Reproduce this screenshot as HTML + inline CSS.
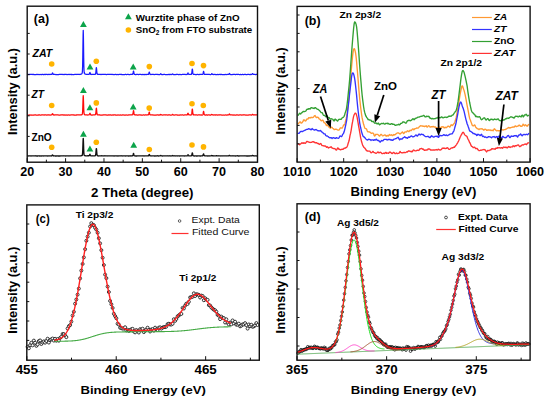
<!DOCTYPE html>
<html><head><meta charset="utf-8"><style>
html,body{margin:0;padding:0;background:#fff;}
svg{display:block;}
text{font-family:"Liberation Sans", sans-serif;}
</style></head><body>
<svg width="550" height="401" viewBox="0 0 550 401">
<rect width="550" height="401" fill="#fff"/>
<path d="M27.20,74.50 L27.35,74.48 L27.51,74.47 L27.66,74.44 L27.81,74.44 L27.97,74.48 L28.12,74.49 L28.27,74.48 L28.43,74.52 L28.58,74.53 L28.74,74.50 L28.89,74.48 L29.04,74.50 L29.20,74.50 L29.35,74.46 L29.50,74.45 L29.66,74.43 L29.81,74.40 L29.96,74.34 L30.12,74.36 L30.27,74.34 L30.42,74.39 L30.58,74.43 L30.73,74.47 L30.88,74.41 L31.04,74.43 L31.19,74.42 L31.35,74.42 L31.50,74.39 L31.65,74.44 L31.81,74.43 L31.96,74.41 L32.11,74.43 L32.27,74.45 L32.42,74.46 L32.57,74.51 L32.73,74.51 L32.88,74.48 L33.03,74.51 L33.19,74.51 L33.34,74.46 L33.49,74.47 L33.65,74.51 L33.80,74.47 L33.96,74.49 L34.11,74.52 L34.26,74.50 L34.42,74.52 L34.57,74.57 L34.72,74.52 L34.88,74.52 L35.03,74.55 L35.18,74.50 L35.34,74.50 L35.49,74.52 L35.64,74.54 L35.80,74.56 L35.95,74.55 L36.10,74.54 L36.26,74.53 L36.41,74.51 L36.57,74.45 L36.72,74.45 L36.87,74.44 L37.03,74.48 L37.18,74.50 L37.33,74.50 L37.49,74.49 L37.64,74.51 L37.79,74.44 L37.95,74.40 L38.10,74.43 L38.25,74.48 L38.41,74.48 L38.56,74.52 L38.71,74.53 L38.87,74.52 L39.02,74.53 L39.18,74.50 L39.33,74.50 L39.48,74.52 L39.64,74.52 L39.79,74.48 L39.94,74.47 L40.10,74.47 L40.25,74.45 L40.40,74.48 L40.56,74.50 L40.71,74.53 L40.86,74.55 L41.02,74.55 L41.17,74.55 L41.33,74.53 L41.48,74.55 L41.63,74.50 L41.79,74.51 L41.94,74.45 L42.09,74.40 L42.25,74.38 L42.40,74.39 L42.55,74.38 L42.71,74.48 L42.86,74.51 L43.01,74.50 L43.17,74.53 L43.32,74.53 L43.47,74.48 L43.63,74.49 L43.78,74.52 L43.94,74.53 L44.09,74.49 L44.24,74.50 L44.40,74.50 L44.55,74.46 L44.70,74.45 L44.86,74.46 L45.01,74.48 L45.16,74.49 L45.32,74.51 L45.47,74.49 L45.62,74.51 L45.78,74.44 L45.93,74.41 L46.08,74.41 L46.24,74.38 L46.39,74.40 L46.55,74.41 L46.70,74.45 L46.85,74.42 L47.01,74.49 L47.16,74.47 L47.31,74.48 L47.47,74.49 L47.62,74.55 L47.77,74.53 L47.93,74.52 L48.08,74.55 L48.23,74.49 L48.39,74.49 L48.54,74.47 L48.69,74.48 L48.85,74.46 L49.00,74.47 L49.16,74.41 L49.31,74.46 L49.46,74.45 L49.62,74.50 L49.77,74.51 L49.92,74.52 L50.08,74.48 L50.23,74.47 L50.38,74.45 L50.54,74.44 L50.69,74.45 L50.84,74.42 L51.00,74.41 L51.15,74.44 L51.30,74.43 L51.46,74.40 L51.61,74.41 L51.77,74.39 L51.92,74.17 L52.07,73.91 L52.23,73.53 L52.38,73.10 L52.53,72.92 L52.69,73.12 L52.84,73.51 L52.99,73.89 L53.15,74.21 L53.30,74.33 L53.45,74.40 L53.61,74.40 L53.76,74.40 L53.91,74.43 L54.07,74.44 L54.22,74.45 L54.38,74.48 L54.53,74.50 L54.68,74.46 L54.84,74.49 L54.99,74.47 L55.14,74.47 L55.30,74.48 L55.45,74.52 L55.60,74.53 L55.76,74.54 L55.91,74.53 L56.06,74.50 L56.22,74.50 L56.37,74.50 L56.52,74.49 L56.68,74.52 L56.83,74.57 L56.99,74.57 L57.14,74.57 L57.29,74.56 L57.45,74.58 L57.60,74.53 L57.75,74.53 L57.91,74.52 L58.06,74.56 L58.21,74.56 L58.37,74.63 L58.52,74.58 L58.67,74.53 L58.83,74.53 L58.98,74.46 L59.13,74.42 L59.29,74.47 L59.44,74.47 L59.60,74.40 L59.75,74.43 L59.90,74.43 L60.06,74.41 L60.21,74.45 L60.36,74.48 L60.52,74.43 L60.67,74.43 L60.82,74.41 L60.98,74.37 L61.13,74.40 L61.28,74.44 L61.44,74.45 L61.59,74.45 L61.74,74.48 L61.90,74.44 L62.05,74.42 L62.21,74.42 L62.36,74.42 L62.51,74.44 L62.67,74.48 L62.82,74.55 L62.97,74.51 L63.13,74.55 L63.28,74.54 L63.43,74.53 L63.59,74.45 L63.74,74.47 L63.89,74.46 L64.05,74.46 L64.20,74.47 L64.36,74.49 L64.51,74.53 L64.66,74.51 L64.82,74.46 L64.97,74.45 L65.12,74.40 L65.28,74.30 L65.43,74.29 L65.58,74.37 L65.74,74.39 L65.89,74.41 L66.04,74.46 L66.20,74.50 L66.35,74.47 L66.50,74.47 L66.66,74.50 L66.81,74.52 L66.97,74.52 L67.12,74.53 L67.27,74.53 L67.43,74.51 L67.58,74.52 L67.73,74.48 L67.89,74.49 L68.04,74.46 L68.19,74.48 L68.35,74.47 L68.50,74.45 L68.65,74.47 L68.81,74.53 L68.96,74.52 L69.11,74.54 L69.27,74.58 L69.42,74.48 L69.58,74.45 L69.73,74.46 L69.88,74.44 L70.04,74.41 L70.19,74.46 L70.34,74.45 L70.50,74.48 L70.65,74.49 L70.80,74.51 L70.96,74.56 L71.11,74.55 L71.26,74.51 L71.42,74.46 L71.57,74.50 L71.72,74.48 L71.88,74.52 L72.03,74.54 L72.19,74.59 L72.34,74.55 L72.49,74.52 L72.65,74.50 L72.80,74.48 L72.95,74.52 L73.11,74.52 L73.26,74.53 L73.41,74.52 L73.57,74.50 L73.72,74.50 L73.87,74.50 L74.03,74.50 L74.18,74.51 L74.33,74.50 L74.49,74.46 L74.64,74.46 L74.80,74.45 L74.95,74.45 L75.10,74.47 L75.26,74.48 L75.41,74.42 L75.56,74.42 L75.72,74.40 L75.87,74.43 L76.02,74.41 L76.18,74.46 L76.33,74.50 L76.48,74.51 L76.64,74.47 L76.79,74.49 L76.94,74.48 L77.10,74.41 L77.25,74.43 L77.41,74.49 L77.56,74.48 L77.71,74.47 L77.87,74.47 L78.02,74.46 L78.17,74.38 L78.33,74.35 L78.48,74.38 L78.63,74.38 L78.79,74.40 L78.94,74.46 L79.09,74.48 L79.25,74.46 L79.40,74.52 L79.55,74.48 L79.71,74.42 L79.86,74.37 L80.02,74.34 L80.17,74.31 L80.32,74.32 L80.48,74.29 L80.63,74.28 L80.78,74.24 L80.94,74.18 L81.09,74.10 L81.24,74.08 L81.40,74.04 L81.55,73.96 L81.70,73.85 L81.86,73.71 L82.01,73.49 L82.16,73.12 L82.32,72.32 L82.47,70.31 L82.63,65.88 L82.78,57.86 L82.93,46.64 L83.09,35.42 L83.24,30.39 L83.39,35.39 L83.55,46.58 L83.70,57.78 L83.85,65.77 L84.01,70.22 L84.16,72.21 L84.31,73.05 L84.47,73.49 L84.62,73.75 L84.77,73.89 L84.93,73.98 L85.08,74.05 L85.24,74.05 L85.39,74.07 L85.54,74.14 L85.70,74.17 L85.85,74.23 L86.00,74.28 L86.16,74.36 L86.31,74.36 L86.46,74.42 L86.62,74.40 L86.77,74.38 L86.92,74.35 L87.08,74.34 L87.23,74.30 L87.39,74.33 L87.54,74.34 L87.69,74.36 L87.85,74.41 L88.00,74.41 L88.15,74.37 L88.31,74.38 L88.46,74.38 L88.61,74.35 L88.77,74.40 L88.92,74.41 L89.07,74.33 L89.23,74.19 L89.38,73.98 L89.53,73.56 L89.69,72.99 L89.84,72.58 L90.00,72.50 L90.15,72.84 L90.30,73.35 L90.46,73.87 L90.61,74.13 L90.76,74.35 L90.92,74.39 L91.07,74.47 L91.22,74.47 L91.38,74.51 L91.53,74.42 L91.68,74.42 L91.84,74.41 L91.99,74.40 L92.14,74.42 L92.30,74.47 L92.45,74.45 L92.61,74.42 L92.76,74.44 L92.91,74.41 L93.07,74.39 L93.22,74.39 L93.37,74.40 L93.53,74.38 L93.68,74.35 L93.83,74.36 L93.99,74.39 L94.14,74.36 L94.29,74.38 L94.45,74.38 L94.60,74.35 L94.75,74.34 L94.91,74.34 L95.06,74.35 L95.22,74.30 L95.37,74.25 L95.52,74.01 L95.68,73.52 L95.83,72.53 L95.98,70.98 L96.14,69.11 L96.29,67.70 L96.44,67.70 L96.60,69.09 L96.75,70.98 L96.90,72.54 L97.06,73.50 L97.21,74.01 L97.36,74.18 L97.52,74.28 L97.67,74.28 L97.83,74.28 L97.98,74.30 L98.13,74.38 L98.29,74.34 L98.44,74.35 L98.59,74.39 L98.75,74.37 L98.90,74.35 L99.05,74.38 L99.21,74.39 L99.36,74.42 L99.51,74.44 L99.67,74.44 L99.82,74.44 L99.97,74.43 L100.13,74.37 L100.28,74.44 L100.44,74.42 L100.59,74.45 L100.74,74.48 L100.90,74.53 L101.05,74.48 L101.20,74.54 L101.36,74.51 L101.51,74.47 L101.66,74.45 L101.82,74.41 L101.97,74.39 L102.12,74.43 L102.28,74.45 L102.43,74.44 L102.58,74.46 L102.74,74.48 L102.89,74.39 L103.05,74.43 L103.20,74.43 L103.35,74.47 L103.51,74.41 L103.66,74.47 L103.81,74.42 L103.97,74.42 L104.12,74.43 L104.27,74.48 L104.43,74.48 L104.58,74.49 L104.73,74.47 L104.89,74.43 L105.04,74.41 L105.19,74.41 L105.35,74.43 L105.50,74.45 L105.66,74.46 L105.81,74.46 L105.96,74.49 L106.12,74.54 L106.27,74.56 L106.42,74.55 L106.58,74.55 L106.73,74.50 L106.88,74.44 L107.04,74.44 L107.19,74.43 L107.34,74.45 L107.50,74.46 L107.65,74.49 L107.80,74.48 L107.96,74.49 L108.11,74.45 L108.27,74.45 L108.42,74.43 L108.57,74.44 L108.73,74.46 L108.88,74.45 L109.03,74.46 L109.19,74.44 L109.34,74.42 L109.49,74.41 L109.65,74.39 L109.80,74.39 L109.95,74.43 L110.11,74.44 L110.26,74.44 L110.42,74.48 L110.57,74.45 L110.72,74.44 L110.88,74.43 L111.03,74.45 L111.18,74.43 L111.34,74.46 L111.49,74.47 L111.64,74.48 L111.80,74.46 L111.95,74.50 L112.10,74.46 L112.26,74.47 L112.41,74.48 L112.56,74.49 L112.72,74.49 L112.87,74.51 L113.03,74.50 L113.18,74.51 L113.33,74.51 L113.49,74.51 L113.64,74.48 L113.79,74.50 L113.95,74.52 L114.10,74.53 L114.25,74.53 L114.41,74.53 L114.56,74.54 L114.71,74.51 L114.87,74.42 L115.02,74.43 L115.17,74.43 L115.33,74.37 L115.48,74.36 L115.64,74.45 L115.79,74.44 L115.94,74.48 L116.10,74.55 L116.25,74.61 L116.40,74.57 L116.56,74.58 L116.71,74.54 L116.86,74.48 L117.02,74.45 L117.17,74.46 L117.32,74.47 L117.48,74.53 L117.63,74.52 L117.78,74.51 L117.94,74.52 L118.09,74.53 L118.25,74.53 L118.40,74.56 L118.55,74.56 L118.71,74.55 L118.86,74.51 L119.01,74.44 L119.17,74.45 L119.32,74.46 L119.47,74.45 L119.63,74.44 L119.78,74.47 L119.93,74.44 L120.09,74.42 L120.24,74.36 L120.39,74.39 L120.55,74.42 L120.70,74.45 L120.86,74.45 L121.01,74.51 L121.16,74.53 L121.32,74.44 L121.47,74.43 L121.62,74.46 L121.78,74.48 L121.93,74.50 L122.08,74.59 L122.24,74.60 L122.39,74.60 L122.54,74.60 L122.70,74.55 L122.85,74.52 L123.00,74.53 L123.16,74.57 L123.31,74.55 L123.47,74.56 L123.62,74.57 L123.77,74.58 L123.93,74.53 L124.08,74.57 L124.23,74.55 L124.39,74.54 L124.54,74.50 L124.69,74.52 L124.85,74.51 L125.00,74.50 L125.15,74.48 L125.31,74.49 L125.46,74.46 L125.61,74.39 L125.77,74.46 L125.92,74.49 L126.08,74.49 L126.23,74.50 L126.38,74.56 L126.54,74.53 L126.69,74.54 L126.84,74.51 L127.00,74.50 L127.15,74.48 L127.30,74.47 L127.46,74.46 L127.61,74.48 L127.76,74.48 L127.92,74.48 L128.07,74.49 L128.22,74.49 L128.38,74.47 L128.53,74.48 L128.69,74.51 L128.84,74.57 L128.99,74.60 L129.15,74.61 L129.30,74.63 L129.45,74.64 L129.61,74.58 L129.76,74.51 L129.91,74.51 L130.07,74.51 L130.22,74.45 L130.37,74.42 L130.53,74.40 L130.68,74.42 L130.83,74.38 L130.99,74.40 L131.14,74.44 L131.30,74.49 L131.45,74.46 L131.60,74.49 L131.76,74.46 L131.91,74.44 L132.06,74.39 L132.22,74.41 L132.37,74.38 L132.52,74.34 L132.68,74.23 L132.83,74.01 L132.98,73.51 L133.14,72.70 L133.29,71.75 L133.45,71.04 L133.60,71.11 L133.75,71.82 L133.91,72.80 L134.06,73.62 L134.21,74.16 L134.37,74.34 L134.52,74.41 L134.67,74.49 L134.83,74.50 L134.98,74.48 L135.13,74.49 L135.29,74.55 L135.44,74.57 L135.59,74.57 L135.75,74.58 L135.90,74.54 L136.06,74.52 L136.21,74.47 L136.36,74.47 L136.52,74.47 L136.67,74.51 L136.82,74.46 L136.98,74.47 L137.13,74.45 L137.28,74.42 L137.44,74.42 L137.59,74.45 L137.74,74.39 L137.90,74.43 L138.05,74.45 L138.20,74.49 L138.36,74.55 L138.51,74.60 L138.67,74.53 L138.82,74.50 L138.97,74.45 L139.13,74.39 L139.28,74.39 L139.43,74.39 L139.59,74.42 L139.74,74.41 L139.89,74.43 L140.05,74.42 L140.20,74.46 L140.35,74.45 L140.51,74.48 L140.66,74.46 L140.81,74.42 L140.97,74.43 L141.12,74.47 L141.28,74.53 L141.43,74.58 L141.58,74.64 L141.74,74.62 L141.89,74.61 L142.04,74.56 L142.20,74.53 L142.35,74.50 L142.50,74.52 L142.66,74.48 L142.81,74.48 L142.96,74.45 L143.12,74.45 L143.27,74.50 L143.42,74.51 L143.58,74.51 L143.73,74.55 L143.89,74.57 L144.04,74.49 L144.19,74.49 L144.35,74.51 L144.50,74.51 L144.65,74.49 L144.81,74.56 L144.96,74.55 L145.11,74.53 L145.27,74.51 L145.42,74.54 L145.57,74.45 L145.73,74.45 L145.88,74.44 L146.03,74.47 L146.19,74.44 L146.34,74.52 L146.50,74.50 L146.65,74.53 L146.80,74.51 L146.96,74.47 L147.11,74.45 L147.26,74.46 L147.42,74.39 L147.57,74.39 L147.72,74.36 L147.88,74.32 L148.03,74.34 L148.18,74.38 L148.34,74.38 L148.49,74.31 L148.64,74.06 L148.80,73.61 L148.95,73.00 L149.11,72.35 L149.26,72.10 L149.41,72.38 L149.57,72.94 L149.72,73.56 L149.87,74.01 L150.03,74.24 L150.18,74.36 L150.33,74.47 L150.49,74.47 L150.64,74.51 L150.79,74.52 L150.95,74.54 L151.10,74.53 L151.25,74.50 L151.41,74.47 L151.56,74.46 L151.72,74.45 L151.87,74.41 L152.02,74.49 L152.18,74.50 L152.33,74.47 L152.48,74.43 L152.64,74.46 L152.79,74.42 L152.94,74.40 L153.10,74.43 L153.25,74.45 L153.40,74.47 L153.56,74.46 L153.71,74.48 L153.86,74.50 L154.02,74.57 L154.17,74.54 L154.33,74.54 L154.48,74.52 L154.63,74.52 L154.79,74.43 L154.94,74.44 L155.09,74.45 L155.25,74.45 L155.40,74.41 L155.55,74.43 L155.71,74.39 L155.86,74.35 L156.01,74.37 L156.17,74.39 L156.32,74.40 L156.48,74.41 L156.63,74.43 L156.78,74.46 L156.94,74.47 L157.09,74.47 L157.24,74.49 L157.40,74.52 L157.55,74.49 L157.70,74.44 L157.86,74.43 L158.01,74.48 L158.16,74.47 L158.32,74.51 L158.47,74.53 L158.62,74.57 L158.78,74.52 L158.93,74.51 L159.09,74.54 L159.24,74.57 L159.39,74.53 L159.55,74.54 L159.70,74.54 L159.85,74.50 L160.01,74.43 L160.16,74.32 L160.31,74.17 L160.47,73.96 L160.62,73.73 L160.77,73.68 L160.93,73.82 L161.08,74.05 L161.23,74.23 L161.39,74.39 L161.54,74.49 L161.70,74.54 L161.85,74.54 L162.00,74.58 L162.16,74.61 L162.31,74.54 L162.46,74.52 L162.62,74.52 L162.77,74.54 L162.92,74.49 L163.08,74.52 L163.23,74.51 L163.38,74.51 L163.54,74.48 L163.69,74.47 L163.84,74.46 L164.00,74.49 L164.15,74.46 L164.31,74.46 L164.46,74.50 L164.61,74.48 L164.77,74.46 L164.92,74.46 L165.07,74.49 L165.23,74.53 L165.38,74.61 L165.53,74.60 L165.69,74.64 L165.84,74.62 L165.99,74.56 L166.15,74.55 L166.30,74.53 L166.45,74.53 L166.61,74.53 L166.76,74.56 L166.92,74.53 L167.07,74.54 L167.22,74.52 L167.38,74.54 L167.53,74.51 L167.68,74.52 L167.84,74.52 L167.99,74.46 L168.14,74.47 L168.30,74.48 L168.45,74.48 L168.60,74.49 L168.76,74.57 L168.91,74.53 L169.06,74.50 L169.22,74.49 L169.37,74.52 L169.53,74.46 L169.68,74.50 L169.83,74.50 L169.99,74.48 L170.14,74.48 L170.29,74.51 L170.45,74.45 L170.60,74.46 L170.75,74.50 L170.91,74.50 L171.06,74.49 L171.21,74.53 L171.37,74.55 L171.52,74.51 L171.67,74.48 L171.83,74.48 L171.98,74.41 L172.14,74.30 L172.29,74.18 L172.44,74.01 L172.60,73.88 L172.75,73.88 L172.90,74.04 L173.06,74.21 L173.21,74.36 L173.36,74.49 L173.52,74.55 L173.67,74.60 L173.82,74.58 L173.98,74.58 L174.13,74.55 L174.28,74.58 L174.44,74.57 L174.59,74.54 L174.75,74.50 L174.90,74.53 L175.05,74.50 L175.21,74.48 L175.36,74.52 L175.51,74.56 L175.67,74.56 L175.82,74.54 L175.97,74.54 L176.13,74.49 L176.28,74.50 L176.43,74.46 L176.59,74.48 L176.74,74.45 L176.89,74.48 L177.05,74.48 L177.20,74.48 L177.36,74.44 L177.51,74.40 L177.66,74.42 L177.82,74.43 L177.97,74.47 L178.12,74.49 L178.28,74.55 L178.43,74.56 L178.58,74.54 L178.74,74.53 L178.89,74.56 L179.04,74.53 L179.20,74.52 L179.35,74.52 L179.51,74.51 L179.66,74.46 L179.81,74.49 L179.97,74.49 L180.12,74.50 L180.27,74.48 L180.43,74.51 L180.58,74.50 L180.73,74.50 L180.89,74.53 L181.04,74.56 L181.19,74.60 L181.35,74.61 L181.50,74.60 L181.65,74.55 L181.81,74.55 L181.96,74.51 L182.12,74.48 L182.27,74.49 L182.42,74.46 L182.58,74.44 L182.73,74.39 L182.88,74.39 L183.04,74.38 L183.19,74.41 L183.34,74.41 L183.50,74.47 L183.65,74.43 L183.80,74.40 L183.96,74.39 L184.11,74.35 L184.26,74.32 L184.42,74.39 L184.57,74.41 L184.73,74.45 L184.88,74.46 L185.03,74.49 L185.19,74.45 L185.34,74.47 L185.49,74.47 L185.65,74.54 L185.80,74.53 L185.95,74.54 L186.11,74.52 L186.26,74.52 L186.41,74.47 L186.57,74.48 L186.72,74.47 L186.87,74.52 L187.03,74.44 L187.18,74.39 L187.34,74.29 L187.49,74.07 L187.64,73.68 L187.80,73.32 L187.95,72.99 L188.10,72.97 L188.26,73.34 L188.41,73.79 L188.56,74.10 L188.72,74.32 L188.87,74.41 L189.02,74.42 L189.18,74.39 L189.33,74.40 L189.48,74.45 L189.64,74.48 L189.79,74.45 L189.95,74.44 L190.10,74.42 L190.25,74.37 L190.41,74.29 L190.56,74.31 L190.71,74.31 L190.87,74.35 L191.02,74.39 L191.17,74.44 L191.33,74.32 L191.48,74.19 L191.63,73.83 L191.79,73.00 L191.94,71.73 L192.09,70.28 L192.25,69.11 L192.40,69.11 L192.56,70.18 L192.71,71.66 L192.86,72.88 L193.02,73.67 L193.17,74.02 L193.32,74.25 L193.48,74.34 L193.63,74.41 L193.78,74.39 L193.94,74.40 L194.09,74.39 L194.24,74.41 L194.40,74.39 L194.55,74.43 L194.70,74.42 L194.86,74.46 L195.01,74.46 L195.17,74.45 L195.32,74.52 L195.47,74.59 L195.63,74.54 L195.78,74.54 L195.93,74.62 L196.09,74.59 L196.24,74.54 L196.39,74.57 L196.55,74.55 L196.70,74.49 L196.85,74.46 L197.01,74.47 L197.16,74.46 L197.31,74.47 L197.47,74.44 L197.62,74.46 L197.78,74.42 L197.93,74.42 L198.08,74.46 L198.24,74.50 L198.39,74.51 L198.54,74.54 L198.70,74.54 L198.85,74.52 L199.00,74.50 L199.16,74.51 L199.31,74.47 L199.46,74.50 L199.62,74.51 L199.77,74.49 L199.92,74.46 L200.08,74.47 L200.23,74.44 L200.39,74.43 L200.54,74.47 L200.69,74.46 L200.85,74.42 L201.00,74.40 L201.15,74.37 L201.31,74.33 L201.46,74.38 L201.61,74.44 L201.77,74.42 L201.92,74.45 L202.07,74.48 L202.23,74.45 L202.38,74.42 L202.54,74.44 L202.69,74.44 L202.84,74.25 L203.00,73.87 L203.15,73.23 L203.30,72.37 L203.46,71.55 L203.61,71.31 L203.76,71.82 L203.92,72.64 L204.07,73.39 L204.22,73.92 L204.38,74.27 L204.53,74.37 L204.68,74.44 L204.84,74.46 L204.99,74.48 L205.15,74.46 L205.30,74.48 L205.45,74.47 L205.61,74.43 L205.76,74.41 L205.91,74.40 L206.07,74.41 L206.22,74.41 L206.37,74.44 L206.53,74.47 L206.68,74.47 L206.83,74.45 L206.99,74.47 L207.14,74.44 L207.29,74.41 L207.45,74.44 L207.60,74.40 L207.76,74.40 L207.91,74.45 L208.06,74.47 L208.22,74.41 L208.37,74.46 L208.52,74.47 L208.68,74.46 L208.83,74.42 L208.98,74.44 L209.14,74.42 L209.29,74.41 L209.44,74.41 L209.60,74.47 L209.75,74.50 L209.90,74.51 L210.06,74.54 L210.21,74.56 L210.37,74.57 L210.52,74.58 L210.67,74.58 L210.83,74.55 L210.98,74.51 L211.13,74.40 L211.29,74.26 L211.44,74.07 L211.59,73.85 L211.75,73.63 L211.90,73.64 L212.05,73.80 L212.21,74.05 L212.36,74.26 L212.51,74.41 L212.67,74.48 L212.82,74.49 L212.98,74.48 L213.13,74.46 L213.28,74.48 L213.44,74.53 L213.59,74.55 L213.74,74.50 L213.90,74.49 L214.05,74.44 L214.20,74.37 L214.36,74.40 L214.51,74.45 L214.66,74.43 L214.82,74.48 L214.97,74.54 L215.12,74.50 L215.28,74.48 L215.43,74.51 L215.59,74.50 L215.74,74.49 L215.89,74.52 L216.05,74.57 L216.20,74.61 L216.35,74.63 L216.51,74.63 L216.66,74.57 L216.81,74.53 L216.97,74.51 L217.12,74.47 L217.27,74.48 L217.43,74.51 L217.58,74.49 L217.73,74.51 L217.89,74.54 L218.04,74.52 L218.20,74.55 L218.35,74.60 L218.50,74.58 L218.66,74.50 L218.81,74.48 L218.96,74.45 L219.12,74.40 L219.27,74.39 L219.42,74.48 L219.58,74.49 L219.73,74.47 L219.88,74.54 L220.04,74.53 L220.19,74.47 L220.34,74.48 L220.50,74.52 L220.65,74.46 L220.81,74.49 L220.96,74.50 L221.11,74.48 L221.27,74.47 L221.42,74.51 L221.57,74.47 L221.73,74.49 L221.88,74.51 L222.03,74.58 L222.19,74.54 L222.34,74.59 L222.49,74.58 L222.65,74.58 L222.80,74.53 L222.95,74.57 L223.11,74.56 L223.26,74.57 L223.42,74.56 L223.57,74.53 L223.72,74.52 L223.88,74.50 L224.03,74.53 L224.18,74.55 L224.34,74.59 L224.49,74.62 L224.64,74.61 L224.80,74.54 L224.95,74.50 L225.10,74.44 L225.26,74.44 L225.41,74.42 L225.57,74.48 L225.72,74.52 L225.87,74.60 L226.03,74.58 L226.18,74.60 L226.33,74.57 L226.49,74.56 L226.64,74.52 L226.79,74.48 L226.95,74.48 L227.10,74.52 L227.25,74.48 L227.41,74.48 L227.56,74.47 L227.71,74.47 L227.87,74.45 L228.02,74.49 L228.18,74.50 L228.33,74.48 L228.48,74.49 L228.64,74.42 L228.79,74.37 L228.94,74.22 L229.10,73.97 L229.25,73.66 L229.40,73.47 L229.56,73.50 L229.71,73.70 L229.86,74.04 L230.02,74.24 L230.17,74.41 L230.32,74.49 L230.48,74.51 L230.63,74.51 L230.79,74.51 L230.94,74.50 L231.09,74.53 L231.25,74.55 L231.40,74.58 L231.55,74.64 L231.71,74.59 L231.86,74.56 L232.01,74.52 L232.17,74.48 L232.32,74.48 L232.47,74.52 L232.63,74.50 L232.78,74.54 L232.93,74.53 L233.09,74.49 L233.24,74.47 L233.40,74.44 L233.55,74.40 L233.70,74.39 L233.86,74.41 L234.01,74.36 L234.16,74.35 L234.32,74.34 L234.47,74.37 L234.62,74.40 L234.78,74.49 L234.93,74.49 L235.08,74.51 L235.24,74.53 L235.39,74.51 L235.54,74.46 L235.70,74.53 L235.85,74.54 L236.01,74.49 L236.16,74.46 L236.31,74.48 L236.47,74.45 L236.62,74.42 L236.77,74.43 L236.93,74.47 L237.08,74.48 L237.23,74.45 L237.39,74.50 L237.54,74.54 L237.69,74.48 L237.85,74.46 L238.00,74.49 L238.15,74.46 L238.31,74.39 L238.46,74.43 L238.62,74.46 L238.77,74.48 L238.92,74.44 L239.08,74.56 L239.23,74.54 L239.38,74.54 L239.54,74.53 L239.69,74.61 L239.84,74.55 L240.00,74.55 L240.15,74.54 L240.30,74.50 L240.46,74.41 L240.61,74.48 L240.76,74.52 L240.92,74.55 L241.07,74.55 L241.23,74.64 L241.38,74.61 L241.53,74.63 L241.69,74.59 L241.84,74.58 L241.99,74.54 L242.15,74.45 L242.30,74.37 L242.45,74.37 L242.61,74.38 L242.76,74.38 L242.91,74.43 L243.07,74.52 L243.22,74.55 L243.37,74.57 L243.53,74.60 L243.68,74.59 L243.84,74.53 L243.99,74.52 L244.14,74.49 L244.30,74.46 L244.45,74.44 L244.60,74.46 L244.76,74.47 L244.91,74.48 L245.06,74.50 L245.22,74.51 L245.37,74.48 L245.52,74.41 L245.68,74.46 L245.83,74.51 L245.98,74.54 L246.14,74.56 L246.29,74.60 L246.45,74.56 L246.60,74.52 L246.75,74.52 L246.91,74.54 L247.06,74.54 L247.21,74.53 L247.37,74.50 L247.52,74.45 L247.67,74.44 L247.83,74.39 L247.98,74.40 L248.13,74.39 L248.29,74.43 L248.44,74.45 L248.60,74.45 L248.75,74.43 L248.90,74.43 L249.06,74.45 L249.21,74.48 L249.36,74.53 L249.52,74.54 L249.67,74.60 L249.82,74.55 L249.98,74.54 L250.13,74.50 L250.28,74.44 L250.44,74.47 L250.59,74.55 L250.74,74.48 L250.90,74.50 L251.05,74.56 L251.21,74.49 L251.36,74.41 L251.51,74.41 L251.67,74.39 L251.82,74.33 L251.97,74.22 L252.13,74.03 L252.28,73.84 L252.43,73.61 L252.59,73.61 L252.74,73.73 L252.89,73.97 L253.05,74.17 L253.20,74.30 L253.35,74.38 L253.51,74.45 L253.66,74.47 L253.82,74.43 L253.97,74.45 L254.12,74.43 L254.28,74.45 L254.43,74.49 L254.58,74.49 L254.74,74.48 L254.89,74.50 L255.04,74.48 L255.20,74.49 L255.35,74.57 L255.50,74.61 L255.66,74.60 L255.81,74.60 L255.96,74.56 L256.12,74.47 L256.27,74.43 L256.43,74.42 L256.58,74.41 L256.73,74.45 L256.89,74.46 L257.04,74.48 L257.19,74.46 L257.35,74.47 L257.50,74.45" fill="none" stroke="#1a1aff" stroke-width="1.25" stroke-linejoin="round" />
<path d="M27.20,115.09 L27.35,115.11 L27.51,115.15 L27.66,115.10 L27.81,115.11 L27.97,115.13 L28.12,115.08 L28.27,115.07 L28.43,115.12 L28.58,115.11 L28.74,115.07 L28.89,115.13 L29.04,115.08 L29.20,115.05 L29.35,115.02 L29.50,114.99 L29.66,114.94 L29.81,114.95 L29.96,114.95 L30.12,114.98 L30.27,114.96 L30.42,115.02 L30.58,115.06 L30.73,115.07 L30.88,115.05 L31.04,115.08 L31.19,115.05 L31.35,115.03 L31.50,114.97 L31.65,115.00 L31.81,115.07 L31.96,115.01 L32.11,115.03 L32.27,115.08 L32.42,115.06 L32.57,115.02 L32.73,115.03 L32.88,115.01 L33.03,115.04 L33.19,115.04 L33.34,115.00 L33.49,115.03 L33.65,115.01 L33.80,115.01 L33.96,115.00 L34.11,115.03 L34.26,114.99 L34.42,115.02 L34.57,114.98 L34.72,114.94 L34.88,114.92 L35.03,114.92 L35.18,114.90 L35.34,114.94 L35.49,114.97 L35.64,114.95 L35.80,115.01 L35.95,115.02 L36.10,115.02 L36.26,115.06 L36.41,115.06 L36.57,115.02 L36.72,115.05 L36.87,115.04 L37.03,115.03 L37.18,115.05 L37.33,115.05 L37.49,115.01 L37.64,115.03 L37.79,115.03 L37.95,115.00 L38.10,114.99 L38.25,115.03 L38.41,114.99 L38.56,114.99 L38.71,115.00 L38.87,115.01 L39.02,114.95 L39.18,114.91 L39.33,114.93 L39.48,114.93 L39.64,114.94 L39.79,115.01 L39.94,115.06 L40.10,115.04 L40.25,115.11 L40.40,115.11 L40.56,115.08 L40.71,115.08 L40.86,115.09 L41.02,115.01 L41.17,115.00 L41.33,115.00 L41.48,114.94 L41.63,114.92 L41.79,114.94 L41.94,114.92 L42.09,114.89 L42.25,114.93 L42.40,114.93 L42.55,114.94 L42.71,114.92 L42.86,114.98 L43.01,114.96 L43.17,114.95 L43.32,114.98 L43.47,114.99 L43.63,114.97 L43.78,115.02 L43.94,115.02 L44.09,114.98 L44.24,115.00 L44.40,115.04 L44.55,114.96 L44.70,114.95 L44.86,114.93 L45.01,114.90 L45.16,114.85 L45.32,114.88 L45.47,114.91 L45.62,114.92 L45.78,114.95 L45.93,114.98 L46.08,114.98 L46.24,114.97 L46.39,115.04 L46.55,115.04 L46.70,115.02 L46.85,115.03 L47.01,115.01 L47.16,114.97 L47.31,114.99 L47.47,114.98 L47.62,114.98 L47.77,115.03 L47.93,115.01 L48.08,114.99 L48.23,114.99 L48.39,114.97 L48.54,114.93 L48.69,115.00 L48.85,114.98 L49.00,114.99 L49.16,115.00 L49.31,115.01 L49.46,114.97 L49.62,114.98 L49.77,115.05 L49.92,115.06 L50.08,115.10 L50.23,115.09 L50.38,115.10 L50.54,115.01 L50.69,115.00 L50.84,114.96 L51.00,114.95 L51.15,114.88 L51.30,114.93 L51.46,114.91 L51.61,114.88 L51.77,114.82 L51.92,114.73 L52.07,114.48 L52.23,114.13 L52.38,113.79 L52.53,113.66 L52.69,113.81 L52.84,114.12 L52.99,114.47 L53.15,114.71 L53.30,114.83 L53.45,114.92 L53.61,114.93 L53.76,114.99 L53.91,115.03 L54.07,115.03 L54.22,115.02 L54.38,115.01 L54.53,114.94 L54.68,114.89 L54.84,114.89 L54.99,114.87 L55.14,114.89 L55.30,114.93 L55.45,114.91 L55.60,114.94 L55.76,114.91 L55.91,114.91 L56.06,114.90 L56.22,114.92 L56.37,114.88 L56.52,114.89 L56.68,114.90 L56.83,114.93 L56.99,114.97 L57.14,114.98 L57.29,114.98 L57.45,114.96 L57.60,114.96 L57.75,114.89 L57.91,114.95 L58.06,114.95 L58.21,114.96 L58.37,114.96 L58.52,115.03 L58.67,115.01 L58.83,115.04 L58.98,115.07 L59.13,115.09 L59.29,115.09 L59.44,115.08 L59.60,115.09 L59.75,115.09 L59.90,115.07 L60.06,115.01 L60.21,115.01 L60.36,114.99 L60.52,114.96 L60.67,114.97 L60.82,115.00 L60.98,115.02 L61.13,114.94 L61.28,114.97 L61.44,114.97 L61.59,114.95 L61.74,114.94 L61.90,114.94 L62.05,114.96 L62.21,114.92 L62.36,114.96 L62.51,114.92 L62.67,114.99 L62.82,114.97 L62.97,115.00 L63.13,114.96 L63.28,114.99 L63.43,115.03 L63.59,115.01 L63.74,114.98 L63.89,114.99 L64.05,114.98 L64.20,114.96 L64.36,115.02 L64.51,115.02 L64.66,114.98 L64.82,115.04 L64.97,115.03 L65.12,115.01 L65.28,115.06 L65.43,115.08 L65.58,115.05 L65.74,114.99 L65.89,114.93 L66.04,114.93 L66.20,114.93 L66.35,114.99 L66.50,115.03 L66.66,115.05 L66.81,115.04 L66.97,115.10 L67.12,115.06 L67.27,115.03 L67.43,115.05 L67.58,115.06 L67.73,115.01 L67.89,114.98 L68.04,115.03 L68.19,115.03 L68.35,114.97 L68.50,114.97 L68.65,114.97 L68.81,114.95 L68.96,114.95 L69.11,115.01 L69.27,115.03 L69.42,115.01 L69.58,115.01 L69.73,115.03 L69.88,115.02 L70.04,115.02 L70.19,115.05 L70.34,115.02 L70.50,115.02 L70.65,114.98 L70.80,114.90 L70.96,114.94 L71.11,114.95 L71.26,114.92 L71.42,114.91 L71.57,114.93 L71.72,114.88 L71.88,114.88 L72.03,114.90 L72.19,114.88 L72.34,114.93 L72.49,114.93 L72.65,114.91 L72.80,114.92 L72.95,114.97 L73.11,114.92 L73.26,114.99 L73.41,114.99 L73.57,114.98 L73.72,114.99 L73.87,115.06 L74.03,115.00 L74.18,115.05 L74.33,115.02 L74.49,115.05 L74.64,114.99 L74.80,115.00 L74.95,115.02 L75.10,115.04 L75.26,115.02 L75.41,115.09 L75.56,115.10 L75.72,115.04 L75.87,115.05 L76.02,115.02 L76.18,114.99 L76.33,115.01 L76.48,115.01 L76.64,114.98 L76.79,115.01 L76.94,114.99 L77.10,114.93 L77.25,114.96 L77.41,114.92 L77.56,114.91 L77.71,114.90 L77.87,114.91 L78.02,114.90 L78.17,114.92 L78.33,114.94 L78.48,114.95 L78.63,114.94 L78.79,114.89 L78.94,114.89 L79.09,114.88 L79.25,114.86 L79.40,114.88 L79.55,114.93 L79.71,114.98 L79.86,115.00 L80.02,115.01 L80.17,114.98 L80.32,114.97 L80.48,114.94 L80.63,114.92 L80.78,114.91 L80.94,114.95 L81.09,114.93 L81.24,114.92 L81.40,114.87 L81.55,114.85 L81.70,114.78 L81.86,114.70 L82.01,114.61 L82.16,114.41 L82.32,114.07 L82.47,113.16 L82.63,111.22 L82.78,107.66 L82.93,102.69 L83.09,97.77 L83.24,95.55 L83.39,97.71 L83.55,102.63 L83.70,107.59 L83.85,111.14 L84.01,113.11 L84.16,114.06 L84.31,114.43 L84.47,114.61 L84.62,114.67 L84.77,114.77 L84.93,114.78 L85.08,114.86 L85.24,114.89 L85.39,114.87 L85.54,114.84 L85.70,114.87 L85.85,114.81 L86.00,114.83 L86.16,114.87 L86.31,114.87 L86.46,114.85 L86.62,114.95 L86.77,114.95 L86.92,114.96 L87.08,115.01 L87.23,115.03 L87.39,115.02 L87.54,115.01 L87.69,114.98 L87.85,114.95 L88.00,114.96 L88.15,114.96 L88.31,114.97 L88.46,114.97 L88.61,114.96 L88.77,114.96 L88.92,114.89 L89.07,114.83 L89.23,114.73 L89.38,114.51 L89.53,114.14 L89.69,113.67 L89.84,113.31 L90.00,113.24 L90.15,113.56 L90.30,114.03 L90.46,114.54 L90.61,114.78 L90.76,114.90 L90.92,114.96 L91.07,115.00 L91.22,114.99 L91.38,114.99 L91.53,115.05 L91.68,115.03 L91.84,115.04 L91.99,114.98 L92.14,115.03 L92.30,114.97 L92.45,114.99 L92.61,115.00 L92.76,115.05 L92.91,114.98 L93.07,114.98 L93.22,114.94 L93.37,114.92 L93.53,114.89 L93.68,114.90 L93.83,114.89 L93.99,114.91 L94.14,114.89 L94.29,114.89 L94.45,114.93 L94.60,114.89 L94.75,114.88 L94.91,114.87 L95.06,114.84 L95.22,114.74 L95.37,114.69 L95.52,114.46 L95.68,114.00 L95.83,113.02 L95.98,111.48 L96.14,109.62 L96.29,108.22 L96.44,108.17 L96.60,109.59 L96.75,111.48 L96.90,113.03 L97.06,114.03 L97.21,114.58 L97.36,114.75 L97.52,114.81 L97.67,114.90 L97.83,114.94 L97.98,114.91 L98.13,114.92 L98.29,114.94 L98.44,114.90 L98.59,114.83 L98.75,114.86 L98.90,114.86 L99.05,114.85 L99.21,114.89 L99.36,114.91 L99.51,114.91 L99.67,114.96 L99.82,115.01 L99.97,114.99 L100.13,115.00 L100.28,114.99 L100.44,115.02 L100.59,115.01 L100.74,115.00 L100.90,115.00 L101.05,115.03 L101.20,115.00 L101.36,115.03 L101.51,115.09 L101.66,115.08 L101.82,115.06 L101.97,115.02 L102.12,114.98 L102.28,114.95 L102.43,115.03 L102.58,115.04 L102.74,115.02 L102.89,115.00 L103.05,115.00 L103.20,114.90 L103.35,114.88 L103.51,114.92 L103.66,114.94 L103.81,114.94 L103.97,114.95 L104.12,114.99 L104.27,114.98 L104.43,114.96 L104.58,114.93 L104.73,114.94 L104.89,114.93 L105.04,114.91 L105.19,114.92 L105.35,114.97 L105.50,114.98 L105.66,114.97 L105.81,114.98 L105.96,115.01 L106.12,115.02 L106.27,115.04 L106.42,114.99 L106.58,114.99 L106.73,114.98 L106.88,115.00 L107.04,115.00 L107.19,115.07 L107.34,115.08 L107.50,115.06 L107.65,115.01 L107.80,115.02 L107.96,114.95 L108.11,114.99 L108.27,115.02 L108.42,115.00 L108.57,114.95 L108.73,115.00 L108.88,114.96 L109.03,114.87 L109.19,114.92 L109.34,114.96 L109.49,114.94 L109.65,115.00 L109.80,115.06 L109.95,115.03 L110.11,115.02 L110.26,115.01 L110.42,114.94 L110.57,114.95 L110.72,114.95 L110.88,114.94 L111.03,115.00 L111.18,115.04 L111.34,115.05 L111.49,115.08 L111.64,115.10 L111.80,115.10 L111.95,115.08 L112.10,115.10 L112.26,115.07 L112.41,115.05 L112.56,114.98 L112.72,114.97 L112.87,114.94 L113.03,115.00 L113.18,114.99 L113.33,115.02 L113.49,115.02 L113.64,114.99 L113.79,114.93 L113.95,114.94 L114.10,114.90 L114.25,114.91 L114.41,114.93 L114.56,114.94 L114.71,114.92 L114.87,114.93 L115.02,114.97 L115.17,114.94 L115.33,114.99 L115.48,115.03 L115.64,115.05 L115.79,114.98 L115.94,115.04 L116.10,115.04 L116.25,115.01 L116.40,115.01 L116.56,115.06 L116.71,115.04 L116.86,115.05 L117.02,115.06 L117.17,115.08 L117.32,115.02 L117.48,115.07 L117.63,115.00 L117.78,114.96 L117.94,114.94 L118.09,114.97 L118.25,114.97 L118.40,114.98 L118.55,115.03 L118.71,115.05 L118.86,115.09 L119.01,115.04 L119.17,115.07 L119.32,115.09 L119.47,115.06 L119.63,115.03 L119.78,115.03 L119.93,114.98 L120.09,115.00 L120.24,114.97 L120.39,115.00 L120.55,115.02 L120.70,115.04 L120.86,114.99 L121.01,115.02 L121.16,115.01 L121.32,115.00 L121.47,115.01 L121.62,115.05 L121.78,115.04 L121.93,115.04 L122.08,114.98 L122.24,114.99 L122.39,114.97 L122.54,114.98 L122.70,115.00 L122.85,115.05 L123.00,114.97 L123.16,114.97 L123.31,114.94 L123.47,114.94 L123.62,114.98 L123.77,115.04 L123.93,115.04 L124.08,115.07 L124.23,115.05 L124.39,115.00 L124.54,115.05 L124.69,115.02 L124.85,115.07 L125.00,115.03 L125.15,115.03 L125.31,115.02 L125.46,115.06 L125.61,115.00 L125.77,115.01 L125.92,114.99 L126.08,114.96 L126.23,114.97 L126.38,114.96 L126.54,114.99 L126.69,115.02 L126.84,115.03 L127.00,115.01 L127.15,115.08 L127.30,115.08 L127.46,115.09 L127.61,115.09 L127.76,115.12 L127.92,115.04 L128.07,115.06 L128.22,115.03 L128.38,115.01 L128.53,114.94 L128.69,114.94 L128.84,114.90 L128.99,114.89 L129.15,114.91 L129.30,114.90 L129.45,114.97 L129.61,114.99 L129.76,115.00 L129.91,114.97 L130.07,114.98 L130.22,114.92 L130.37,114.90 L130.53,114.90 L130.68,114.92 L130.83,114.90 L130.99,114.92 L131.14,114.90 L131.30,114.90 L131.45,114.95 L131.60,114.99 L131.76,114.98 L131.91,114.96 L132.06,114.91 L132.22,114.80 L132.37,114.78 L132.52,114.71 L132.68,114.61 L132.83,114.32 L132.98,113.74 L133.14,112.75 L133.29,111.55 L133.45,110.63 L133.60,110.63 L133.75,111.55 L133.91,112.70 L134.06,113.69 L134.21,114.29 L134.37,114.59 L134.52,114.72 L134.67,114.86 L134.83,114.89 L134.98,114.96 L135.13,115.02 L135.29,114.99 L135.44,114.93 L135.59,114.95 L135.75,114.92 L135.90,114.96 L136.06,114.95 L136.21,114.96 L136.36,114.98 L136.52,114.98 L136.67,114.94 L136.82,115.01 L136.98,115.01 L137.13,115.01 L137.28,115.04 L137.44,114.99 L137.59,115.01 L137.74,115.06 L137.90,115.07 L138.05,115.08 L138.20,115.10 L138.36,115.06 L138.51,114.98 L138.67,114.95 L138.82,114.95 L138.97,114.96 L139.13,114.96 L139.28,114.93 L139.43,114.94 L139.59,114.92 L139.74,114.93 L139.89,114.91 L140.05,115.00 L140.20,114.98 L140.35,114.95 L140.51,114.95 L140.66,115.00 L140.81,115.00 L140.97,115.04 L141.12,115.05 L141.28,115.05 L141.43,115.05 L141.58,114.98 L141.74,115.01 L141.89,115.06 L142.04,115.07 L142.20,115.06 L142.35,115.10 L142.50,115.10 L142.66,115.04 L142.81,115.07 L142.96,115.04 L143.12,115.01 L143.27,114.97 L143.42,114.99 L143.58,114.94 L143.73,114.91 L143.89,114.91 L144.04,114.94 L144.19,114.99 L144.35,115.03 L144.50,115.10 L144.65,115.11 L144.81,115.07 L144.96,115.03 L145.11,114.99 L145.27,114.93 L145.42,114.95 L145.57,114.94 L145.73,114.91 L145.88,114.94 L146.03,114.96 L146.19,114.98 L146.34,114.99 L146.50,115.00 L146.65,115.00 L146.80,115.00 L146.96,114.95 L147.11,114.94 L147.26,114.96 L147.42,114.97 L147.57,115.00 L147.72,114.97 L147.88,114.96 L148.03,114.92 L148.18,114.88 L148.34,114.78 L148.49,114.67 L148.64,114.40 L148.80,113.87 L148.95,113.07 L149.11,112.35 L149.26,112.05 L149.41,112.36 L149.57,113.13 L149.72,113.91 L149.87,114.45 L150.03,114.72 L150.18,114.85 L150.33,114.88 L150.49,114.91 L150.64,114.90 L150.79,114.92 L150.95,114.94 L151.10,114.95 L151.25,114.88 L151.41,114.88 L151.56,114.83 L151.72,114.84 L151.87,114.88 L152.02,114.98 L152.18,114.97 L152.33,115.01 L152.48,115.01 L152.64,114.97 L152.79,114.95 L152.94,114.93 L153.10,114.97 L153.25,114.97 L153.40,115.01 L153.56,115.02 L153.71,115.04 L153.86,115.01 L154.02,115.02 L154.17,115.02 L154.33,115.03 L154.48,115.01 L154.63,115.00 L154.79,115.03 L154.94,115.00 L155.09,114.99 L155.25,115.04 L155.40,115.08 L155.55,115.06 L155.71,115.05 L155.86,115.12 L156.01,115.09 L156.17,115.08 L156.32,115.06 L156.48,115.04 L156.63,114.95 L156.78,114.95 L156.94,114.94 L157.09,114.94 L157.24,114.95 L157.40,114.95 L157.55,114.93 L157.70,114.88 L157.86,114.91 L158.01,114.97 L158.16,115.07 L158.32,115.10 L158.47,115.12 L158.62,115.07 L158.78,114.96 L158.93,114.88 L159.09,114.85 L159.24,114.89 L159.39,114.92 L159.55,115.02 L159.70,115.03 L159.85,115.04 L160.01,115.02 L160.16,114.92 L160.31,114.79 L160.47,114.60 L160.62,114.47 L160.77,114.40 L160.93,114.51 L161.08,114.64 L161.23,114.83 L161.39,114.90 L161.54,114.93 L161.70,114.93 L161.85,114.99 L162.00,114.98 L162.16,115.01 L162.31,115.01 L162.46,115.01 L162.62,115.00 L162.77,115.00 L162.92,115.00 L163.08,114.99 L163.23,115.00 L163.38,115.00 L163.54,114.97 L163.69,114.97 L163.84,114.95 L164.00,114.96 L164.15,114.98 L164.31,114.98 L164.46,114.94 L164.61,114.95 L164.77,114.91 L164.92,114.87 L165.07,114.93 L165.23,114.95 L165.38,114.97 L165.53,114.98 L165.69,115.02 L165.84,114.98 L165.99,114.99 L166.15,114.99 L166.30,115.00 L166.45,114.98 L166.61,114.97 L166.76,114.98 L166.92,114.97 L167.07,114.97 L167.22,114.96 L167.38,115.00 L167.53,115.05 L167.68,115.04 L167.84,115.05 L167.99,115.08 L168.14,115.01 L168.30,114.95 L168.45,114.94 L168.60,114.96 L168.76,114.95 L168.91,114.99 L169.06,114.98 L169.22,115.00 L169.37,114.96 L169.53,114.96 L169.68,114.95 L169.83,114.95 L169.99,114.96 L170.14,115.02 L170.29,115.04 L170.45,115.08 L170.60,115.11 L170.75,115.12 L170.91,115.11 L171.06,115.12 L171.21,115.11 L171.37,115.08 L171.52,115.06 L171.67,115.02 L171.83,114.98 L171.98,114.93 L172.14,114.81 L172.29,114.68 L172.44,114.49 L172.60,114.38 L172.75,114.40 L172.90,114.51 L173.06,114.68 L173.21,114.86 L173.36,114.93 L173.52,115.00 L173.67,115.10 L173.82,115.06 L173.98,115.07 L174.13,115.08 L174.28,115.05 L174.44,115.03 L174.59,115.04 L174.75,115.01 L174.90,114.98 L175.05,114.95 L175.21,114.92 L175.36,114.91 L175.51,114.90 L175.67,114.93 L175.82,114.95 L175.97,114.96 L176.13,114.95 L176.28,114.95 L176.43,114.93 L176.59,114.93 L176.74,114.91 L176.89,114.97 L177.05,114.99 L177.20,115.01 L177.36,115.00 L177.51,115.04 L177.66,115.00 L177.82,115.03 L177.97,115.04 L178.12,115.04 L178.28,115.03 L178.43,115.05 L178.58,115.05 L178.74,115.06 L178.89,115.07 L179.04,115.09 L179.20,115.08 L179.35,115.08 L179.51,115.06 L179.66,115.00 L179.81,115.01 L179.97,115.01 L180.12,114.95 L180.27,114.95 L180.43,114.98 L180.58,115.00 L180.73,115.00 L180.89,114.99 L181.04,115.01 L181.19,115.02 L181.35,115.02 L181.50,114.98 L181.65,114.97 L181.81,114.95 L181.96,114.96 L182.12,114.90 L182.27,114.87 L182.42,114.94 L182.58,114.98 L182.73,114.94 L182.88,114.98 L183.04,115.01 L183.19,115.06 L183.34,115.03 L183.50,115.07 L183.65,115.07 L183.80,115.09 L183.96,115.02 L184.11,115.03 L184.26,115.02 L184.42,114.95 L184.57,114.99 L184.73,114.99 L184.88,114.96 L185.03,114.98 L185.19,114.98 L185.34,114.90 L185.49,114.90 L185.65,114.90 L185.80,114.89 L185.95,114.95 L186.11,114.97 L186.26,114.99 L186.41,115.01 L186.57,114.98 L186.72,114.95 L186.87,114.93 L187.03,114.92 L187.18,114.86 L187.34,114.76 L187.49,114.47 L187.64,114.10 L187.80,113.57 L187.95,113.21 L188.10,113.21 L188.26,113.58 L188.41,114.08 L188.56,114.52 L188.72,114.74 L188.87,114.89 L189.02,114.95 L189.18,114.95 L189.33,114.94 L189.48,114.94 L189.64,114.90 L189.79,114.91 L189.95,114.95 L190.10,114.98 L190.25,114.99 L190.41,115.03 L190.56,115.03 L190.71,114.99 L190.87,114.96 L191.02,114.95 L191.17,114.93 L191.33,114.86 L191.48,114.64 L191.63,114.24 L191.79,113.39 L191.94,111.99 L192.09,110.30 L192.25,109.14 L192.40,109.13 L192.56,110.37 L192.71,112.01 L192.86,113.46 L193.02,114.27 L193.17,114.69 L193.32,114.83 L193.48,114.87 L193.63,114.90 L193.78,114.93 L193.94,114.89 L194.09,114.93 L194.24,114.95 L194.40,114.91 L194.55,114.92 L194.70,114.94 L194.86,114.90 L195.01,114.88 L195.17,114.95 L195.32,114.90 L195.47,114.92 L195.63,114.98 L195.78,115.02 L195.93,114.95 L196.09,114.98 L196.24,114.98 L196.39,114.98 L196.55,114.95 L196.70,114.96 L196.85,114.99 L197.01,115.01 L197.16,115.00 L197.31,115.00 L197.47,115.04 L197.62,115.02 L197.78,115.01 L197.93,114.98 L198.08,114.99 L198.24,114.98 L198.39,114.95 L198.54,114.94 L198.70,114.97 L198.85,114.95 L199.00,114.97 L199.16,114.96 L199.31,114.95 L199.46,114.96 L199.62,114.98 L199.77,114.99 L199.92,115.00 L200.08,114.96 L200.23,114.96 L200.39,114.96 L200.54,114.98 L200.69,115.03 L200.85,115.04 L201.00,115.05 L201.15,115.02 L201.31,114.93 L201.46,114.97 L201.61,115.00 L201.77,114.99 L201.92,115.01 L202.07,115.08 L202.23,115.02 L202.38,115.02 L202.54,114.94 L202.69,114.80 L202.84,114.58 L203.00,114.17 L203.15,113.40 L203.30,112.45 L203.46,111.63 L203.61,111.37 L203.76,111.97 L203.92,112.95 L204.07,113.85 L204.22,114.44 L204.38,114.80 L204.53,114.91 L204.68,114.97 L204.84,114.95 L204.99,114.97 L205.15,115.01 L205.30,115.00 L205.45,114.98 L205.61,115.04 L205.76,115.05 L205.91,115.02 L206.07,114.99 L206.22,115.01 L206.37,114.96 L206.53,114.92 L206.68,114.92 L206.83,114.95 L206.99,114.96 L207.14,115.07 L207.29,115.11 L207.45,115.11 L207.60,115.10 L207.76,115.06 L207.91,114.96 L208.06,114.93 L208.22,114.89 L208.37,114.90 L208.52,114.91 L208.68,114.91 L208.83,114.89 L208.98,114.88 L209.14,114.91 L209.29,114.91 L209.44,114.96 L209.60,115.02 L209.75,115.04 L209.90,115.05 L210.06,115.01 L210.21,115.04 L210.37,115.04 L210.52,115.04 L210.67,115.00 L210.83,115.03 L210.98,114.91 L211.13,114.83 L211.29,114.77 L211.44,114.66 L211.59,114.48 L211.75,114.43 L211.90,114.42 L212.05,114.53 L212.21,114.68 L212.36,114.80 L212.51,114.88 L212.67,114.92 L212.82,114.97 L212.98,114.98 L213.13,115.05 L213.28,115.02 L213.44,115.06 L213.59,114.98 L213.74,114.97 L213.90,114.92 L214.05,114.97 L214.20,114.92 L214.36,114.98 L214.51,114.99 L214.66,114.99 L214.82,114.99 L214.97,115.03 L215.12,114.96 L215.28,115.02 L215.43,115.03 L215.59,115.01 L215.74,114.97 L215.89,114.97 L216.05,114.90 L216.20,114.90 L216.35,114.90 L216.51,114.90 L216.66,114.93 L216.81,115.00 L216.97,114.98 L217.12,114.97 L217.27,115.03 L217.43,115.06 L217.58,115.02 L217.73,115.01 L217.89,114.99 L218.04,114.93 L218.20,114.91 L218.35,114.90 L218.50,114.92 L218.66,114.97 L218.81,115.01 L218.96,115.03 L219.12,115.01 L219.27,114.95 L219.42,114.92 L219.58,114.89 L219.73,114.87 L219.88,114.89 L220.04,114.91 L220.19,114.90 L220.34,114.92 L220.50,114.94 L220.65,114.93 L220.81,114.97 L220.96,114.99 L221.11,114.97 L221.27,114.97 L221.42,115.03 L221.57,115.00 L221.73,115.03 L221.88,115.09 L222.03,115.12 L222.19,115.06 L222.34,115.12 L222.49,115.10 L222.65,115.06 L222.80,115.02 L222.95,115.05 L223.11,115.00 L223.26,115.00 L223.42,115.03 L223.57,115.02 L223.72,114.98 L223.88,115.00 L224.03,115.02 L224.18,115.02 L224.34,115.01 L224.49,115.06 L224.64,115.05 L224.80,115.08 L224.95,115.02 L225.10,115.05 L225.26,115.02 L225.41,114.97 L225.57,114.91 L225.72,114.97 L225.87,114.95 L226.03,114.94 L226.18,115.00 L226.33,115.04 L226.49,115.03 L226.64,115.03 L226.79,115.04 L226.95,115.05 L227.10,115.01 L227.25,114.96 L227.41,115.00 L227.56,115.04 L227.71,114.98 L227.87,114.94 L228.02,114.92 L228.18,114.87 L228.33,114.82 L228.48,114.85 L228.64,114.88 L228.79,114.83 L228.94,114.72 L229.10,114.47 L229.25,114.19 L229.40,113.98 L229.56,114.06 L229.71,114.28 L229.86,114.55 L230.02,114.75 L230.17,114.89 L230.32,114.86 L230.48,114.85 L230.63,114.86 L230.79,114.92 L230.94,114.92 L231.09,114.94 L231.25,114.93 L231.40,114.92 L231.55,114.90 L231.71,114.91 L231.86,114.95 L232.01,114.97 L232.17,115.03 L232.32,115.03 L232.47,115.04 L232.63,114.96 L232.78,114.95 L232.93,114.94 L233.09,114.97 L233.24,114.97 L233.40,115.04 L233.55,115.06 L233.70,115.04 L233.86,114.99 L234.01,115.00 L234.16,114.99 L234.32,115.00 L234.47,115.00 L234.62,115.03 L234.78,115.01 L234.93,114.99 L235.08,115.03 L235.24,115.05 L235.39,115.03 L235.54,115.06 L235.70,115.11 L235.85,115.06 L236.01,115.07 L236.16,115.04 L236.31,114.99 L236.47,114.91 L236.62,114.95 L236.77,114.89 L236.93,114.93 L237.08,114.92 L237.23,114.96 L237.39,114.92 L237.54,114.97 L237.69,114.97 L237.85,115.03 L238.00,115.07 L238.15,115.09 L238.31,115.07 L238.46,115.07 L238.62,115.04 L238.77,115.02 L238.92,114.99 L239.08,115.00 L239.23,114.99 L239.38,115.00 L239.54,115.00 L239.69,114.98 L239.84,115.00 L240.00,114.96 L240.15,114.93 L240.30,114.98 L240.46,114.93 L240.61,114.90 L240.76,114.96 L240.92,114.93 L241.07,114.96 L241.23,114.96 L241.38,115.01 L241.53,115.03 L241.69,115.09 L241.84,115.03 L241.99,115.10 L242.15,115.04 L242.30,115.02 L242.45,114.97 L242.61,114.97 L242.76,114.99 L242.91,114.98 L243.07,114.95 L243.22,114.98 L243.37,114.96 L243.53,114.96 L243.68,115.00 L243.84,114.97 L243.99,114.97 L244.14,114.98 L244.30,114.94 L244.45,114.93 L244.60,114.95 L244.76,114.97 L244.91,114.97 L245.06,115.01 L245.22,115.01 L245.37,115.05 L245.52,115.01 L245.68,115.02 L245.83,114.97 L245.98,114.98 L246.14,114.98 L246.29,115.05 L246.45,115.09 L246.60,115.12 L246.75,115.10 L246.91,115.09 L247.06,115.04 L247.21,115.04 L247.37,115.06 L247.52,115.04 L247.67,115.02 L247.83,115.05 L247.98,115.02 L248.13,115.00 L248.29,115.04 L248.44,115.05 L248.60,115.01 L248.75,114.99 L248.90,114.95 L249.06,114.94 L249.21,114.92 L249.36,114.92 L249.52,114.91 L249.67,114.97 L249.82,114.95 L249.98,114.98 L250.13,114.95 L250.28,114.97 L250.44,114.91 L250.59,114.92 L250.74,114.93 L250.90,114.97 L251.05,115.02 L251.21,115.06 L251.36,115.06 L251.51,115.05 L251.67,115.02 L251.82,114.94 L251.97,114.84 L252.13,114.62 L252.28,114.42 L252.43,114.28 L252.59,114.28 L252.74,114.43 L252.89,114.64 L253.05,114.77 L253.20,114.91 L253.35,114.95 L253.51,114.93 L253.66,114.97 L253.82,115.00 L253.97,114.91 L254.12,114.86 L254.28,114.85 L254.43,114.85 L254.58,114.86 L254.74,114.90 L254.89,114.96 L255.04,115.02 L255.20,114.96 L255.35,114.95 L255.50,114.94 L255.66,114.90 L255.81,114.88 L255.96,114.92 L256.12,114.93 L256.27,114.91 L256.43,114.93 L256.58,114.99 L256.73,114.97 L256.89,114.93 L257.04,114.98 L257.19,115.00 L257.35,114.95 L257.50,114.98" fill="none" stroke="#ff0a0a" stroke-width="1.25" stroke-linejoin="round" />
<path d="M27.20,155.91 L27.35,155.89 L27.51,155.86 L27.66,155.84 L27.81,155.86 L27.97,155.85 L28.12,155.89 L28.27,155.91 L28.43,155.95 L28.58,155.96 L28.74,155.96 L28.89,155.91 L29.04,155.87 L29.20,155.87 L29.35,155.83 L29.50,155.81 L29.66,155.84 L29.81,155.86 L29.96,155.83 L30.12,155.90 L30.27,155.85 L30.42,155.87 L30.58,155.94 L30.73,155.95 L30.88,155.92 L31.04,155.99 L31.19,156.02 L31.35,155.93 L31.50,155.93 L31.65,155.93 L31.81,155.93 L31.96,155.89 L32.11,155.93 L32.27,155.92 L32.42,155.92 L32.57,155.89 L32.73,155.87 L32.88,155.86 L33.03,155.86 L33.19,155.83 L33.34,155.89 L33.49,155.90 L33.65,155.87 L33.80,155.90 L33.96,155.91 L34.11,155.88 L34.26,155.89 L34.42,155.93 L34.57,155.90 L34.72,155.91 L34.88,155.90 L35.03,155.95 L35.18,155.89 L35.34,155.88 L35.49,155.91 L35.64,155.88 L35.80,155.80 L35.95,155.91 L36.10,155.89 L36.26,155.93 L36.41,155.97 L36.57,156.01 L36.72,155.97 L36.87,155.99 L37.03,155.97 L37.18,155.97 L37.33,155.97 L37.49,155.96 L37.64,155.98 L37.79,155.97 L37.95,155.94 L38.10,155.92 L38.25,155.92 L38.41,155.87 L38.56,155.84 L38.71,155.85 L38.87,155.85 L39.02,155.86 L39.18,155.90 L39.33,155.90 L39.48,155.98 L39.64,155.98 L39.79,156.05 L39.94,156.05 L40.10,156.06 L40.25,156.00 L40.40,155.93 L40.56,155.85 L40.71,155.83 L40.86,155.87 L41.02,155.85 L41.17,155.96 L41.33,155.96 L41.48,155.97 L41.63,155.86 L41.79,155.90 L41.94,155.84 L42.09,155.87 L42.25,155.85 L42.40,155.89 L42.55,155.90 L42.71,155.93 L42.86,155.93 L43.01,155.95 L43.17,156.00 L43.32,155.98 L43.47,155.93 L43.63,155.88 L43.78,155.89 L43.94,155.88 L44.09,155.88 L44.24,155.91 L44.40,155.94 L44.55,155.91 L44.70,155.88 L44.86,155.86 L45.01,155.93 L45.16,155.93 L45.32,155.92 L45.47,155.89 L45.62,155.89 L45.78,155.86 L45.93,155.87 L46.08,155.88 L46.24,155.91 L46.39,155.92 L46.55,155.88 L46.70,155.89 L46.85,155.91 L47.01,155.96 L47.16,155.95 L47.31,155.98 L47.47,155.97 L47.62,155.95 L47.77,155.86 L47.93,155.85 L48.08,155.86 L48.23,155.85 L48.39,155.85 L48.54,155.91 L48.69,155.95 L48.85,155.96 L49.00,155.95 L49.16,155.95 L49.31,155.94 L49.46,155.93 L49.62,155.93 L49.77,155.94 L49.92,155.93 L50.08,155.89 L50.23,155.84 L50.38,155.85 L50.54,155.85 L50.69,155.90 L50.84,155.93 L51.00,155.97 L51.15,155.98 L51.30,155.99 L51.46,155.93 L51.61,155.91 L51.77,155.84 L51.92,155.69 L52.07,155.49 L52.23,155.28 L52.38,155.02 L52.53,154.95 L52.69,155.08 L52.84,155.31 L52.99,155.54 L53.15,155.71 L53.30,155.78 L53.45,155.83 L53.61,155.90 L53.76,155.92 L53.91,155.96 L54.07,155.95 L54.22,155.91 L54.38,155.87 L54.53,155.84 L54.68,155.85 L54.84,155.86 L54.99,155.93 L55.14,155.95 L55.30,155.99 L55.45,155.98 L55.60,155.98 L55.76,155.96 L55.91,155.96 L56.06,155.93 L56.22,155.93 L56.37,155.99 L56.52,155.97 L56.68,155.95 L56.83,155.95 L56.99,155.90 L57.14,155.87 L57.29,155.87 L57.45,155.88 L57.60,155.94 L57.75,156.04 L57.91,155.99 L58.06,156.01 L58.21,156.02 L58.37,155.99 L58.52,155.94 L58.67,155.96 L58.83,155.97 L58.98,155.97 L59.13,155.97 L59.29,155.99 L59.44,156.01 L59.60,155.98 L59.75,155.98 L59.90,156.01 L60.06,155.99 L60.21,155.97 L60.36,155.94 L60.52,155.92 L60.67,155.85 L60.82,155.84 L60.98,155.85 L61.13,155.82 L61.28,155.83 L61.44,155.87 L61.59,155.88 L61.74,155.85 L61.90,155.93 L62.05,155.91 L62.21,155.86 L62.36,155.83 L62.51,155.86 L62.67,155.85 L62.82,155.89 L62.97,155.93 L63.13,155.93 L63.28,155.91 L63.43,155.86 L63.59,155.83 L63.74,155.79 L63.89,155.82 L64.05,155.85 L64.20,155.87 L64.36,155.88 L64.51,155.90 L64.66,155.86 L64.82,155.83 L64.97,155.86 L65.12,155.88 L65.28,155.89 L65.43,155.95 L65.58,155.96 L65.74,155.97 L65.89,155.96 L66.04,155.96 L66.20,155.95 L66.35,155.93 L66.50,155.88 L66.66,155.83 L66.81,155.85 L66.97,155.83 L67.12,155.84 L67.27,155.86 L67.43,155.92 L67.58,155.91 L67.73,155.89 L67.89,155.92 L68.04,155.97 L68.19,155.94 L68.35,155.91 L68.50,155.91 L68.65,155.90 L68.81,155.86 L68.96,155.89 L69.11,155.90 L69.27,155.93 L69.42,155.90 L69.58,155.93 L69.73,155.89 L69.88,155.95 L70.04,155.92 L70.19,155.90 L70.34,155.84 L70.50,155.83 L70.65,155.78 L70.80,155.82 L70.96,155.89 L71.11,155.92 L71.26,155.91 L71.42,155.93 L71.57,155.89 L71.72,155.89 L71.88,155.89 L72.03,155.93 L72.19,155.92 L72.34,155.89 L72.49,155.84 L72.65,155.80 L72.80,155.80 L72.95,155.81 L73.11,155.84 L73.26,155.85 L73.41,155.91 L73.57,155.88 L73.72,155.86 L73.87,155.87 L74.03,155.86 L74.18,155.81 L74.33,155.85 L74.49,155.91 L74.64,155.87 L74.80,155.89 L74.95,155.90 L75.10,155.89 L75.26,155.84 L75.41,155.87 L75.56,155.90 L75.72,155.89 L75.87,155.88 L76.02,155.89 L76.18,155.90 L76.33,155.87 L76.48,155.90 L76.64,155.91 L76.79,155.91 L76.94,155.91 L77.10,155.88 L77.25,155.84 L77.41,155.81 L77.56,155.81 L77.71,155.80 L77.87,155.79 L78.02,155.82 L78.17,155.85 L78.33,155.81 L78.48,155.86 L78.63,155.89 L78.79,155.88 L78.94,155.89 L79.09,155.93 L79.25,155.87 L79.40,155.92 L79.55,155.89 L79.71,155.86 L79.86,155.87 L80.02,155.86 L80.17,155.79 L80.32,155.82 L80.48,155.87 L80.63,155.82 L80.78,155.84 L80.94,155.84 L81.09,155.82 L81.24,155.71 L81.40,155.71 L81.55,155.68 L81.70,155.64 L81.86,155.60 L82.01,155.57 L82.16,155.42 L82.32,155.09 L82.47,154.24 L82.63,152.45 L82.78,149.26 L82.93,144.78 L83.09,140.35 L83.24,138.37 L83.39,140.39 L83.55,144.87 L83.70,149.33 L83.85,152.51 L84.01,154.28 L84.16,155.08 L84.31,155.38 L84.47,155.54 L84.62,155.61 L84.77,155.68 L84.93,155.67 L85.08,155.70 L85.24,155.71 L85.39,155.75 L85.54,155.77 L85.70,155.83 L85.85,155.83 L86.00,155.88 L86.16,155.85 L86.31,155.87 L86.46,155.84 L86.62,155.85 L86.77,155.83 L86.92,155.88 L87.08,155.82 L87.23,155.84 L87.39,155.80 L87.54,155.83 L87.69,155.76 L87.85,155.78 L88.00,155.73 L88.15,155.81 L88.31,155.75 L88.46,155.79 L88.61,155.80 L88.77,155.79 L88.92,155.73 L89.07,155.74 L89.23,155.64 L89.38,155.48 L89.53,155.20 L89.69,154.78 L89.84,154.38 L90.00,154.30 L90.15,154.59 L90.30,155.03 L90.46,155.42 L90.61,155.67 L90.76,155.78 L90.92,155.82 L91.07,155.81 L91.22,155.80 L91.38,155.82 L91.53,155.83 L91.68,155.85 L91.84,155.82 L91.99,155.85 L92.14,155.87 L92.30,155.85 L92.45,155.79 L92.61,155.86 L92.76,155.89 L92.91,155.85 L93.07,155.84 L93.22,155.87 L93.37,155.90 L93.53,155.85 L93.68,155.81 L93.83,155.88 L93.99,155.85 L94.14,155.83 L94.29,155.83 L94.45,155.87 L94.60,155.81 L94.75,155.83 L94.91,155.82 L95.06,155.74 L95.22,155.68 L95.37,155.64 L95.52,155.37 L95.68,154.78 L95.83,153.79 L95.98,152.14 L96.14,150.09 L96.29,148.57 L96.44,148.60 L96.60,150.10 L96.75,152.12 L96.90,153.77 L97.06,154.82 L97.21,155.35 L97.36,155.61 L97.52,155.71 L97.67,155.77 L97.83,155.82 L97.98,155.86 L98.13,155.87 L98.29,155.88 L98.44,155.94 L98.59,155.97 L98.75,155.96 L98.90,155.93 L99.05,155.94 L99.21,155.92 L99.36,155.89 L99.51,155.86 L99.67,155.82 L99.82,155.81 L99.97,155.82 L100.13,155.84 L100.28,155.85 L100.44,155.92 L100.59,155.90 L100.74,155.89 L100.90,155.88 L101.05,155.90 L101.20,155.86 L101.36,155.82 L101.51,155.79 L101.66,155.74 L101.82,155.77 L101.97,155.79 L102.12,155.86 L102.28,155.89 L102.43,155.92 L102.58,155.92 L102.74,155.91 L102.89,155.90 L103.05,155.90 L103.20,155.89 L103.35,155.88 L103.51,155.89 L103.66,155.87 L103.81,155.88 L103.97,155.95 L104.12,155.94 L104.27,155.93 L104.43,155.89 L104.58,155.86 L104.73,155.81 L104.89,155.77 L105.04,155.78 L105.19,155.85 L105.35,155.84 L105.50,155.84 L105.66,155.87 L105.81,155.88 L105.96,155.83 L106.12,155.84 L106.27,155.89 L106.42,155.92 L106.58,155.91 L106.73,155.94 L106.88,155.92 L107.04,155.88 L107.19,155.88 L107.34,155.85 L107.50,155.86 L107.65,155.92 L107.80,155.95 L107.96,155.90 L108.11,155.90 L108.27,155.85 L108.42,155.85 L108.57,155.84 L108.73,155.89 L108.88,155.89 L109.03,155.91 L109.19,155.88 L109.34,155.87 L109.49,155.83 L109.65,155.86 L109.80,155.90 L109.95,155.90 L110.11,155.88 L110.26,155.85 L110.42,155.84 L110.57,155.82 L110.72,155.81 L110.88,155.83 L111.03,155.86 L111.18,155.89 L111.34,155.88 L111.49,155.89 L111.64,155.88 L111.80,155.88 L111.95,155.87 L112.10,155.84 L112.26,155.81 L112.41,155.82 L112.56,155.87 L112.72,155.87 L112.87,155.93 L113.03,155.96 L113.18,155.96 L113.33,155.89 L113.49,155.88 L113.64,155.87 L113.79,155.89 L113.95,155.91 L114.10,155.96 L114.25,155.97 L114.41,155.94 L114.56,155.93 L114.71,155.93 L114.87,155.92 L115.02,155.93 L115.17,155.94 L115.33,155.92 L115.48,155.90 L115.64,155.87 L115.79,155.88 L115.94,155.82 L116.10,155.84 L116.25,155.90 L116.40,155.92 L116.56,155.86 L116.71,155.91 L116.86,155.95 L117.02,155.89 L117.17,155.91 L117.32,155.94 L117.48,155.93 L117.63,155.98 L117.78,155.98 L117.94,155.96 L118.09,155.94 L118.25,155.96 L118.40,155.89 L118.55,155.91 L118.71,155.93 L118.86,155.90 L119.01,155.91 L119.17,155.89 L119.32,155.87 L119.47,155.83 L119.63,155.85 L119.78,155.82 L119.93,155.82 L120.09,155.80 L120.24,155.83 L120.39,155.85 L120.55,155.84 L120.70,155.83 L120.86,155.84 L121.01,155.86 L121.16,155.80 L121.32,155.82 L121.47,155.79 L121.62,155.80 L121.78,155.80 L121.93,155.84 L122.08,155.86 L122.24,155.88 L122.39,155.93 L122.54,155.93 L122.70,155.98 L122.85,155.94 L123.00,155.94 L123.16,155.91 L123.31,155.89 L123.47,155.85 L123.62,155.89 L123.77,155.89 L123.93,155.88 L124.08,155.89 L124.23,155.91 L124.39,155.88 L124.54,155.92 L124.69,155.89 L124.85,155.91 L125.00,155.93 L125.15,155.97 L125.31,155.97 L125.46,156.00 L125.61,155.91 L125.77,155.90 L125.92,155.87 L126.08,155.86 L126.23,155.84 L126.38,155.87 L126.54,155.84 L126.69,155.86 L126.84,155.89 L127.00,155.89 L127.15,155.90 L127.30,155.94 L127.46,155.91 L127.61,155.92 L127.76,155.94 L127.92,155.94 L128.07,155.93 L128.22,155.99 L128.38,155.91 L128.53,155.94 L128.69,155.96 L128.84,155.97 L128.99,155.92 L129.15,155.91 L129.30,155.89 L129.45,155.92 L129.61,155.93 L129.76,155.98 L129.91,156.03 L130.07,156.02 L130.22,155.98 L130.37,155.92 L130.53,155.86 L130.68,155.84 L130.83,155.78 L130.99,155.79 L131.14,155.80 L131.30,155.88 L131.45,155.90 L131.60,155.95 L131.76,155.95 L131.91,155.92 L132.06,155.83 L132.22,155.76 L132.37,155.79 L132.52,155.76 L132.68,155.69 L132.83,155.53 L132.98,155.25 L133.14,154.67 L133.29,153.99 L133.45,153.50 L133.60,153.48 L133.75,153.97 L133.91,154.65 L134.06,155.17 L134.21,155.52 L134.37,155.73 L134.52,155.78 L134.67,155.82 L134.83,155.86 L134.98,155.92 L135.13,155.94 L135.29,155.98 L135.44,155.98 L135.59,155.95 L135.75,155.92 L135.90,155.90 L136.06,155.92 L136.21,155.93 L136.36,156.01 L136.52,156.04 L136.67,156.03 L136.82,156.02 L136.98,155.98 L137.13,155.93 L137.28,155.90 L137.44,155.91 L137.59,155.87 L137.74,155.88 L137.90,155.85 L138.05,155.90 L138.20,155.85 L138.36,155.90 L138.51,155.84 L138.67,155.87 L138.82,155.87 L138.97,155.88 L139.13,155.86 L139.28,155.88 L139.43,155.84 L139.59,155.82 L139.74,155.85 L139.89,155.82 L140.05,155.85 L140.20,155.88 L140.35,155.85 L140.51,155.84 L140.66,155.85 L140.81,155.89 L140.97,155.87 L141.12,155.92 L141.28,155.94 L141.43,155.91 L141.58,155.81 L141.74,155.86 L141.89,155.83 L142.04,155.82 L142.20,155.89 L142.35,155.93 L142.50,155.89 L142.66,155.83 L142.81,155.83 L142.96,155.78 L143.12,155.80 L143.27,155.83 L143.42,155.86 L143.58,155.90 L143.73,155.94 L143.89,155.96 L144.04,155.92 L144.19,155.95 L144.35,155.89 L144.50,155.86 L144.65,155.81 L144.81,155.85 L144.96,155.86 L145.11,155.88 L145.27,155.88 L145.42,155.94 L145.57,155.93 L145.73,155.86 L145.88,155.84 L146.03,155.85 L146.19,155.84 L146.34,155.83 L146.50,155.89 L146.65,155.88 L146.80,155.90 L146.96,155.86 L147.11,155.86 L147.26,155.84 L147.42,155.87 L147.57,155.84 L147.72,155.80 L147.88,155.83 L148.03,155.82 L148.18,155.81 L148.34,155.80 L148.49,155.80 L148.64,155.66 L148.80,155.39 L148.95,154.99 L149.11,154.57 L149.26,154.42 L149.41,154.57 L149.57,155.00 L149.72,155.38 L149.87,155.63 L150.03,155.78 L150.18,155.84 L150.33,155.84 L150.49,155.86 L150.64,155.93 L150.79,155.91 L150.95,155.88 L151.10,155.90 L151.25,155.89 L151.41,155.86 L151.56,155.89 L151.72,155.96 L151.87,155.92 L152.02,155.89 L152.18,155.91 L152.33,155.88 L152.48,155.86 L152.64,155.83 L152.79,155.86 L152.94,155.83 L153.10,155.82 L153.25,155.84 L153.40,155.90 L153.56,155.90 L153.71,155.93 L153.86,155.94 L154.02,155.91 L154.17,155.88 L154.33,155.95 L154.48,155.95 L154.63,155.96 L154.79,155.96 L154.94,155.96 L155.09,155.87 L155.25,155.87 L155.40,155.87 L155.55,155.94 L155.71,155.96 L155.86,156.02 L156.01,156.02 L156.17,155.98 L156.32,155.93 L156.48,155.91 L156.63,155.88 L156.78,155.90 L156.94,155.89 L157.09,155.85 L157.24,155.81 L157.40,155.79 L157.55,155.73 L157.70,155.78 L157.86,155.82 L158.01,155.85 L158.16,155.92 L158.32,155.98 L158.47,155.94 L158.62,155.98 L158.78,155.98 L158.93,155.95 L159.09,155.93 L159.24,155.91 L159.39,155.86 L159.55,155.84 L159.70,155.85 L159.85,155.82 L160.01,155.83 L160.16,155.82 L160.31,155.77 L160.47,155.65 L160.62,155.56 L160.77,155.50 L160.93,155.52 L161.08,155.62 L161.23,155.72 L161.39,155.77 L161.54,155.87 L161.70,155.90 L161.85,155.88 L162.00,155.90 L162.16,155.96 L162.31,155.92 L162.46,155.96 L162.62,155.97 L162.77,155.95 L162.92,155.89 L163.08,155.88 L163.23,155.90 L163.38,155.88 L163.54,155.93 L163.69,155.92 L163.84,155.92 L164.00,155.90 L164.15,155.94 L164.31,155.91 L164.46,155.89 L164.61,155.91 L164.77,155.86 L164.92,155.91 L165.07,155.90 L165.23,155.94 L165.38,155.91 L165.53,155.92 L165.69,155.83 L165.84,155.86 L165.99,155.85 L166.15,155.89 L166.30,155.88 L166.45,155.90 L166.61,155.91 L166.76,155.89 L166.92,155.83 L167.07,155.86 L167.22,155.85 L167.38,155.80 L167.53,155.85 L167.68,155.87 L167.84,155.88 L167.99,155.89 L168.14,155.94 L168.30,155.95 L168.45,155.96 L168.60,155.93 L168.76,155.93 L168.91,155.90 L169.06,155.89 L169.22,155.87 L169.37,155.90 L169.53,155.89 L169.68,155.86 L169.83,155.79 L169.99,155.87 L170.14,155.85 L170.29,155.89 L170.45,155.89 L170.60,155.96 L170.75,155.86 L170.91,155.86 L171.06,155.91 L171.21,155.91 L171.37,155.89 L171.52,155.95 L171.67,155.92 L171.83,155.86 L171.98,155.86 L172.14,155.81 L172.29,155.72 L172.44,155.62 L172.60,155.55 L172.75,155.53 L172.90,155.64 L173.06,155.75 L173.21,155.84 L173.36,155.83 L173.52,155.88 L173.67,155.87 L173.82,155.84 L173.98,155.80 L174.13,155.83 L174.28,155.84 L174.44,155.79 L174.59,155.81 L174.75,155.86 L174.90,155.92 L175.05,155.89 L175.21,155.92 L175.36,155.92 L175.51,155.95 L175.67,155.95 L175.82,155.94 L175.97,155.91 L176.13,155.91 L176.28,155.88 L176.43,155.84 L176.59,155.86 L176.74,155.91 L176.89,155.93 L177.05,155.93 L177.20,155.96 L177.36,155.92 L177.51,155.90 L177.66,155.95 L177.82,155.91 L177.97,155.89 L178.12,155.93 L178.28,155.94 L178.43,155.86 L178.58,155.86 L178.74,155.88 L178.89,155.88 L179.04,155.92 L179.20,155.94 L179.35,156.00 L179.51,155.96 L179.66,155.94 L179.81,155.89 L179.97,155.89 L180.12,155.88 L180.27,155.93 L180.43,155.91 L180.58,155.95 L180.73,155.94 L180.89,155.89 L181.04,155.86 L181.19,155.85 L181.35,155.82 L181.50,155.84 L181.65,155.86 L181.81,155.88 L181.96,155.90 L182.12,155.90 L182.27,155.86 L182.42,155.87 L182.58,155.84 L182.73,155.83 L182.88,155.83 L183.04,155.87 L183.19,155.83 L183.34,155.81 L183.50,155.81 L183.65,155.83 L183.80,155.83 L183.96,155.89 L184.11,155.96 L184.26,155.98 L184.42,155.97 L184.57,155.93 L184.73,155.89 L184.88,155.85 L185.03,155.84 L185.19,155.84 L185.34,155.87 L185.49,155.89 L185.65,155.91 L185.80,155.91 L185.95,155.91 L186.11,155.92 L186.26,155.90 L186.41,155.86 L186.57,155.87 L186.72,155.86 L186.87,155.84 L187.03,155.83 L187.18,155.87 L187.34,155.76 L187.49,155.58 L187.64,155.32 L187.80,154.98 L187.95,154.69 L188.10,154.75 L188.26,155.02 L188.41,155.35 L188.56,155.66 L188.72,155.82 L188.87,155.88 L189.02,155.89 L189.18,155.88 L189.33,155.88 L189.48,155.90 L189.64,155.89 L189.79,155.91 L189.95,155.87 L190.10,155.89 L190.25,155.93 L190.41,155.95 L190.56,155.92 L190.71,155.94 L190.87,155.91 L191.02,155.82 L191.17,155.79 L191.33,155.75 L191.48,155.70 L191.63,155.52 L191.79,155.08 L191.94,154.40 L192.09,153.59 L192.25,152.93 L192.40,152.88 L192.56,153.53 L192.71,154.35 L192.86,155.00 L193.02,155.48 L193.17,155.75 L193.32,155.86 L193.48,155.88 L193.63,155.94 L193.78,155.90 L193.94,155.87 L194.09,155.87 L194.24,155.88 L194.40,155.95 L194.55,155.99 L194.70,155.99 L194.86,156.03 L195.01,155.98 L195.17,155.89 L195.32,155.86 L195.47,155.84 L195.63,155.82 L195.78,155.85 L195.93,155.92 L196.09,155.96 L196.24,156.00 L196.39,155.97 L196.55,155.99 L196.70,155.97 L196.85,155.91 L197.01,155.90 L197.16,155.93 L197.31,155.92 L197.47,155.94 L197.62,155.99 L197.78,155.96 L197.93,155.95 L198.08,155.92 L198.24,155.90 L198.39,155.85 L198.54,155.89 L198.70,155.90 L198.85,155.94 L199.00,155.92 L199.16,155.91 L199.31,155.93 L199.46,155.92 L199.62,155.93 L199.77,155.94 L199.92,155.99 L200.08,155.99 L200.23,156.00 L200.39,156.00 L200.54,155.96 L200.69,155.96 L200.85,155.91 L201.00,155.90 L201.15,155.86 L201.31,155.90 L201.46,155.92 L201.61,155.88 L201.77,155.88 L201.92,155.86 L202.07,155.87 L202.23,155.82 L202.38,155.86 L202.54,155.83 L202.69,155.82 L202.84,155.70 L203.00,155.46 L203.15,155.05 L203.30,154.49 L203.46,154.02 L203.61,153.90 L203.76,154.22 L203.92,154.77 L204.07,155.24 L204.22,155.51 L204.38,155.62 L204.53,155.70 L204.68,155.70 L204.84,155.76 L204.99,155.82 L205.15,155.87 L205.30,155.88 L205.45,155.85 L205.61,155.83 L205.76,155.88 L205.91,155.81 L206.07,155.82 L206.22,155.88 L206.37,155.93 L206.53,155.86 L206.68,155.91 L206.83,155.94 L206.99,155.93 L207.14,155.90 L207.29,155.94 L207.45,155.95 L207.60,155.95 L207.76,155.96 L207.91,155.97 L208.06,155.92 L208.22,155.92 L208.37,155.94 L208.52,155.92 L208.68,155.93 L208.83,156.03 L208.98,155.99 L209.14,155.97 L209.29,155.94 L209.44,155.94 L209.60,155.88 L209.75,155.94 L209.90,155.90 L210.06,155.90 L210.21,155.86 L210.37,155.86 L210.52,155.81 L210.67,155.84 L210.83,155.83 L210.98,155.84 L211.13,155.82 L211.29,155.76 L211.44,155.65 L211.59,155.55 L211.75,155.45 L211.90,155.39 L212.05,155.52 L212.21,155.64 L212.36,155.77 L212.51,155.79 L212.67,155.83 L212.82,155.77 L212.98,155.75 L213.13,155.75 L213.28,155.82 L213.44,155.86 L213.59,155.91 L213.74,155.95 L213.90,155.92 L214.05,155.92 L214.20,155.92 L214.36,155.87 L214.51,155.84 L214.66,155.88 L214.82,155.86 L214.97,155.86 L215.12,155.89 L215.28,155.89 L215.43,155.89 L215.59,155.89 L215.74,155.87 L215.89,155.81 L216.05,155.81 L216.20,155.73 L216.35,155.69 L216.51,155.74 L216.66,155.83 L216.81,155.80 L216.97,155.87 L217.12,155.92 L217.27,155.88 L217.43,155.88 L217.58,155.89 L217.73,155.84 L217.89,155.79 L218.04,155.79 L218.20,155.79 L218.35,155.80 L218.50,155.80 L218.66,155.81 L218.81,155.84 L218.96,155.81 L219.12,155.87 L219.27,155.88 L219.42,155.87 L219.58,155.85 L219.73,155.86 L219.88,155.82 L220.04,155.84 L220.19,155.92 L220.34,155.91 L220.50,155.91 L220.65,155.97 L220.81,155.95 L220.96,155.88 L221.11,155.87 L221.27,155.88 L221.42,155.86 L221.57,155.87 L221.73,155.89 L221.88,155.95 L222.03,155.96 L222.19,155.91 L222.34,155.92 L222.49,155.92 L222.65,155.90 L222.80,155.88 L222.95,155.89 L223.11,155.88 L223.26,155.84 L223.42,155.82 L223.57,155.81 L223.72,155.84 L223.88,155.82 L224.03,155.86 L224.18,155.83 L224.34,155.82 L224.49,155.83 L224.64,155.84 L224.80,155.86 L224.95,155.86 L225.10,155.89 L225.26,155.83 L225.41,155.83 L225.57,155.81 L225.72,155.85 L225.87,155.85 L226.03,155.88 L226.18,155.91 L226.33,155.93 L226.49,155.93 L226.64,155.94 L226.79,155.95 L226.95,155.92 L227.10,155.92 L227.25,155.90 L227.41,155.89 L227.56,155.92 L227.71,155.94 L227.87,155.92 L228.02,155.90 L228.18,155.89 L228.33,155.85 L228.48,155.85 L228.64,155.83 L228.79,155.82 L228.94,155.75 L229.10,155.61 L229.25,155.42 L229.40,155.35 L229.56,155.39 L229.71,155.51 L229.86,155.69 L230.02,155.80 L230.17,155.86 L230.32,155.87 L230.48,155.87 L230.63,155.86 L230.79,155.89 L230.94,155.87 L231.09,155.88 L231.25,155.91 L231.40,155.93 L231.55,155.90 L231.71,155.88 L231.86,155.83 L232.01,155.78 L232.17,155.78 L232.32,155.83 L232.47,155.84 L232.63,155.89 L232.78,155.89 L232.93,155.84 L233.09,155.80 L233.24,155.79 L233.40,155.82 L233.55,155.81 L233.70,155.87 L233.86,155.94 L234.01,155.95 L234.16,155.92 L234.32,155.93 L234.47,155.90 L234.62,155.89 L234.78,155.89 L234.93,155.92 L235.08,155.96 L235.24,155.97 L235.39,155.96 L235.54,155.96 L235.70,155.94 L235.85,155.89 L236.01,155.89 L236.16,155.89 L236.31,155.87 L236.47,155.91 L236.62,155.92 L236.77,155.88 L236.93,155.89 L237.08,155.86 L237.23,155.79 L237.39,155.78 L237.54,155.77 L237.69,155.76 L237.85,155.82 L238.00,155.86 L238.15,155.92 L238.31,155.97 L238.46,155.99 L238.62,155.97 L238.77,155.97 L238.92,155.94 L239.08,155.90 L239.23,155.92 L239.38,155.95 L239.54,155.93 L239.69,155.96 L239.84,155.99 L240.00,155.92 L240.15,155.90 L240.30,155.87 L240.46,155.85 L240.61,155.82 L240.76,155.88 L240.92,155.90 L241.07,155.91 L241.23,155.90 L241.38,155.89 L241.53,155.86 L241.69,155.86 L241.84,155.88 L241.99,155.84 L242.15,155.86 L242.30,155.87 L242.45,155.86 L242.61,155.89 L242.76,155.90 L242.91,155.92 L243.07,155.89 L243.22,155.89 L243.37,155.87 L243.53,155.92 L243.68,155.89 L243.84,155.91 L243.99,155.88 L244.14,155.84 L244.30,155.83 L244.45,155.85 L244.60,155.80 L244.76,155.81 L244.91,155.85 L245.06,155.87 L245.22,155.90 L245.37,155.95 L245.52,155.93 L245.68,155.93 L245.83,155.90 L245.98,155.89 L246.14,155.88 L246.29,155.92 L246.45,155.96 L246.60,155.98 L246.75,155.97 L246.91,155.94 L247.06,155.99 L247.21,155.94 L247.37,155.93 L247.52,155.98 L247.67,155.98 L247.83,155.94 L247.98,155.94 L248.13,155.93 L248.29,155.89 L248.44,155.96 L248.60,155.96 L248.75,155.97 L248.90,155.99 L249.06,155.97 L249.21,155.92 L249.36,155.96 L249.52,155.94 L249.67,155.90 L249.82,155.90 L249.98,155.89 L250.13,155.78 L250.28,155.83 L250.44,155.82 L250.59,155.81 L250.74,155.82 L250.90,155.85 L251.05,155.79 L251.21,155.82 L251.36,155.88 L251.51,155.90 L251.67,155.93 L251.82,155.88 L251.97,155.81 L252.13,155.61 L252.28,155.48 L252.43,155.36 L252.59,155.39 L252.74,155.49 L252.89,155.64 L253.05,155.70 L253.20,155.79 L253.35,155.79 L253.51,155.78 L253.66,155.79 L253.82,155.81 L253.97,155.81 L254.12,155.86 L254.28,155.90 L254.43,155.91 L254.58,155.93 L254.74,155.95 L254.89,155.88 L255.04,155.88 L255.20,155.85 L255.35,155.82 L255.50,155.80 L255.66,155.84 L255.81,155.84 L255.96,155.89 L256.12,155.87 L256.27,155.87 L256.43,155.92 L256.58,155.93 L256.73,155.94 L256.89,156.00 L257.04,155.96 L257.19,155.89 L257.35,155.87 L257.50,155.84" fill="none" stroke="#111111" stroke-width="1.35" stroke-linejoin="round" />
<path d="M297.60,124.29 L298.10,123.84 L298.60,123.16 L299.10,122.76 L299.60,122.28 L300.10,121.83 L300.60,122.11 L301.10,123.19 L301.60,123.08 L302.10,122.69 L302.60,121.87 L303.10,121.22 L303.60,119.81 L304.10,119.87 L304.60,120.08 L305.10,121.04 L305.60,120.89 L306.10,120.62 L306.60,119.17 L307.10,119.05 L307.60,118.94 L308.10,118.96 L308.60,117.66 L309.10,117.57 L309.60,117.95 L310.10,118.17 L310.60,117.56 L311.10,117.26 L311.60,117.56 L312.10,117.47 L312.60,117.65 L313.10,117.38 L313.60,116.95 L314.10,116.29 L314.60,115.70 L315.10,115.55 L315.60,116.27 L316.10,117.41 L316.60,117.54 L317.10,117.48 L317.60,117.18 L318.10,117.37 L318.60,117.85 L319.10,118.97 L319.60,119.12 L320.10,119.36 L320.60,120.14 L321.10,120.67 L321.60,120.77 L322.10,120.31 L322.60,120.08 L323.10,120.45 L323.60,121.62 L324.10,122.65 L324.60,122.80 L325.10,123.11 L325.60,123.77 L326.10,124.99 L326.60,125.53 L327.10,125.05 L327.60,125.17 L328.10,126.02 L328.60,126.93 L329.10,126.93 L329.60,127.68 L330.10,128.02 L330.60,128.21 L331.10,127.36 L331.60,127.24 L332.10,127.30 L332.60,128.08 L333.10,128.65 L333.60,128.88 L334.10,129.47 L334.60,129.46 L335.10,129.41 L335.60,129.12 L336.10,129.18 L336.60,129.32 L337.10,129.58 L337.60,129.82 L338.10,130.07 L338.60,130.05 L339.10,129.97 L339.60,129.07 L340.10,128.33 L340.60,127.85 L341.10,127.94 L341.60,128.07 L342.10,128.15 L342.60,127.27 L343.10,126.25 L343.60,124.94 L344.10,125.07 L344.60,124.41 L345.10,123.20 L345.60,120.75 L346.10,118.95 L346.60,116.55 L347.10,113.69 L347.60,109.26 L348.10,105.31 L348.60,100.94 L349.10,96.40 L349.60,90.80 L350.10,84.76 L350.60,78.30 L351.10,72.05 L351.60,66.43 L352.10,60.94 L352.60,55.95 L353.10,51.93 L353.60,49.54 L354.10,48.65 L354.60,49.00 L355.10,50.84 L355.60,53.24 L356.10,56.90 L356.60,61.94 L357.10,68.05 L357.60,73.47 L358.10,79.45 L358.60,86.17 L359.10,92.16 L359.60,97.44 L360.10,102.36 L360.60,106.84 L361.10,110.69 L361.60,114.57 L362.10,117.70 L362.60,120.18 L363.10,122.25 L363.60,124.29 L364.10,125.92 L364.60,127.56 L365.10,128.41 L365.60,128.66 L366.10,128.60 L366.60,129.16 L367.10,130.51 L367.60,131.67 L368.10,131.81 L368.60,131.80 L369.10,131.64 L369.60,132.16 L370.10,132.23 L370.60,132.87 L371.10,133.07 L371.60,133.29 L372.10,133.26 L372.60,133.01 L373.10,133.11 L373.60,133.60 L374.10,135.38 L374.60,136.07 L375.10,135.65 L375.60,134.32 L376.10,134.49 L376.60,134.36 L377.10,134.31 L377.60,134.33 L378.10,134.70 L378.60,135.32 L379.10,135.87 L379.60,136.07 L380.10,135.34 L380.60,134.67 L381.10,134.37 L381.60,134.65 L382.10,135.38 L382.60,135.89 L383.10,135.81 L383.60,135.45 L384.10,135.36 L384.60,134.93 L385.10,134.89 L385.60,135.32 L386.10,136.23 L386.60,136.05 L387.10,135.32 L387.60,135.31 L388.10,136.07 L388.60,135.74 L389.10,134.86 L389.60,134.47 L390.10,135.26 L390.60,135.18 L391.10,135.05 L391.60,134.70 L392.10,135.48 L392.60,135.62 L393.10,135.42 L393.60,134.54 L394.10,134.64 L394.60,134.95 L395.10,134.64 L395.60,134.17 L396.10,133.65 L396.60,133.53 L397.10,133.08 L397.60,132.95 L398.10,132.89 L398.60,132.95 L399.10,133.37 L399.60,133.84 L400.10,133.98 L400.60,133.32 L401.10,133.13 L401.60,132.70 L402.10,132.09 L402.60,131.96 L403.10,132.87 L403.60,133.58 L404.10,133.22 L404.60,132.44 L405.10,131.79 L405.60,131.96 L406.10,132.08 L406.60,131.76 L407.10,131.08 L407.60,130.76 L408.10,131.09 L408.60,131.68 L409.10,131.50 L409.60,130.66 L410.10,130.24 L410.60,130.62 L411.10,130.52 L411.60,130.28 L412.10,129.40 L412.60,128.96 L413.10,128.98 L413.60,129.76 L414.10,129.59 L414.60,128.79 L415.10,128.54 L415.60,128.64 L416.10,128.33 L416.60,127.98 L417.10,127.99 L417.60,128.19 L418.10,128.12 L418.60,127.64 L419.10,126.94 L419.60,126.54 L420.10,126.14 L420.60,125.61 L421.10,125.80 L421.60,125.80 L422.10,126.02 L422.60,126.01 L423.10,126.32 L423.60,126.14 L424.10,126.26 L424.60,126.65 L425.10,126.47 L425.60,126.14 L426.10,125.77 L426.60,126.46 L427.10,127.04 L427.60,126.81 L428.10,126.04 L428.60,125.68 L429.10,125.97 L429.60,126.25 L430.10,127.19 L430.60,126.92 L431.10,126.82 L431.60,126.63 L432.10,126.95 L432.60,126.57 L433.10,126.41 L433.60,126.65 L434.10,127.09 L434.60,126.94 L435.10,127.11 L435.60,127.04 L436.10,127.78 L436.60,127.74 L437.10,128.12 L437.60,127.96 L438.10,128.11 L438.60,127.83 L439.10,127.34 L439.60,127.13 L440.10,127.45 L440.60,128.27 L441.10,127.60 L441.60,126.92 L442.10,126.75 L442.60,127.04 L443.10,126.76 L443.60,127.11 L444.10,128.04 L444.60,127.74 L445.10,127.28 L445.60,127.38 L446.10,127.79 L446.60,127.41 L447.10,127.05 L447.60,126.52 L448.10,126.10 L448.60,126.20 L449.10,126.54 L449.60,127.07 L450.10,126.82 L450.60,125.76 L451.10,124.78 L451.60,124.95 L452.10,125.54 L452.60,125.33 L453.10,124.55 L453.60,124.22 L454.10,123.50 L454.60,122.80 L455.10,121.24 L455.60,119.54 L456.10,117.88 L456.60,115.39 L457.10,112.66 L457.60,109.75 L458.10,107.41 L458.60,104.48 L459.10,100.99 L459.60,97.43 L460.10,94.51 L460.60,91.79 L461.10,89.28 L461.60,86.76 L462.10,85.86 L462.60,86.32 L463.10,87.70 L463.60,89.21 L464.10,90.54 L464.60,92.64 L465.10,94.69 L465.60,97.15 L466.10,99.69 L466.60,102.65 L467.10,105.40 L467.60,107.95 L468.10,110.33 L468.60,113.06 L469.10,115.80 L469.60,118.16 L470.10,119.40 L470.60,120.85 L471.10,122.13 L471.60,123.57 L472.10,124.98 L472.60,125.63 L473.10,125.81 L473.60,125.76 L474.10,125.28 L474.60,124.90 L475.10,125.47 L475.60,127.08 L476.10,127.62 L476.60,128.03 L477.10,128.56 L477.60,128.78 L478.10,128.83 L478.60,129.26 L479.10,129.65 L479.60,128.93 L480.10,128.80 L480.60,128.94 L481.10,129.03 L481.60,128.69 L482.10,128.70 L482.60,129.12 L483.10,129.52 L483.60,130.05 L484.10,130.01 L484.60,129.56 L485.10,129.09 L485.60,129.29 L486.10,129.55 L486.60,130.37 L487.10,130.42 L487.60,130.13 L488.10,129.64 L488.60,130.15 L489.10,130.32 L489.60,129.91 L490.10,129.86 L490.60,130.22 L491.10,130.59 L491.60,130.42 L492.10,130.25 L492.60,130.39 L493.10,130.77 L493.60,129.80 L494.10,128.98 L494.60,128.78 L495.10,129.63 L495.60,130.01 L496.10,130.55 L496.60,130.88 L497.10,130.77 L497.60,130.44 L498.10,130.77 L498.60,130.77 L499.10,130.59 L499.60,130.57 L500.10,130.90 L500.60,130.05 L501.10,129.41 L501.60,129.34 L502.10,129.73 L502.60,129.85 L503.10,130.10 L503.60,129.89 L504.10,129.65 L504.60,129.63 L505.10,129.57 L505.60,129.24 L506.10,129.08 L506.60,128.81 L507.10,128.40 L507.60,128.19 L508.10,127.93 L508.60,127.47 L509.10,127.67 L509.60,127.99 L510.10,128.06 L510.60,127.55 L511.10,127.49 L511.60,127.40 L512.10,127.34 L512.60,127.00 L513.10,127.07 L513.60,126.92 L514.10,127.20 L514.60,126.47 L515.10,126.01 L515.60,126.01 L516.10,126.65 L516.60,126.58 L517.10,126.29 L517.60,126.06 L518.10,126.08 L518.60,125.38 L519.10,125.27 L519.60,125.16 L520.10,125.87 L520.60,126.30 L521.10,126.21 L521.60,126.29 L522.10,126.05 L522.60,125.44 L523.10,124.11 L523.60,124.63 L524.10,125.51 L524.60,125.80 L525.10,125.05 L525.60,124.70 L526.10,125.19 L526.60,125.57 L527.10,126.21 L527.60,125.90 L528.10,125.02 L528.60,124.51 L529.10,124.83" fill="none" stroke="#ff9933" stroke-width="1.35" stroke-linejoin="round" />
<path d="M297.60,133.28 L298.10,133.41 L298.60,133.29 L299.10,133.21 L299.60,132.61 L300.10,132.08 L300.60,131.56 L301.10,131.26 L301.60,131.49 L302.10,131.57 L302.60,131.52 L303.10,131.06 L303.60,130.81 L304.10,130.54 L304.60,130.38 L305.10,130.12 L305.60,130.13 L306.10,129.56 L306.60,129.39 L307.10,129.34 L307.60,129.32 L308.10,128.98 L308.60,128.68 L309.10,129.05 L309.60,129.03 L310.10,129.14 L310.60,129.45 L311.10,129.85 L311.60,129.15 L312.10,128.58 L312.60,128.98 L313.10,129.50 L313.60,129.74 L314.10,129.85 L314.60,130.11 L315.10,129.83 L315.60,129.58 L316.10,129.52 L316.60,129.80 L317.10,130.29 L317.60,130.70 L318.10,130.77 L318.60,130.75 L319.10,130.96 L319.60,130.80 L320.10,130.56 L320.60,130.52 L321.10,131.19 L321.60,131.70 L322.10,132.19 L322.60,132.36 L323.10,132.96 L323.60,133.66 L324.10,133.81 L324.60,133.84 L325.10,133.99 L325.60,135.21 L326.10,135.70 L326.60,136.03 L327.10,135.87 L327.60,136.23 L328.10,136.50 L328.60,137.07 L329.10,137.47 L329.60,137.73 L330.10,137.78 L330.60,137.58 L331.10,137.72 L331.60,137.94 L332.10,138.47 L332.60,137.83 L333.10,137.75 L333.60,137.78 L334.10,137.85 L334.60,138.17 L335.10,138.46 L335.60,138.35 L336.10,137.63 L336.60,137.72 L337.10,138.13 L337.60,138.19 L338.10,138.15 L338.60,138.21 L339.10,137.61 L339.60,136.73 L340.10,135.94 L340.60,136.05 L341.10,136.42 L341.60,136.63 L342.10,135.76 L342.60,134.49 L343.10,133.89 L343.60,133.16 L344.10,131.82 L344.60,130.10 L345.10,127.86 L345.60,125.62 L346.10,123.16 L346.60,120.65 L347.10,116.58 L347.60,112.09 L348.10,107.39 L348.60,103.06 L349.10,98.48 L349.60,93.70 L350.10,89.28 L350.60,85.20 L351.10,80.80 L351.60,76.49 L352.10,74.08 L352.60,72.93 L353.10,73.00 L353.60,73.99 L354.10,75.93 L354.60,78.24 L355.10,81.64 L355.60,85.99 L356.10,90.50 L356.60,95.37 L357.10,100.95 L357.60,106.14 L358.10,110.74 L358.60,114.72 L359.10,118.37 L359.60,122.27 L360.10,125.06 L360.60,127.51 L361.10,129.62 L361.60,131.83 L362.10,133.50 L362.60,135.09 L363.10,136.27 L363.60,136.73 L364.10,136.76 L364.60,137.51 L365.10,138.01 L365.60,138.65 L366.10,139.16 L366.60,139.58 L367.10,139.99 L367.60,140.02 L368.10,139.61 L368.60,139.24 L369.10,139.44 L369.60,139.49 L370.10,139.71 L370.60,139.94 L371.10,140.41 L371.60,139.88 L372.10,139.83 L372.60,139.97 L373.10,140.22 L373.60,140.23 L374.10,139.64 L374.60,139.97 L375.10,140.02 L375.60,139.83 L376.10,139.12 L376.60,139.37 L377.10,140.20 L377.60,140.39 L378.10,140.61 L378.60,140.33 L379.10,141.13 L379.60,141.52 L380.10,142.21 L380.60,141.43 L381.10,141.18 L381.60,140.50 L382.10,140.77 L382.60,140.89 L383.10,140.68 L383.60,139.93 L384.10,139.39 L384.60,139.35 L385.10,139.37 L385.60,139.43 L386.10,139.35 L386.60,139.46 L387.10,139.96 L387.60,139.95 L388.10,139.50 L388.60,139.33 L389.10,139.60 L389.60,139.44 L390.10,139.53 L390.60,139.89 L391.10,140.19 L391.60,139.80 L392.10,139.95 L392.60,140.37 L393.10,140.21 L393.60,139.33 L394.10,139.12 L394.60,139.06 L395.10,138.95 L395.60,138.68 L396.10,138.61 L396.60,138.30 L397.10,137.82 L397.60,137.68 L398.10,137.22 L398.60,138.12 L399.10,139.05 L399.60,139.84 L400.10,139.20 L400.60,138.91 L401.10,138.93 L401.60,139.11 L402.10,139.00 L402.60,138.32 L403.10,137.92 L403.60,137.57 L404.10,137.35 L404.60,136.78 L405.10,137.00 L405.60,137.72 L406.10,137.65 L406.60,137.73 L407.10,138.08 L407.60,138.27 L408.10,137.39 L408.60,136.87 L409.10,137.22 L409.60,137.26 L410.10,136.76 L410.60,136.42 L411.10,135.97 L411.60,135.98 L412.10,136.30 L412.60,136.93 L413.10,136.90 L413.60,136.61 L414.10,136.55 L414.60,136.24 L415.10,135.65 L415.60,135.14 L416.10,134.98 L416.60,135.45 L417.10,135.96 L417.60,136.00 L418.10,135.19 L418.60,134.29 L419.10,134.01 L419.60,134.58 L420.10,134.95 L420.60,134.83 L421.10,134.13 L421.60,134.19 L422.10,134.44 L422.60,134.64 L423.10,134.50 L423.60,135.09 L424.10,135.44 L424.60,135.98 L425.10,136.31 L425.60,136.63 L426.10,136.58 L426.60,136.56 L427.10,136.49 L427.60,136.33 L428.10,136.36 L428.60,136.83 L429.10,137.12 L429.60,137.50 L430.10,137.64 L430.60,136.75 L431.10,136.29 L431.60,135.84 L432.10,136.55 L432.60,136.37 L433.10,136.78 L433.60,137.18 L434.10,137.02 L434.60,136.71 L435.10,136.43 L435.60,136.30 L436.10,136.21 L436.60,136.43 L437.10,136.71 L437.60,136.21 L438.10,137.04 L438.60,137.38 L439.10,136.67 L439.60,135.29 L440.10,135.32 L440.60,135.70 L441.10,135.84 L441.60,135.57 L442.10,135.62 L442.60,135.53 L443.10,135.22 L443.60,134.62 L444.10,134.58 L444.60,135.15 L445.10,135.54 L445.60,135.45 L446.10,135.08 L446.60,134.99 L447.10,135.63 L447.60,135.56 L448.10,135.31 L448.60,134.95 L449.10,134.78 L449.60,134.41 L450.10,134.19 L450.60,134.12 L451.10,133.89 L451.60,133.88 L452.10,133.92 L452.60,133.12 L453.10,132.00 L453.60,131.43 L454.10,130.19 L454.60,128.43 L455.10,126.43 L455.60,124.86 L456.10,122.65 L456.60,119.99 L457.10,117.43 L457.60,114.86 L458.10,112.00 L458.60,109.02 L459.10,106.30 L459.60,104.29 L460.10,102.88 L460.60,102.05 L461.10,102.40 L461.60,103.68 L462.10,105.61 L462.60,107.15 L463.10,108.05 L463.60,109.69 L464.10,111.41 L464.60,113.59 L465.10,115.89 L465.60,118.08 L466.10,120.10 L466.60,121.76 L467.10,123.76 L467.60,124.87 L468.10,126.32 L468.60,127.67 L469.10,129.29 L469.60,130.66 L470.10,131.28 L470.60,131.32 L471.10,131.58 L471.60,132.17 L472.10,132.33 L472.60,132.81 L473.10,133.49 L473.60,133.54 L474.10,133.42 L474.60,133.90 L475.10,134.26 L475.60,134.10 L476.10,134.53 L476.60,135.57 L477.10,135.42 L477.60,134.39 L478.10,134.26 L478.60,134.67 L479.10,134.98 L479.60,134.99 L480.10,135.63 L480.60,135.25 L481.10,134.62 L481.60,134.31 L482.10,135.57 L482.60,136.51 L483.10,136.40 L483.60,136.21 L484.10,136.76 L484.60,137.25 L485.10,136.96 L485.60,136.89 L486.10,137.39 L486.60,137.62 L487.10,137.56 L487.60,137.25 L488.10,137.06 L488.60,136.62 L489.10,136.67 L489.60,136.82 L490.10,136.97 L490.60,137.17 L491.10,137.52 L491.60,137.80 L492.10,137.13 L492.60,136.93 L493.10,136.73 L493.60,136.84 L494.10,136.43 L494.60,136.94 L495.10,137.61 L495.60,137.62 L496.10,136.81 L496.60,136.54 L497.10,136.73 L497.60,137.49 L498.10,137.28 L498.60,136.59 L499.10,136.02 L499.60,136.59 L500.10,137.18 L500.60,137.48 L501.10,138.13 L501.60,138.11 L502.10,137.49 L502.60,136.37 L503.10,136.40 L503.60,136.96 L504.10,137.42 L504.60,137.55 L505.10,137.41 L505.60,137.77 L506.10,137.63 L506.60,137.16 L507.10,136.37 L507.60,135.82 L508.10,135.49 L508.60,135.68 L509.10,136.49 L509.60,137.54 L510.10,137.49 L510.60,136.92 L511.10,135.97 L511.60,136.11 L512.10,136.42 L512.60,136.44 L513.10,136.19 L513.60,136.29 L514.10,135.84 L514.60,135.56 L515.10,135.61 L515.60,135.90 L516.10,135.45 L516.60,135.83 L517.10,136.51 L517.60,137.06 L518.10,136.19 L518.60,135.21 L519.10,134.92 L519.60,134.98 L520.10,134.69 L520.60,133.90 L521.10,134.60 L521.60,135.39 L522.10,135.90 L522.60,135.31 L523.10,134.81 L523.60,134.45 L524.10,134.50 L524.60,134.46 L525.10,134.75 L525.60,134.57 L526.10,134.32 L526.60,134.26 L527.10,134.52 L527.60,134.76 L528.10,134.30 L528.60,133.58 L529.10,133.21" fill="none" stroke="#3333ff" stroke-width="1.35" stroke-linejoin="round" />
<path d="M297.60,115.47 L298.10,115.26 L298.60,114.57 L299.10,113.85 L299.60,113.28 L300.10,113.74 L300.60,114.01 L301.10,113.24 L301.60,112.95 L302.10,112.42 L302.60,112.12 L303.10,111.47 L303.60,111.47 L304.10,111.63 L304.60,111.53 L305.10,111.41 L305.60,111.22 L306.10,110.66 L306.60,109.66 L307.10,109.12 L307.60,109.23 L308.10,109.36 L308.60,108.73 L309.10,108.64 L309.60,108.77 L310.10,109.05 L310.60,108.17 L311.10,107.67 L311.60,107.56 L312.10,107.96 L312.60,107.97 L313.10,108.25 L313.60,108.08 L314.10,108.49 L314.60,107.93 L315.10,107.58 L315.60,107.64 L316.10,108.25 L316.60,108.82 L317.10,108.83 L317.60,109.40 L318.10,109.37 L318.60,109.80 L319.10,110.18 L319.60,110.77 L320.10,111.06 L320.60,111.92 L321.10,112.55 L321.60,112.58 L322.10,112.56 L322.60,113.43 L323.10,114.51 L323.60,115.27 L324.10,115.30 L324.60,115.47 L325.10,115.94 L325.60,116.66 L326.10,116.75 L326.60,115.98 L327.10,115.87 L327.60,116.86 L328.10,117.70 L328.60,117.58 L329.10,117.48 L329.60,118.43 L330.10,119.27 L330.60,118.98 L331.10,118.68 L331.60,118.81 L332.10,119.18 L332.60,119.10 L333.10,119.66 L333.60,120.72 L334.10,120.94 L334.60,119.68 L335.10,119.05 L335.60,119.30 L336.10,120.04 L336.60,120.00 L337.10,120.78 L337.60,121.07 L338.10,120.43 L338.60,119.46 L339.10,119.44 L339.60,119.45 L340.10,119.21 L340.60,119.36 L341.10,119.37 L341.60,118.72 L342.10,117.97 L342.60,117.70 L343.10,117.40 L343.60,116.95 L344.10,116.28 L344.60,114.96 L345.10,113.12 L345.60,111.83 L346.10,110.56 L346.60,107.81 L347.10,104.25 L347.60,100.07 L348.10,95.32 L348.60,90.36 L349.10,85.47 L349.60,80.12 L350.10,73.64 L350.60,66.92 L351.10,59.75 L351.60,52.85 L352.10,46.27 L352.60,39.98 L353.10,34.16 L353.60,28.54 L354.10,24.23 L354.60,21.98 L355.10,22.14 L355.60,22.96 L356.10,24.37 L356.60,26.86 L357.10,31.37 L357.60,37.34 L358.10,43.60 L358.60,50.19 L359.10,57.28 L359.60,64.82 L360.10,71.18 L360.60,77.58 L361.10,83.30 L361.60,89.47 L362.10,94.69 L362.60,99.14 L363.10,102.88 L363.60,106.76 L364.10,109.73 L364.60,112.17 L365.10,113.78 L365.60,115.35 L366.10,116.47 L366.60,117.24 L367.10,117.94 L367.60,118.56 L368.10,119.64 L368.60,119.48 L369.10,119.85 L369.60,119.97 L370.10,120.14 L370.60,120.17 L371.10,120.42 L371.60,121.29 L372.10,121.52 L372.60,121.58 L373.10,121.30 L373.60,121.91 L374.10,122.57 L374.60,123.15 L375.10,123.25 L375.60,122.97 L376.10,122.90 L376.60,123.41 L377.10,123.93 L377.60,123.88 L378.10,123.06 L378.60,123.41 L379.10,124.31 L379.60,124.91 L380.10,124.37 L380.60,123.99 L381.10,123.57 L381.60,123.36 L382.10,123.53 L382.60,123.67 L383.10,123.33 L383.60,123.25 L384.10,123.72 L384.60,124.10 L385.10,124.11 L385.60,123.42 L386.10,123.32 L386.60,123.47 L387.10,123.73 L387.60,123.21 L388.10,123.32 L388.60,123.66 L389.10,124.19 L389.60,124.08 L390.10,124.42 L390.60,124.29 L391.10,123.90 L391.60,123.60 L392.10,123.74 L392.60,124.35 L393.10,124.34 L393.60,124.23 L394.10,124.30 L394.60,124.89 L395.10,125.25 L395.60,125.26 L396.10,125.06 L396.60,124.98 L397.10,124.92 L397.60,124.86 L398.10,124.55 L398.60,124.23 L399.10,124.72 L399.60,124.82 L400.10,124.38 L400.60,123.45 L401.10,123.30 L401.60,123.34 L402.10,123.01 L402.60,122.18 L403.10,121.97 L403.60,121.89 L404.10,122.20 L404.60,122.17 L405.10,122.79 L405.60,123.12 L406.10,123.07 L406.60,122.30 L407.10,121.23 L407.60,120.68 L408.10,120.72 L408.60,120.39 L409.10,120.28 L409.60,120.31 L410.10,120.93 L410.60,120.71 L411.10,120.47 L411.60,119.92 L412.10,119.59 L412.60,118.85 L413.10,118.74 L413.60,119.25 L414.10,119.69 L414.60,119.37 L415.10,118.42 L415.60,118.40 L416.10,118.06 L416.60,118.12 L417.10,117.67 L417.60,117.33 L418.10,117.08 L418.60,117.06 L419.10,117.12 L419.60,116.82 L420.10,116.71 L420.60,116.40 L421.10,116.30 L421.60,116.22 L422.10,116.26 L422.60,116.00 L423.10,115.67 L423.60,115.45 L424.10,115.68 L424.60,116.24 L425.10,116.95 L425.60,116.86 L426.10,116.78 L426.60,116.14 L427.10,116.26 L427.60,116.35 L428.10,116.55 L428.60,116.30 L429.10,116.66 L429.60,117.64 L430.10,118.24 L430.60,118.03 L431.10,118.62 L431.60,118.92 L432.10,118.69 L432.60,118.48 L433.10,118.92 L433.60,118.93 L434.10,118.66 L434.60,118.63 L435.10,118.77 L435.60,118.49 L436.10,118.06 L436.60,117.97 L437.10,118.07 L437.60,117.92 L438.10,117.25 L438.60,117.42 L439.10,117.69 L439.60,117.72 L440.10,117.60 L440.60,117.71 L441.10,117.10 L441.60,116.82 L442.10,117.13 L442.60,117.70 L443.10,117.84 L443.60,117.61 L444.10,117.34 L444.60,117.26 L445.10,117.06 L445.60,117.08 L446.10,117.26 L446.60,117.53 L447.10,117.42 L447.60,117.23 L448.10,116.61 L448.60,116.19 L449.10,116.17 L449.60,116.39 L450.10,116.04 L450.60,116.22 L451.10,116.26 L451.60,115.79 L452.10,115.24 L452.60,115.17 L453.10,114.88 L453.60,114.07 L454.10,113.25 L454.60,112.59 L455.10,111.89 L455.60,111.23 L456.10,110.55 L456.60,109.09 L457.10,106.87 L457.60,104.09 L458.10,101.20 L458.60,97.51 L459.10,93.59 L459.60,89.56 L460.10,85.65 L460.60,81.40 L461.10,77.52 L461.60,74.36 L462.10,71.79 L462.60,70.58 L463.10,70.49 L463.60,71.32 L464.10,72.42 L464.60,74.36 L465.10,76.39 L465.60,78.70 L466.10,80.90 L466.60,83.29 L467.10,85.77 L467.60,89.76 L468.10,93.18 L468.60,96.41 L469.10,99.29 L469.60,102.26 L470.10,104.68 L470.60,107.02 L471.10,109.25 L471.60,110.96 L472.10,112.12 L472.60,112.66 L473.10,113.01 L473.60,113.67 L474.10,114.13 L474.60,114.13 L475.10,115.42 L475.60,116.39 L476.10,116.83 L476.60,116.32 L477.10,116.70 L477.60,116.93 L478.10,117.15 L478.60,116.92 L479.10,116.66 L479.60,116.68 L480.10,117.30 L480.60,118.52 L481.10,119.32 L481.60,119.77 L482.10,119.50 L482.60,119.16 L483.10,118.31 L483.60,118.16 L484.10,117.79 L484.60,117.98 L485.10,118.71 L485.60,119.68 L486.10,120.05 L486.60,119.63 L487.10,119.08 L487.60,118.59 L488.10,118.74 L488.60,119.55 L489.10,120.45 L489.60,120.48 L490.10,119.82 L490.60,119.29 L491.10,119.45 L491.60,119.21 L492.10,119.21 L492.60,119.55 L493.10,120.05 L493.60,119.70 L494.10,119.43 L494.60,118.94 L495.10,119.40 L495.60,119.40 L496.10,119.65 L496.60,119.34 L497.10,119.46 L497.60,119.23 L498.10,118.82 L498.60,119.42 L499.10,120.14 L499.60,120.59 L500.10,120.70 L500.60,120.77 L501.10,120.63 L501.60,120.07 L502.10,120.34 L502.60,120.39 L503.10,120.35 L503.60,119.85 L504.10,119.65 L504.60,119.85 L505.10,119.32 L505.60,118.79 L506.10,118.42 L506.60,118.78 L507.10,118.15 L507.60,118.20 L508.10,118.17 L508.60,118.39 L509.10,117.97 L509.60,117.58 L510.10,117.28 L510.60,116.88 L511.10,116.83 L511.60,116.83 L512.10,117.29 L512.60,117.49 L513.10,117.43 L513.60,117.91 L514.10,118.13 L514.60,117.57 L515.10,116.54 L515.60,116.20 L516.10,116.41 L516.60,116.37 L517.10,116.19 L517.60,116.60 L518.10,116.94 L518.60,116.85 L519.10,116.19 L519.60,116.04 L520.10,116.46 L520.60,116.74 L521.10,116.95 L521.60,115.65 L522.10,115.13 L522.60,115.36 L523.10,116.80 L523.60,116.72 L524.10,115.67 L524.60,115.04 L525.10,115.00 L525.60,114.79 L526.10,114.26 L526.60,114.77 L527.10,115.71 L527.60,116.03 L528.10,115.32 L528.60,115.45 L529.10,115.50" fill="none" stroke="#33a033" stroke-width="1.35" stroke-linejoin="round" />
<path d="M297.60,144.41 L298.10,143.87 L298.60,144.22 L299.10,144.42 L299.60,144.80 L300.10,144.31 L300.60,143.91 L301.10,143.52 L301.60,142.82 L302.10,142.79 L302.60,143.14 L303.10,143.43 L303.60,142.90 L304.10,142.66 L304.60,143.15 L305.10,143.30 L305.60,143.04 L306.10,142.34 L306.60,141.67 L307.10,141.33 L307.60,141.53 L308.10,141.91 L308.60,142.03 L309.10,142.22 L309.60,142.45 L310.10,142.46 L310.60,142.40 L311.10,142.35 L311.60,142.21 L312.10,142.13 L312.60,141.64 L313.10,141.83 L313.60,141.67 L314.10,142.24 L314.60,142.19 L315.10,142.91 L315.60,142.92 L316.10,142.69 L316.60,142.74 L317.10,143.13 L317.60,143.52 L318.10,143.40 L318.60,143.80 L319.10,144.26 L319.60,144.45 L320.10,143.83 L320.60,143.49 L321.10,143.75 L321.60,144.96 L322.10,145.57 L322.60,145.62 L323.10,145.64 L323.60,145.87 L324.10,146.01 L324.60,145.97 L325.10,145.84 L325.60,146.20 L326.10,146.74 L326.60,147.25 L327.10,146.79 L327.60,146.83 L328.10,147.61 L328.60,148.00 L329.10,147.58 L329.60,147.39 L330.10,147.39 L330.60,146.99 L331.10,146.80 L331.60,147.34 L332.10,147.99 L332.60,148.10 L333.10,148.47 L333.60,148.67 L334.10,148.69 L334.60,148.52 L335.10,148.86 L335.60,149.49 L336.10,149.98 L336.60,150.07 L337.10,148.90 L337.60,148.03 L338.10,148.01 L338.60,149.12 L339.10,149.03 L339.60,149.38 L340.10,149.72 L340.60,149.91 L341.10,149.47 L341.60,149.35 L342.10,149.23 L342.60,149.24 L343.10,149.25 L343.60,148.85 L344.10,148.27 L344.60,148.21 L345.10,148.03 L345.60,148.06 L346.10,147.45 L346.60,147.33 L347.10,146.60 L347.60,145.45 L348.10,143.47 L348.60,142.06 L349.10,140.51 L349.60,137.87 L350.10,135.08 L350.60,133.22 L351.10,130.53 L351.60,127.44 L352.10,124.16 L352.60,121.68 L353.10,118.77 L353.60,116.35 L354.10,114.84 L354.60,113.98 L355.10,113.13 L355.60,113.22 L356.10,113.72 L356.60,115.37 L357.10,117.16 L357.60,120.25 L358.10,122.98 L358.60,126.05 L359.10,128.73 L359.60,131.73 L360.10,134.42 L360.60,137.60 L361.10,139.69 L361.60,141.79 L362.10,143.36 L362.60,145.14 L363.10,145.95 L363.60,146.99 L364.10,147.53 L364.60,147.85 L365.10,148.52 L365.60,149.16 L366.10,150.10 L366.60,150.40 L367.10,150.98 L367.60,150.82 L368.10,151.16 L368.60,151.18 L369.10,151.11 L369.60,151.06 L370.10,151.58 L370.60,152.22 L371.10,152.73 L371.60,152.65 L372.10,152.29 L372.60,151.49 L373.10,151.53 L373.60,152.14 L374.10,152.62 L374.60,152.64 L375.10,152.96 L375.60,153.23 L376.10,153.27 L376.60,153.15 L377.10,152.62 L377.60,152.05 L378.10,152.01 L378.60,152.71 L379.10,152.72 L379.60,152.60 L380.10,152.23 L380.60,152.42 L381.10,152.66 L381.60,153.23 L382.10,153.57 L382.60,153.58 L383.10,153.32 L383.60,153.14 L384.10,153.12 L384.60,153.50 L385.10,152.90 L385.60,152.44 L386.10,152.31 L386.60,153.39 L387.10,153.21 L387.60,153.02 L388.10,153.08 L388.60,153.32 L389.10,152.56 L389.60,152.07 L390.10,152.01 L390.60,152.66 L391.10,152.70 L391.60,153.41 L392.10,153.52 L392.60,153.38 L393.10,152.64 L393.60,152.32 L394.10,152.61 L394.60,153.32 L395.10,153.67 L395.60,153.66 L396.10,153.07 L396.60,153.03 L397.10,153.52 L397.60,153.56 L398.10,153.44 L398.60,153.34 L399.10,153.16 L399.60,152.07 L400.10,151.46 L400.60,152.27 L401.10,152.69 L401.60,152.73 L402.10,152.63 L402.60,152.81 L403.10,152.80 L403.60,152.46 L404.10,152.63 L404.60,152.42 L405.10,152.74 L405.60,152.49 L406.10,152.23 L406.60,151.82 L407.10,152.12 L407.60,151.69 L408.10,151.27 L408.60,150.90 L409.10,151.02 L409.60,151.16 L410.10,151.39 L410.60,151.51 L411.10,151.21 L411.60,151.86 L412.10,151.86 L412.60,151.34 L413.10,150.27 L413.60,149.94 L414.10,150.23 L414.60,150.53 L415.10,150.94 L415.60,150.93 L416.10,150.78 L416.60,150.49 L417.10,150.31 L417.60,150.21 L418.10,150.28 L418.60,150.49 L419.10,150.16 L419.60,149.23 L420.10,148.58 L420.60,148.84 L421.10,148.68 L421.60,148.46 L422.10,148.66 L422.60,149.27 L423.10,148.97 L423.60,149.29 L424.10,150.12 L424.60,150.33 L425.10,150.07 L425.60,150.21 L426.10,149.97 L426.60,150.15 L427.10,149.89 L427.60,149.82 L428.10,148.84 L428.60,149.07 L429.10,148.92 L429.60,149.12 L430.10,149.57 L430.60,150.14 L431.10,150.02 L431.60,150.14 L432.10,150.03 L432.60,150.18 L433.10,149.86 L433.60,150.09 L434.10,149.90 L434.60,150.03 L435.10,149.99 L435.60,149.77 L436.10,149.53 L436.60,149.71 L437.10,150.01 L437.60,149.81 L438.10,149.39 L438.60,149.27 L439.10,149.59 L439.60,149.91 L440.10,150.14 L440.60,149.93 L441.10,149.74 L441.60,149.28 L442.10,148.39 L442.60,148.08 L443.10,148.12 L443.60,148.36 L444.10,147.96 L444.60,148.45 L445.10,148.43 L445.60,148.59 L446.10,148.35 L446.60,148.23 L447.10,147.58 L447.60,147.77 L448.10,148.38 L448.60,148.99 L449.10,149.37 L449.60,149.38 L450.10,149.03 L450.60,148.40 L451.10,148.24 L451.60,148.00 L452.10,147.63 L452.60,147.98 L453.10,147.67 L453.60,147.43 L454.10,146.95 L454.60,147.24 L455.10,146.49 L455.60,145.74 L456.10,145.08 L456.60,144.36 L457.10,143.56 L457.60,142.78 L458.10,141.90 L458.60,140.99 L459.10,139.74 L459.60,138.63 L460.10,137.17 L460.60,136.29 L461.10,135.18 L461.60,134.45 L462.10,133.35 L462.60,132.57 L463.10,132.17 L463.60,132.64 L464.10,133.51 L464.60,134.64 L465.10,135.15 L465.60,135.61 L466.10,135.79 L466.60,136.10 L467.10,136.76 L467.60,138.15 L468.10,139.35 L468.60,139.96 L469.10,141.19 L469.60,142.49 L470.10,143.19 L470.60,144.34 L471.10,145.66 L471.60,146.44 L472.10,146.46 L472.60,146.75 L473.10,147.57 L473.60,147.51 L474.10,147.37 L474.60,147.16 L475.10,147.72 L475.60,148.64 L476.10,148.62 L476.60,148.52 L477.10,148.43 L477.60,149.28 L478.10,149.94 L478.60,150.14 L479.10,150.67 L479.60,150.54 L480.10,150.35 L480.60,150.13 L481.10,150.34 L481.60,150.18 L482.10,149.89 L482.60,149.85 L483.10,149.65 L483.60,149.63 L484.10,149.47 L484.60,149.83 L485.10,149.74 L485.60,150.57 L486.10,151.28 L486.60,151.98 L487.10,151.23 L487.60,150.40 L488.10,150.33 L488.60,150.53 L489.10,150.67 L489.60,150.06 L490.10,150.09 L490.60,149.77 L491.10,149.71 L491.60,148.89 L492.10,148.64 L492.60,148.73 L493.10,149.09 L493.60,148.94 L494.10,148.91 L494.60,149.02 L495.10,149.32 L495.60,148.43 L496.10,148.17 L496.60,148.16 L497.10,148.33 L497.60,147.53 L498.10,147.59 L498.60,147.86 L499.10,147.80 L499.60,147.70 L500.10,147.96 L500.60,148.13 L501.10,147.73 L501.60,147.72 L502.10,147.94 L502.60,148.30 L503.10,147.46 L503.60,147.04 L504.10,147.18 L504.60,147.43 L505.10,147.50 L505.60,147.15 L506.10,147.58 L506.60,147.30 L507.10,147.94 L507.60,147.55 L508.10,147.14 L508.60,146.55 L509.10,146.73 L509.60,147.22 L510.10,147.46 L510.60,147.10 L511.10,146.84 L511.60,146.81 L512.10,146.95 L512.60,146.38 L513.10,145.77 L513.60,145.98 L514.10,146.57 L514.60,146.53 L515.10,145.71 L515.60,145.71 L516.10,145.66 L516.60,145.74 L517.10,145.24 L517.60,145.01 L518.10,144.82 L518.60,145.08 L519.10,145.87 L519.60,146.54 L520.10,146.53 L520.60,146.08 L521.10,145.75 L521.60,145.56 L522.10,144.78 L522.60,144.80 L523.10,144.98 L523.60,144.93 L524.10,144.32 L524.60,144.26 L525.10,144.00 L525.60,144.14 L526.10,144.56 L526.60,144.56 L527.10,143.69 L527.60,143.14 L528.10,142.85 L528.60,142.80 L529.10,142.77" fill="none" stroke="#ff3333" stroke-width="1.35" stroke-linejoin="round" />
<g fill="#fff" stroke="#151515" stroke-width="0.85"><circle cx="27.60" cy="346.84" r="1.5"/><circle cx="28.85" cy="348.27" r="1.5"/><circle cx="30.10" cy="345.16" r="1.5"/><circle cx="31.35" cy="342.80" r="1.5"/><circle cx="32.60" cy="345.35" r="1.5"/><circle cx="33.85" cy="340.62" r="1.5"/><circle cx="35.10" cy="342.73" r="1.5"/><circle cx="36.35" cy="345.83" r="1.5"/><circle cx="37.60" cy="344.46" r="1.5"/><circle cx="38.85" cy="341.08" r="1.5"/><circle cx="40.10" cy="340.44" r="1.5"/><circle cx="41.35" cy="343.99" r="1.5"/><circle cx="42.60" cy="342.42" r="1.5"/><circle cx="43.85" cy="341.39" r="1.5"/><circle cx="45.10" cy="342.67" r="1.5"/><circle cx="46.35" cy="340.97" r="1.5"/><circle cx="47.60" cy="338.73" r="1.5"/><circle cx="48.85" cy="342.56" r="1.5"/><circle cx="50.10" cy="340.13" r="1.5"/><circle cx="51.35" cy="339.33" r="1.5"/><circle cx="52.60" cy="338.54" r="1.5"/><circle cx="53.85" cy="340.58" r="1.5"/><circle cx="55.10" cy="338.81" r="1.5"/><circle cx="56.35" cy="340.70" r="1.5"/><circle cx="57.60" cy="339.06" r="1.5"/><circle cx="58.85" cy="340.66" r="1.5"/><circle cx="60.10" cy="337.94" r="1.5"/><circle cx="61.35" cy="336.84" r="1.5"/><circle cx="62.60" cy="333.99" r="1.5"/><circle cx="63.85" cy="334.15" r="1.5"/><circle cx="65.10" cy="335.44" r="1.5"/><circle cx="66.35" cy="337.14" r="1.5"/><circle cx="67.60" cy="328.53" r="1.5"/><circle cx="68.85" cy="326.21" r="1.5"/><circle cx="70.10" cy="325.11" r="1.5"/><circle cx="71.35" cy="321.60" r="1.5"/><circle cx="72.60" cy="315.56" r="1.5"/><circle cx="73.85" cy="311.76" r="1.5"/><circle cx="75.10" cy="303.70" r="1.5"/><circle cx="76.35" cy="299.51" r="1.5"/><circle cx="77.60" cy="294.63" r="1.5"/><circle cx="78.85" cy="288.59" r="1.5"/><circle cx="80.10" cy="278.42" r="1.5"/><circle cx="81.35" cy="270.60" r="1.5"/><circle cx="82.60" cy="263.95" r="1.5"/><circle cx="83.85" cy="257.37" r="1.5"/><circle cx="85.10" cy="249.25" r="1.5"/><circle cx="86.35" cy="240.79" r="1.5"/><circle cx="87.60" cy="236.62" r="1.5"/><circle cx="88.85" cy="232.70" r="1.5"/><circle cx="90.10" cy="226.51" r="1.5"/><circle cx="91.35" cy="223.20" r="1.5"/><circle cx="92.60" cy="224.95" r="1.5"/><circle cx="93.85" cy="225.14" r="1.5"/><circle cx="95.10" cy="227.81" r="1.5"/><circle cx="96.35" cy="229.58" r="1.5"/><circle cx="97.60" cy="232.72" r="1.5"/><circle cx="98.85" cy="238.27" r="1.5"/><circle cx="100.10" cy="243.42" r="1.5"/><circle cx="101.35" cy="250.16" r="1.5"/><circle cx="102.60" cy="257.75" r="1.5"/><circle cx="103.85" cy="265.05" r="1.5"/><circle cx="105.10" cy="274.61" r="1.5"/><circle cx="106.35" cy="278.13" r="1.5"/><circle cx="107.60" cy="286.58" r="1.5"/><circle cx="108.85" cy="292.04" r="1.5"/><circle cx="110.10" cy="300.90" r="1.5"/><circle cx="111.35" cy="304.27" r="1.5"/><circle cx="112.60" cy="307.95" r="1.5"/><circle cx="113.85" cy="313.76" r="1.5"/><circle cx="115.10" cy="316.12" r="1.5"/><circle cx="116.35" cy="318.26" r="1.5"/><circle cx="117.60" cy="323.72" r="1.5"/><circle cx="118.85" cy="324.52" r="1.5"/><circle cx="120.10" cy="327.68" r="1.5"/><circle cx="121.35" cy="328.13" r="1.5"/><circle cx="122.60" cy="328.60" r="1.5"/><circle cx="123.85" cy="328.45" r="1.5"/><circle cx="125.10" cy="327.25" r="1.5"/><circle cx="126.35" cy="330.39" r="1.5"/><circle cx="127.60" cy="329.79" r="1.5"/><circle cx="128.85" cy="330.94" r="1.5"/><circle cx="130.10" cy="330.11" r="1.5"/><circle cx="131.35" cy="329.22" r="1.5"/><circle cx="132.60" cy="328.84" r="1.5"/><circle cx="133.85" cy="331.44" r="1.5"/><circle cx="135.10" cy="332.36" r="1.5"/><circle cx="136.35" cy="330.02" r="1.5"/><circle cx="137.60" cy="331.13" r="1.5"/><circle cx="138.85" cy="332.51" r="1.5"/><circle cx="140.10" cy="329.18" r="1.5"/><circle cx="141.35" cy="329.90" r="1.5"/><circle cx="142.60" cy="328.71" r="1.5"/><circle cx="143.85" cy="332.10" r="1.5"/><circle cx="145.10" cy="330.68" r="1.5"/><circle cx="146.35" cy="329.55" r="1.5"/><circle cx="147.60" cy="327.71" r="1.5"/><circle cx="148.85" cy="329.84" r="1.5"/><circle cx="150.10" cy="331.51" r="1.5"/><circle cx="151.35" cy="329.49" r="1.5"/><circle cx="152.60" cy="329.18" r="1.5"/><circle cx="153.85" cy="330.63" r="1.5"/><circle cx="155.10" cy="327.68" r="1.5"/><circle cx="156.35" cy="329.41" r="1.5"/><circle cx="157.60" cy="330.01" r="1.5"/><circle cx="158.85" cy="327.70" r="1.5"/><circle cx="160.10" cy="327.33" r="1.5"/><circle cx="161.35" cy="328.59" r="1.5"/><circle cx="162.60" cy="327.67" r="1.5"/><circle cx="163.85" cy="327.00" r="1.5"/><circle cx="165.10" cy="327.12" r="1.5"/><circle cx="166.35" cy="326.53" r="1.5"/><circle cx="167.60" cy="324.12" r="1.5"/><circle cx="168.85" cy="323.72" r="1.5"/><circle cx="170.10" cy="324.49" r="1.5"/><circle cx="171.35" cy="324.51" r="1.5"/><circle cx="172.60" cy="323.76" r="1.5"/><circle cx="173.85" cy="319.28" r="1.5"/><circle cx="175.10" cy="320.87" r="1.5"/><circle cx="176.35" cy="318.95" r="1.5"/><circle cx="177.60" cy="316.27" r="1.5"/><circle cx="178.85" cy="315.43" r="1.5"/><circle cx="180.10" cy="314.25" r="1.5"/><circle cx="181.35" cy="313.92" r="1.5"/><circle cx="182.60" cy="307.89" r="1.5"/><circle cx="183.85" cy="308.52" r="1.5"/><circle cx="185.10" cy="305.58" r="1.5"/><circle cx="186.35" cy="303.66" r="1.5"/><circle cx="187.60" cy="303.91" r="1.5"/><circle cx="188.85" cy="301.75" r="1.5"/><circle cx="190.10" cy="297.47" r="1.5"/><circle cx="191.35" cy="297.17" r="1.5"/><circle cx="192.60" cy="296.74" r="1.5"/><circle cx="193.85" cy="293.34" r="1.5"/><circle cx="195.10" cy="296.03" r="1.5"/><circle cx="196.35" cy="294.22" r="1.5"/><circle cx="197.60" cy="294.45" r="1.5"/><circle cx="198.85" cy="294.89" r="1.5"/><circle cx="200.10" cy="297.53" r="1.5"/><circle cx="201.35" cy="295.61" r="1.5"/><circle cx="202.60" cy="295.97" r="1.5"/><circle cx="203.85" cy="300.23" r="1.5"/><circle cx="205.10" cy="298.21" r="1.5"/><circle cx="206.35" cy="299.62" r="1.5"/><circle cx="207.60" cy="299.86" r="1.5"/><circle cx="208.85" cy="305.12" r="1.5"/><circle cx="210.10" cy="305.54" r="1.5"/><circle cx="211.35" cy="307.46" r="1.5"/><circle cx="212.60" cy="308.61" r="1.5"/><circle cx="213.85" cy="309.73" r="1.5"/><circle cx="215.10" cy="310.27" r="1.5"/><circle cx="216.35" cy="311.72" r="1.5"/><circle cx="217.60" cy="314.88" r="1.5"/><circle cx="218.85" cy="315.69" r="1.5"/><circle cx="220.10" cy="319.11" r="1.5"/><circle cx="221.35" cy="316.64" r="1.5"/><circle cx="222.60" cy="318.03" r="1.5"/><circle cx="223.85" cy="318.13" r="1.5"/><circle cx="225.10" cy="322.49" r="1.5"/><circle cx="226.35" cy="319.33" r="1.5"/><circle cx="227.60" cy="322.94" r="1.5"/><circle cx="228.85" cy="324.48" r="1.5"/><circle cx="230.10" cy="322.63" r="1.5"/><circle cx="231.35" cy="324.33" r="1.5"/><circle cx="232.60" cy="320.46" r="1.5"/><circle cx="233.85" cy="323.36" r="1.5"/><circle cx="235.10" cy="321.74" r="1.5"/><circle cx="236.35" cy="324.69" r="1.5"/><circle cx="237.60" cy="324.64" r="1.5"/><circle cx="238.85" cy="323.65" r="1.5"/><circle cx="240.10" cy="326.34" r="1.5"/><circle cx="241.35" cy="325.59" r="1.5"/><circle cx="242.60" cy="324.39" r="1.5"/><circle cx="243.85" cy="324.49" r="1.5"/><circle cx="245.10" cy="323.15" r="1.5"/><circle cx="246.35" cy="325.12" r="1.5"/><circle cx="247.60" cy="328.60" r="1.5"/><circle cx="248.85" cy="324.46" r="1.5"/><circle cx="250.10" cy="326.18" r="1.5"/><circle cx="251.35" cy="324.78" r="1.5"/><circle cx="252.60" cy="326.82" r="1.5"/><circle cx="253.85" cy="326.32" r="1.5"/><circle cx="255.10" cy="325.35" r="1.5"/><circle cx="256.35" cy="323.08" r="1.5"/><circle cx="257.60" cy="324.98" r="1.5"/></g>
<path d="M54.40,341.29 L54.90,341.29 L55.40,341.29 L55.90,341.28 L56.40,341.28 L56.90,341.28 L57.40,341.27 L57.90,341.27 L58.40,341.26 L58.90,341.26 L59.40,341.25 L59.90,341.25 L60.40,341.24 L60.90,341.24 L61.40,341.23 L61.90,341.22 L62.40,341.22 L62.90,341.21 L63.40,341.20 L63.90,341.19 L64.40,341.18 L64.90,341.17 L65.40,341.16 L65.90,341.15 L66.40,341.14 L66.90,341.12 L67.40,341.11 L67.90,341.09 L68.40,341.07 L68.90,341.05 L69.40,341.03 L69.90,341.01 L70.40,340.98 L70.90,340.96 L71.40,340.93 L71.90,340.90 L72.40,340.86 L72.90,340.83 L73.40,340.79 L73.90,340.75 L74.40,340.70 L74.90,340.65 L75.40,340.60 L75.90,340.55 L76.40,340.49 L76.90,340.43 L77.40,340.36 L77.90,340.29 L78.40,340.22 L78.90,340.14 L79.40,340.06 L79.90,339.97 L80.40,339.88 L80.90,339.79 L81.40,339.69 L81.90,339.58 L82.40,339.48 L82.90,339.37 L83.40,339.25 L83.90,339.13 L84.40,339.00 L84.90,338.88 L85.40,338.74 L85.90,338.61 L86.40,338.47 L86.90,338.33 L87.40,338.18 L87.90,338.03 L88.40,337.88 L88.90,337.73 L89.40,337.57 L89.90,337.41 L90.40,337.25 L90.90,337.09 L91.40,336.93 L91.90,336.76 L92.40,336.60 L92.90,336.44 L93.40,336.28 L93.90,336.11 L94.40,335.95 L94.90,335.79 L95.40,335.63 L95.90,335.48 L96.40,335.32 L96.90,335.17 L97.40,335.02 L97.90,334.87 L98.40,334.73 L98.90,334.59 L99.40,334.45 L99.90,334.31 L100.40,334.18 L100.90,334.06 L101.40,333.94 L101.90,333.82 L102.40,333.70 L102.90,333.60 L103.40,333.49 L103.90,333.39 L104.40,333.29 L104.90,333.20 L105.40,333.11 L105.90,333.03 L106.40,332.95 L106.90,332.88 L107.40,332.80 L107.90,332.74 L108.40,332.67 L108.90,332.61 L109.40,332.56 L109.90,332.51 L110.40,332.46 L110.90,332.41 L111.40,332.37 L111.90,332.33 L112.40,332.29 L112.90,332.26 L113.40,332.22 L113.90,332.19 L114.40,332.17 L114.90,332.14 L115.40,332.12 L115.90,332.09 L116.40,332.07 L116.90,332.05 L117.40,332.04 L117.90,332.02 L118.40,332.01 L118.90,331.99 L119.40,331.98 L119.90,331.97 L120.40,331.96 L120.90,331.95 L121.40,331.94 L121.90,331.93 L122.40,331.92 L122.90,331.92 L123.40,331.91 L123.90,331.90 L124.40,331.90 L124.90,331.89 L125.40,331.89 L125.90,331.88 L126.40,331.88 L126.90,331.87 L127.40,331.87 L127.90,331.86 L128.40,331.86 L128.90,331.86 L129.40,331.85 L129.90,331.85 L130.40,331.84 L130.90,331.84 L131.40,331.84 L131.90,331.83 L132.40,331.83 L132.90,331.83 L133.40,331.82 L133.90,331.82 L134.40,331.82 L134.90,331.82 L135.40,331.81 L135.90,331.81 L136.40,331.81 L136.90,331.80 L137.40,331.80 L137.90,331.80 L138.40,331.79 L138.90,331.79 L139.40,331.79 L139.90,331.78 L140.40,331.78 L140.90,331.78 L141.40,331.78 L141.90,331.77 L142.40,331.77 L142.90,331.77 L143.40,331.76 L143.90,331.76 L144.40,331.76 L144.90,331.75 L145.40,331.75 L145.90,331.75 L146.40,331.74 L146.90,331.74 L147.40,331.74 L147.90,331.74 L148.40,331.73 L148.90,331.73 L149.40,331.73 L149.90,331.72 L150.40,331.72 L150.90,331.72 L151.40,331.71 L151.90,331.71 L152.40,331.70 L152.90,331.70 L153.40,331.70 L153.90,331.69 L154.40,331.69 L154.90,331.69 L155.40,331.68 L155.90,331.68 L156.40,331.67 L156.90,331.67 L157.40,331.67 L157.90,331.66 L158.40,331.66 L158.90,331.65 L159.40,331.65 L159.90,331.64 L160.40,331.64 L160.90,331.63 L161.40,331.62 L161.90,331.62 L162.40,331.61 L162.90,331.60 L163.40,331.60 L163.90,331.59 L164.40,331.58 L164.90,331.57 L165.40,331.57 L165.90,331.56 L166.40,331.55 L166.90,331.54 L167.40,331.53 L167.90,331.52 L168.40,331.50 L168.90,331.49 L169.40,331.48 L169.90,331.47 L170.40,331.45 L170.90,331.44 L171.40,331.42 L171.90,331.40 L172.40,331.39 L172.90,331.37 L173.40,331.35 L173.90,331.33 L174.40,331.31 L174.90,331.29 L175.40,331.26 L175.90,331.24 L176.40,331.21 L176.90,331.19 L177.40,331.16 L177.90,331.13 L178.40,331.10 L178.90,331.07 L179.40,331.04 L179.90,331.00 L180.40,330.97 L180.90,330.93 L181.40,330.89 L181.90,330.86 L182.40,330.82 L182.90,330.77 L183.40,330.73 L183.90,330.69 L184.40,330.64 L184.90,330.60 L185.40,330.55 L185.90,330.50 L186.40,330.45 L186.90,330.40 L187.40,330.34 L187.90,330.29 L188.40,330.23 L188.90,330.18 L189.40,330.12 L189.90,330.06 L190.40,330.00 L190.90,329.94 L191.40,329.88 L191.90,329.82 L192.40,329.76 L192.90,329.70 L193.40,329.63 L193.90,329.57 L194.40,329.51 L194.90,329.44 L195.40,329.38 L195.90,329.31 L196.40,329.25 L196.90,329.18 L197.40,329.11 L197.90,329.05 L198.40,328.98 L198.90,328.92 L199.40,328.86 L199.90,328.79 L200.40,328.73 L200.90,328.66 L201.40,328.60 L201.90,328.54 L202.40,328.48 L202.90,328.42 L203.40,328.36 L203.90,328.30 L204.40,328.24 L204.90,328.19 L205.40,328.13 L205.90,328.08 L206.40,328.02 L206.90,327.97 L207.40,327.92 L207.90,327.87 L208.40,327.82 L208.90,327.77 L209.40,327.73 L209.90,327.68 L210.40,327.64 L210.90,327.60 L211.40,327.55 L211.90,327.51 L212.40,327.48 L212.90,327.44 L213.40,327.40 L213.90,327.37 L214.40,327.34 L214.90,327.30 L215.40,327.27 L215.90,327.24 L216.40,327.22 L216.90,327.19 L217.40,327.16 L217.90,327.14 L218.40,327.11 L218.90,327.09 L219.40,327.07 L219.90,327.05 L220.40,327.03 L220.90,327.01 L221.40,326.99 L221.90,326.98 L222.40,326.96 L222.90,326.94 L223.40,326.93 L223.90,326.92 L224.40,326.90 L224.90,326.89 L225.40,326.88 L225.90,326.87 L226.40,326.86 L226.90,326.84 L227.40,326.84 L227.90,326.83 L228.40,326.82 L228.90,326.81 L229.40,326.80 L229.90,326.79 L230.40,326.79 L230.90,326.78" fill="none" stroke="#44aa44" stroke-width="1.1" stroke-linejoin="round" />
<path d="M54.40,340.20 L54.90,340.12 L55.40,340.04 L55.90,339.95 L56.40,339.84 L56.90,339.73 L57.40,339.60 L57.90,339.45 L58.40,339.29 L58.90,339.11 L59.40,338.92 L59.90,338.69 L60.40,338.45 L60.90,338.17 L61.40,337.87 L61.90,337.54 L62.40,337.17 L62.90,336.76 L63.40,336.31 L63.90,335.82 L64.40,335.28 L64.90,334.70 L65.40,334.05 L65.90,333.35 L66.40,332.59 L66.90,331.76 L67.40,330.86 L67.90,329.90 L68.40,328.85 L68.90,327.73 L69.40,326.52 L69.90,325.23 L70.40,323.85 L70.90,322.37 L71.40,320.81 L71.90,319.15 L72.40,317.39 L72.90,315.53 L73.40,313.57 L73.90,311.52 L74.40,309.36 L74.90,307.11 L75.40,304.76 L75.90,302.32 L76.40,299.78 L76.90,297.17 L77.40,294.47 L77.90,291.69 L78.40,288.85 L78.90,285.94 L79.40,282.97 L79.90,279.97 L80.40,276.92 L80.90,273.85 L81.40,270.76 L81.90,267.67 L82.40,264.58 L82.90,261.52 L83.40,258.49 L83.90,255.50 L84.40,252.58 L84.90,249.72 L85.40,246.96 L85.90,244.29 L86.40,241.74 L86.90,239.32 L87.40,237.04 L87.90,234.91 L88.40,232.95 L88.90,231.16 L89.40,229.57 L89.90,228.16 L90.40,226.96 L90.90,225.98 L91.40,225.21 L91.90,224.66 L92.40,224.34 L92.90,224.24 L93.40,224.37 L93.90,224.72 L94.40,225.29 L94.90,226.08 L95.40,227.08 L95.90,228.28 L96.40,229.68 L96.90,231.26 L97.40,233.02 L97.90,234.94 L98.40,237.01 L98.90,239.23 L99.40,241.57 L99.90,244.02 L100.40,246.57 L100.90,249.22 L101.40,251.93 L101.90,254.70 L102.40,257.52 L102.90,260.38 L103.40,263.25 L103.90,266.14 L104.40,269.02 L104.90,271.89 L105.40,274.73 L105.90,277.54 L106.40,280.31 L106.90,283.02 L107.40,285.68 L107.90,288.27 L108.40,290.79 L108.90,293.23 L109.40,295.59 L109.90,297.87 L110.40,300.06 L110.90,302.15 L111.40,304.15 L111.90,306.07 L112.40,307.88 L112.90,309.60 L113.40,311.23 L113.90,312.77 L114.40,314.22 L114.90,315.58 L115.40,316.85 L115.90,318.04 L116.40,319.15 L116.90,320.19 L117.40,321.14 L117.90,322.03 L118.40,322.85 L118.90,323.60 L119.40,324.29 L119.90,324.93 L120.40,325.51 L120.90,326.04 L121.40,326.53 L121.90,326.97 L122.40,327.37 L122.90,327.73 L123.40,328.05 L123.90,328.35 L124.40,328.61 L124.90,328.85 L125.40,329.06 L125.90,329.25 L126.40,329.42 L126.90,329.57 L127.40,329.70 L127.90,329.82 L128.40,329.92 L128.90,330.02 L129.40,330.10 L129.90,330.16 L130.40,330.23 L130.90,330.28 L131.40,330.32 L131.90,330.36 L132.40,330.40 L132.90,330.42 L133.40,330.45 L133.90,330.47 L134.40,330.48 L134.90,330.49 L135.40,330.50 L135.90,330.51 L136.40,330.52 L136.90,330.52 L137.40,330.52 L137.90,330.52 L138.40,330.51 L138.90,330.51 L139.40,330.50 L139.90,330.50 L140.40,330.49 L140.90,330.48 L141.40,330.47 L141.90,330.46 L142.40,330.45 L142.90,330.43 L143.40,330.42 L143.90,330.40 L144.40,330.38 L144.90,330.37 L145.40,330.35 L145.90,330.33 L146.40,330.30 L146.90,330.28 L147.40,330.25 L147.90,330.23 L148.40,330.20 L148.90,330.17 L149.40,330.14 L149.90,330.10 L150.40,330.06 L150.90,330.03 L151.40,329.98 L151.90,329.94 L152.40,329.89 L152.90,329.84 L153.40,329.79 L153.90,329.73 L154.40,329.67 L154.90,329.61 L155.40,329.54 L155.90,329.47 L156.40,329.39 L156.90,329.30 L157.40,329.21 L157.90,329.12 L158.40,329.02 L158.90,328.91 L159.40,328.80 L159.90,328.68 L160.40,328.55 L160.90,328.41 L161.40,328.26 L161.90,328.11 L162.40,327.94 L162.90,327.77 L163.40,327.58 L163.90,327.39 L164.40,327.18 L164.90,326.96 L165.40,326.73 L165.90,326.49 L166.40,326.23 L166.90,325.96 L167.40,325.68 L167.90,325.38 L168.40,325.06 L168.90,324.74 L169.40,324.39 L169.90,324.03 L170.40,323.66 L170.90,323.26 L171.40,322.85 L171.90,322.43 L172.40,321.98 L172.90,321.52 L173.40,321.04 L173.90,320.55 L174.40,320.04 L174.90,319.51 L175.40,318.96 L175.90,318.40 L176.40,317.82 L176.90,317.22 L177.40,316.61 L177.90,315.99 L178.40,315.35 L178.90,314.69 L179.40,314.03 L179.90,313.35 L180.40,312.66 L180.90,311.96 L181.40,311.25 L181.90,310.53 L182.40,309.80 L182.90,309.07 L183.40,308.34 L183.90,307.60 L184.40,306.87 L184.90,306.13 L185.40,305.40 L185.90,304.67 L186.40,303.95 L186.90,303.23 L187.40,302.53 L187.90,301.84 L188.40,301.17 L188.90,300.52 L189.40,299.88 L189.90,299.27 L190.40,298.68 L190.90,298.12 L191.40,297.59 L191.90,297.09 L192.40,296.62 L192.90,296.20 L193.40,295.81 L193.90,295.46 L194.40,295.15 L194.90,294.89 L195.40,294.67 L195.90,294.50 L196.40,294.37 L196.90,294.29 L197.40,294.26 L197.90,294.28 L198.40,294.34 L198.90,294.45 L199.40,294.60 L199.90,294.80 L200.40,295.04 L200.90,295.32 L201.40,295.64 L201.90,295.99 L202.40,296.39 L202.90,296.81 L203.40,297.26 L203.90,297.75 L204.40,298.26 L204.90,298.79 L205.40,299.34 L205.90,299.91 L206.40,300.50 L206.90,301.11 L207.40,301.72 L207.90,302.35 L208.40,302.98 L208.90,303.62 L209.40,304.27 L209.90,304.92 L210.40,305.57 L210.90,306.22 L211.40,306.87 L211.90,307.51 L212.40,308.15 L212.90,308.79 L213.40,309.41 L213.90,310.03 L214.40,310.64 L214.90,311.24 L215.40,311.83 L215.90,312.41 L216.40,312.98 L216.90,313.53 L217.40,314.07 L217.90,314.59 L218.40,315.10 L218.90,315.60 L219.40,316.08 L219.90,316.55 L220.40,317.00 L220.90,317.43 L221.40,317.85 L221.90,318.26 L222.40,318.65 L222.90,319.02 L223.40,319.38 L223.90,319.73 L224.40,320.06 L224.90,320.37 L225.40,320.67 L225.90,320.96 L226.40,321.23 L226.90,321.49 L227.40,321.74 L227.90,321.98 L228.40,322.20 L228.90,322.41 L229.40,322.61 L229.90,322.80 L230.40,322.98 L230.90,323.15" fill="none" stroke="#ff2020" stroke-width="1.4" stroke-linejoin="round" />
<g fill="none" stroke="#1a1a1a" stroke-width="0.8"><circle cx="298.00" cy="353.05" r="1.3"/><circle cx="298.75" cy="351.67" r="1.3"/><circle cx="299.50" cy="352.11" r="1.3"/><circle cx="300.25" cy="350.98" r="1.3"/><circle cx="301.00" cy="349.61" r="1.3"/><circle cx="301.75" cy="351.14" r="1.3"/><circle cx="302.50" cy="350.77" r="1.3"/><circle cx="303.25" cy="349.77" r="1.3"/><circle cx="304.00" cy="349.64" r="1.3"/><circle cx="304.75" cy="349.87" r="1.3"/><circle cx="305.50" cy="348.89" r="1.3"/><circle cx="306.25" cy="349.36" r="1.3"/><circle cx="307.00" cy="348.67" r="1.3"/><circle cx="307.75" cy="346.72" r="1.3"/><circle cx="308.50" cy="348.24" r="1.3"/><circle cx="309.25" cy="347.68" r="1.3"/><circle cx="310.00" cy="347.32" r="1.3"/><circle cx="310.75" cy="348.15" r="1.3"/><circle cx="311.50" cy="347.32" r="1.3"/><circle cx="312.25" cy="348.05" r="1.3"/><circle cx="313.00" cy="348.42" r="1.3"/><circle cx="313.75" cy="347.64" r="1.3"/><circle cx="314.50" cy="346.31" r="1.3"/><circle cx="315.25" cy="346.98" r="1.3"/><circle cx="316.00" cy="348.33" r="1.3"/><circle cx="316.75" cy="347.49" r="1.3"/><circle cx="317.50" cy="347.15" r="1.3"/><circle cx="318.25" cy="347.84" r="1.3"/><circle cx="319.00" cy="348.44" r="1.3"/><circle cx="319.75" cy="348.38" r="1.3"/><circle cx="320.50" cy="348.84" r="1.3"/><circle cx="321.25" cy="347.82" r="1.3"/><circle cx="322.00" cy="348.40" r="1.3"/><circle cx="322.75" cy="348.55" r="1.3"/><circle cx="323.50" cy="348.85" r="1.3"/><circle cx="324.25" cy="347.31" r="1.3"/><circle cx="325.00" cy="348.86" r="1.3"/><circle cx="325.75" cy="348.03" r="1.3"/><circle cx="326.50" cy="350.20" r="1.3"/><circle cx="327.25" cy="350.30" r="1.3"/><circle cx="328.00" cy="350.30" r="1.3"/><circle cx="328.75" cy="349.46" r="1.3"/><circle cx="329.50" cy="348.20" r="1.3"/><circle cx="330.25" cy="349.02" r="1.3"/><circle cx="331.00" cy="347.67" r="1.3"/><circle cx="331.75" cy="347.75" r="1.3"/><circle cx="332.50" cy="345.84" r="1.3"/><circle cx="333.25" cy="345.21" r="1.3"/><circle cx="334.00" cy="344.96" r="1.3"/><circle cx="334.75" cy="344.69" r="1.3"/><circle cx="335.50" cy="341.70" r="1.3"/><circle cx="336.25" cy="341.64" r="1.3"/><circle cx="337.00" cy="339.85" r="1.3"/><circle cx="337.75" cy="334.12" r="1.3"/><circle cx="338.50" cy="332.19" r="1.3"/><circle cx="339.25" cy="328.13" r="1.3"/><circle cx="340.00" cy="325.02" r="1.3"/><circle cx="340.75" cy="320.51" r="1.3"/><circle cx="341.50" cy="316.24" r="1.3"/><circle cx="342.25" cy="311.99" r="1.3"/><circle cx="343.00" cy="306.49" r="1.3"/><circle cx="343.75" cy="300.10" r="1.3"/><circle cx="344.50" cy="293.72" r="1.3"/><circle cx="345.25" cy="287.39" r="1.3"/><circle cx="346.00" cy="280.81" r="1.3"/><circle cx="346.75" cy="274.51" r="1.3"/><circle cx="347.50" cy="267.45" r="1.3"/><circle cx="348.25" cy="261.42" r="1.3"/><circle cx="349.00" cy="253.87" r="1.3"/><circle cx="349.75" cy="249.87" r="1.3"/><circle cx="350.50" cy="245.57" r="1.3"/><circle cx="351.25" cy="240.02" r="1.3"/><circle cx="352.00" cy="235.31" r="1.3"/><circle cx="352.75" cy="235.02" r="1.3"/><circle cx="353.50" cy="232.28" r="1.3"/><circle cx="354.25" cy="229.85" r="1.3"/><circle cx="355.00" cy="232.83" r="1.3"/><circle cx="355.75" cy="235.34" r="1.3"/><circle cx="356.50" cy="238.01" r="1.3"/><circle cx="357.25" cy="242.42" r="1.3"/><circle cx="358.00" cy="246.43" r="1.3"/><circle cx="358.75" cy="251.16" r="1.3"/><circle cx="359.50" cy="255.10" r="1.3"/><circle cx="360.25" cy="261.71" r="1.3"/><circle cx="361.00" cy="268.85" r="1.3"/><circle cx="361.75" cy="275.42" r="1.3"/><circle cx="362.50" cy="280.19" r="1.3"/><circle cx="363.25" cy="286.47" r="1.3"/><circle cx="364.00" cy="293.03" r="1.3"/><circle cx="364.75" cy="296.53" r="1.3"/><circle cx="365.50" cy="301.52" r="1.3"/><circle cx="366.25" cy="307.49" r="1.3"/><circle cx="367.00" cy="312.06" r="1.3"/><circle cx="367.75" cy="315.25" r="1.3"/><circle cx="368.50" cy="317.17" r="1.3"/><circle cx="369.25" cy="321.96" r="1.3"/><circle cx="370.00" cy="323.49" r="1.3"/><circle cx="370.75" cy="327.31" r="1.3"/><circle cx="371.50" cy="328.68" r="1.3"/><circle cx="372.25" cy="330.67" r="1.3"/><circle cx="373.00" cy="332.45" r="1.3"/><circle cx="373.75" cy="332.83" r="1.3"/><circle cx="374.50" cy="335.06" r="1.3"/><circle cx="375.25" cy="336.43" r="1.3"/><circle cx="376.00" cy="336.71" r="1.3"/><circle cx="376.75" cy="338.32" r="1.3"/><circle cx="377.50" cy="337.60" r="1.3"/><circle cx="378.25" cy="339.61" r="1.3"/><circle cx="379.00" cy="339.86" r="1.3"/><circle cx="379.75" cy="339.60" r="1.3"/><circle cx="380.50" cy="341.04" r="1.3"/><circle cx="381.25" cy="341.37" r="1.3"/><circle cx="382.00" cy="342.02" r="1.3"/><circle cx="382.75" cy="343.17" r="1.3"/><circle cx="383.50" cy="344.55" r="1.3"/><circle cx="384.25" cy="344.04" r="1.3"/><circle cx="385.00" cy="344.94" r="1.3"/><circle cx="385.75" cy="344.18" r="1.3"/><circle cx="386.50" cy="345.89" r="1.3"/><circle cx="387.25" cy="347.14" r="1.3"/><circle cx="388.00" cy="347.25" r="1.3"/><circle cx="388.75" cy="347.33" r="1.3"/><circle cx="389.50" cy="346.83" r="1.3"/><circle cx="390.25" cy="346.74" r="1.3"/><circle cx="391.00" cy="347.66" r="1.3"/><circle cx="391.75" cy="346.86" r="1.3"/><circle cx="392.50" cy="347.10" r="1.3"/><circle cx="393.25" cy="348.96" r="1.3"/><circle cx="394.00" cy="347.59" r="1.3"/><circle cx="394.75" cy="349.82" r="1.3"/><circle cx="395.50" cy="347.33" r="1.3"/><circle cx="396.25" cy="348.85" r="1.3"/><circle cx="397.00" cy="347.62" r="1.3"/><circle cx="397.75" cy="348.70" r="1.3"/><circle cx="398.50" cy="347.75" r="1.3"/><circle cx="399.25" cy="348.61" r="1.3"/><circle cx="400.00" cy="348.45" r="1.3"/><circle cx="400.75" cy="348.21" r="1.3"/><circle cx="401.50" cy="348.95" r="1.3"/><circle cx="402.25" cy="349.73" r="1.3"/><circle cx="403.00" cy="348.04" r="1.3"/><circle cx="403.75" cy="349.18" r="1.3"/><circle cx="404.50" cy="348.52" r="1.3"/><circle cx="405.25" cy="348.40" r="1.3"/><circle cx="406.00" cy="350.12" r="1.3"/><circle cx="406.75" cy="346.63" r="1.3"/><circle cx="407.50" cy="347.78" r="1.3"/><circle cx="408.25" cy="346.84" r="1.3"/><circle cx="409.00" cy="347.99" r="1.3"/><circle cx="409.75" cy="348.01" r="1.3"/><circle cx="410.50" cy="351.17" r="1.3"/><circle cx="411.25" cy="348.38" r="1.3"/><circle cx="412.00" cy="349.48" r="1.3"/><circle cx="412.75" cy="349.04" r="1.3"/><circle cx="413.50" cy="347.61" r="1.3"/><circle cx="414.25" cy="348.29" r="1.3"/><circle cx="415.00" cy="349.18" r="1.3"/><circle cx="415.75" cy="347.94" r="1.3"/><circle cx="416.50" cy="347.91" r="1.3"/><circle cx="417.25" cy="348.09" r="1.3"/><circle cx="418.00" cy="346.44" r="1.3"/><circle cx="418.75" cy="346.92" r="1.3"/><circle cx="419.50" cy="347.77" r="1.3"/><circle cx="420.25" cy="347.86" r="1.3"/><circle cx="421.00" cy="346.63" r="1.3"/><circle cx="421.75" cy="347.03" r="1.3"/><circle cx="422.50" cy="347.11" r="1.3"/><circle cx="423.25" cy="347.01" r="1.3"/><circle cx="424.00" cy="347.60" r="1.3"/><circle cx="424.75" cy="347.04" r="1.3"/><circle cx="425.50" cy="347.00" r="1.3"/><circle cx="426.25" cy="345.64" r="1.3"/><circle cx="427.00" cy="345.82" r="1.3"/><circle cx="427.75" cy="346.80" r="1.3"/><circle cx="428.50" cy="345.15" r="1.3"/><circle cx="429.25" cy="346.49" r="1.3"/><circle cx="430.00" cy="345.59" r="1.3"/><circle cx="430.75" cy="345.28" r="1.3"/><circle cx="431.50" cy="346.23" r="1.3"/><circle cx="432.25" cy="344.93" r="1.3"/><circle cx="433.00" cy="344.49" r="1.3"/><circle cx="433.75" cy="344.29" r="1.3"/><circle cx="434.50" cy="344.47" r="1.3"/><circle cx="435.25" cy="346.13" r="1.3"/><circle cx="436.00" cy="341.72" r="1.3"/><circle cx="436.75" cy="342.76" r="1.3"/><circle cx="437.50" cy="341.87" r="1.3"/><circle cx="438.25" cy="342.01" r="1.3"/><circle cx="439.00" cy="340.07" r="1.3"/><circle cx="439.75" cy="337.43" r="1.3"/><circle cx="440.50" cy="339.37" r="1.3"/><circle cx="441.25" cy="336.30" r="1.3"/><circle cx="442.00" cy="335.88" r="1.3"/><circle cx="442.75" cy="333.51" r="1.3"/><circle cx="443.50" cy="332.30" r="1.3"/><circle cx="444.25" cy="331.25" r="1.3"/><circle cx="445.00" cy="330.68" r="1.3"/><circle cx="445.75" cy="328.90" r="1.3"/><circle cx="446.50" cy="325.83" r="1.3"/><circle cx="447.25" cy="324.61" r="1.3"/><circle cx="448.00" cy="321.63" r="1.3"/><circle cx="448.75" cy="319.53" r="1.3"/><circle cx="449.50" cy="316.87" r="1.3"/><circle cx="450.25" cy="314.33" r="1.3"/><circle cx="451.00" cy="310.24" r="1.3"/><circle cx="451.75" cy="307.31" r="1.3"/><circle cx="452.50" cy="304.11" r="1.3"/><circle cx="453.25" cy="300.40" r="1.3"/><circle cx="454.00" cy="295.99" r="1.3"/><circle cx="454.75" cy="294.25" r="1.3"/><circle cx="455.50" cy="288.80" r="1.3"/><circle cx="456.25" cy="286.14" r="1.3"/><circle cx="457.00" cy="282.24" r="1.3"/><circle cx="457.75" cy="279.84" r="1.3"/><circle cx="458.50" cy="274.25" r="1.3"/><circle cx="459.25" cy="275.15" r="1.3"/><circle cx="460.00" cy="271.37" r="1.3"/><circle cx="460.75" cy="269.12" r="1.3"/><circle cx="461.50" cy="269.36" r="1.3"/><circle cx="462.25" cy="270.83" r="1.3"/><circle cx="463.00" cy="269.84" r="1.3"/><circle cx="463.75" cy="269.45" r="1.3"/><circle cx="464.50" cy="271.61" r="1.3"/><circle cx="465.25" cy="275.08" r="1.3"/><circle cx="466.00" cy="275.35" r="1.3"/><circle cx="466.75" cy="279.12" r="1.3"/><circle cx="467.50" cy="282.08" r="1.3"/><circle cx="468.25" cy="287.28" r="1.3"/><circle cx="469.00" cy="288.68" r="1.3"/><circle cx="469.75" cy="293.37" r="1.3"/><circle cx="470.50" cy="295.19" r="1.3"/><circle cx="471.25" cy="298.45" r="1.3"/><circle cx="472.00" cy="303.15" r="1.3"/><circle cx="472.75" cy="305.99" r="1.3"/><circle cx="473.50" cy="307.12" r="1.3"/><circle cx="474.25" cy="311.83" r="1.3"/><circle cx="475.00" cy="314.49" r="1.3"/><circle cx="475.75" cy="315.96" r="1.3"/><circle cx="476.50" cy="318.92" r="1.3"/><circle cx="477.25" cy="321.07" r="1.3"/><circle cx="478.00" cy="322.42" r="1.3"/><circle cx="478.75" cy="324.13" r="1.3"/><circle cx="479.50" cy="325.69" r="1.3"/><circle cx="480.25" cy="327.51" r="1.3"/><circle cx="481.00" cy="328.05" r="1.3"/><circle cx="481.75" cy="330.33" r="1.3"/><circle cx="482.50" cy="330.35" r="1.3"/><circle cx="483.25" cy="332.67" r="1.3"/><circle cx="484.00" cy="333.54" r="1.3"/><circle cx="484.75" cy="333.70" r="1.3"/><circle cx="485.50" cy="336.06" r="1.3"/><circle cx="486.25" cy="337.72" r="1.3"/><circle cx="487.00" cy="337.98" r="1.3"/><circle cx="487.75" cy="336.54" r="1.3"/><circle cx="488.50" cy="339.28" r="1.3"/><circle cx="489.25" cy="339.04" r="1.3"/><circle cx="490.00" cy="339.39" r="1.3"/><circle cx="490.75" cy="339.48" r="1.3"/><circle cx="491.50" cy="340.42" r="1.3"/><circle cx="492.25" cy="341.97" r="1.3"/><circle cx="493.00" cy="341.71" r="1.3"/><circle cx="493.75" cy="341.31" r="1.3"/><circle cx="494.50" cy="341.45" r="1.3"/><circle cx="495.25" cy="341.95" r="1.3"/><circle cx="496.00" cy="343.02" r="1.3"/><circle cx="496.75" cy="344.28" r="1.3"/><circle cx="497.50" cy="342.17" r="1.3"/><circle cx="498.25" cy="343.20" r="1.3"/><circle cx="499.00" cy="343.06" r="1.3"/><circle cx="499.75" cy="342.91" r="1.3"/><circle cx="500.50" cy="343.95" r="1.3"/><circle cx="501.25" cy="344.18" r="1.3"/><circle cx="502.00" cy="342.71" r="1.3"/><circle cx="502.75" cy="343.09" r="1.3"/><circle cx="503.50" cy="344.93" r="1.3"/><circle cx="504.25" cy="344.29" r="1.3"/><circle cx="505.00" cy="344.50" r="1.3"/><circle cx="505.75" cy="343.72" r="1.3"/><circle cx="506.50" cy="343.85" r="1.3"/><circle cx="507.25" cy="344.54" r="1.3"/><circle cx="508.00" cy="343.80" r="1.3"/><circle cx="508.75" cy="343.33" r="1.3"/><circle cx="509.50" cy="344.23" r="1.3"/><circle cx="510.25" cy="344.95" r="1.3"/><circle cx="511.00" cy="343.43" r="1.3"/><circle cx="511.75" cy="345.08" r="1.3"/><circle cx="512.50" cy="344.80" r="1.3"/><circle cx="513.25" cy="343.56" r="1.3"/><circle cx="514.00" cy="344.25" r="1.3"/><circle cx="514.75" cy="344.21" r="1.3"/><circle cx="515.50" cy="344.74" r="1.3"/><circle cx="516.25" cy="344.76" r="1.3"/><circle cx="517.00" cy="343.19" r="1.3"/><circle cx="517.75" cy="343.15" r="1.3"/><circle cx="518.50" cy="345.02" r="1.3"/><circle cx="519.25" cy="344.29" r="1.3"/><circle cx="520.00" cy="344.52" r="1.3"/><circle cx="520.75" cy="344.44" r="1.3"/><circle cx="521.50" cy="345.37" r="1.3"/><circle cx="522.25" cy="343.19" r="1.3"/><circle cx="523.00" cy="345.00" r="1.3"/><circle cx="523.75" cy="343.47" r="1.3"/><circle cx="524.50" cy="344.68" r="1.3"/><circle cx="525.25" cy="345.15" r="1.3"/><circle cx="526.00" cy="342.98" r="1.3"/><circle cx="526.75" cy="344.38" r="1.3"/><circle cx="527.50" cy="343.82" r="1.3"/><circle cx="528.25" cy="343.79" r="1.3"/><circle cx="529.00" cy="344.04" r="1.3"/></g>
<path d="M297.50,354.18 L298.00,354.16 L298.50,354.14 L299.00,354.12 L299.50,354.10 L300.00,354.08 L300.50,354.06 L301.00,354.04 L301.50,354.01 L302.00,353.99 L302.50,353.97 L303.00,353.95 L303.50,353.93 L304.00,353.91 L304.50,353.89 L305.00,353.87 L305.50,353.85 L306.00,353.83 L306.50,353.81 L307.00,353.79 L307.50,353.77 L308.00,353.75 L308.50,353.73 L309.00,353.71 L309.50,353.68 L310.00,353.66 L310.50,353.64 L311.00,353.62 L311.50,353.60 L312.00,353.58 L312.50,353.56 L313.00,353.54 L313.50,353.52 L314.00,353.50 L314.50,353.48 L315.00,353.46 L315.50,353.44 L316.00,353.42 L316.50,353.40 L317.00,353.38 L317.50,353.36 L318.00,353.33 L318.50,353.31 L319.00,353.29 L319.50,353.27 L320.00,353.25 L320.50,353.23 L321.00,353.21 L321.50,353.19 L322.00,353.17 L322.50,353.15 L323.00,353.13 L323.50,353.11 L324.00,353.09 L324.50,353.07 L325.00,353.05 L325.50,353.03 L326.00,353.01 L326.50,352.98 L327.00,352.96 L327.50,352.94 L328.00,352.92 L328.50,352.90 L329.00,352.88 L329.50,352.86 L330.00,352.84 L330.50,352.82 L331.00,352.80 L331.50,352.78 L332.00,352.76 L332.50,352.74 L333.00,352.72 L333.50,352.70 L334.00,352.68 L334.50,352.65 L335.00,352.63 L335.50,352.61 L336.00,352.59 L336.50,352.57 L337.00,352.55 L337.50,352.53 L338.00,352.51 L338.50,352.49 L339.00,352.47 L339.50,352.45 L340.00,352.43 L340.50,352.41 L341.00,352.39 L341.50,352.37 L342.00,352.35 L342.50,352.33 L343.00,352.30 L343.50,352.28 L344.00,352.26 L344.50,352.24 L345.00,352.22 L345.50,352.20 L346.00,352.18 L346.50,352.16 L347.00,352.14 L347.50,352.12 L348.00,352.10 L348.50,352.08 L349.00,352.06 L349.50,352.04 L350.00,352.02 L350.50,352.00 L351.00,351.98 L351.50,351.95 L352.00,351.93 L352.50,351.91 L353.00,351.89 L353.50,351.87 L354.00,351.85 L354.50,351.83 L355.00,351.81 L355.50,351.79 L356.00,351.77 L356.50,351.75 L357.00,351.73 L357.50,351.71 L358.00,351.69 L358.50,351.67 L359.00,351.65 L359.50,351.62 L360.00,351.60 L360.50,351.58 L361.00,351.56 L361.50,351.54 L362.00,351.52 L362.50,351.50 L363.00,351.48 L363.50,351.46 L364.00,351.44 L364.50,351.42 L365.00,351.40 L365.50,351.38 L366.00,351.36 L366.50,351.34 L367.00,351.32 L367.50,351.30 L368.00,351.27 L368.50,351.25 L369.00,351.23 L369.50,351.21 L370.00,351.19 L370.50,351.17 L371.00,351.15 L371.50,351.13 L372.00,351.11 L372.50,351.09 L373.00,351.07 L373.50,351.05 L374.00,351.03 L374.50,351.01 L375.00,350.99 L375.50,350.97 L376.00,350.95 L376.50,350.92 L377.00,350.90 L377.50,350.88 L378.00,350.86 L378.50,350.84 L379.00,350.82 L379.50,350.80 L380.00,350.78 L380.50,350.76 L381.00,350.74 L381.50,350.72 L382.00,350.70 L382.50,350.68 L383.00,350.66 L383.50,350.64 L384.00,350.62 L384.50,350.59 L385.00,350.57 L385.50,350.55 L386.00,350.53 L386.50,350.51 L387.00,350.49 L387.50,350.47 L388.00,350.45 L388.50,350.43 L389.00,350.41 L389.50,350.39 L390.00,350.37 L390.50,350.35 L391.00,350.33 L391.50,350.31 L392.00,350.29 L392.50,350.27 L393.00,350.24 L393.50,350.22 L394.00,350.20 L394.50,350.18 L395.00,350.16 L395.50,350.14 L396.00,350.12 L396.50,350.10 L397.00,350.08 L397.50,350.06 L398.00,350.04 L398.50,350.02 L399.00,350.00 L399.50,349.98 L400.00,349.96 L400.50,349.94 L401.00,349.92 L401.50,349.89 L402.00,349.87 L402.50,349.85 L403.00,349.83 L403.50,349.81 L404.00,349.79 L404.50,349.77 L405.00,349.75 L405.50,349.73 L406.00,349.71 L406.50,349.69 L407.00,349.67 L407.50,349.65 L408.00,349.63 L408.50,349.61 L409.00,349.59 L409.50,349.56 L410.00,349.54 L410.50,349.52 L411.00,349.50 L411.50,349.48 L412.00,349.46 L412.50,349.44 L413.00,349.42 L413.50,349.40 L414.00,349.38 L414.50,349.36 L415.00,349.34 L415.50,349.32 L416.00,349.30 L416.50,349.28 L417.00,349.26 L417.50,349.24 L418.00,349.21 L418.50,349.19 L419.00,349.17 L419.50,349.15 L420.00,349.13 L420.50,349.11 L421.00,349.09 L421.50,349.07 L422.00,349.05 L422.50,349.03 L423.00,349.01 L423.50,348.99 L424.00,348.97 L424.50,348.95 L425.00,348.93 L425.50,348.91 L426.00,348.88 L426.50,348.86 L427.00,348.84 L427.50,348.82 L428.00,348.80 L428.50,348.78 L429.00,348.76 L429.50,348.74 L430.00,348.72 L430.50,348.70 L431.00,348.68 L431.50,348.66 L432.00,348.64 L432.50,348.62 L433.00,348.60 L433.50,348.58 L434.00,348.56 L434.50,348.53 L435.00,348.51 L435.50,348.49 L436.00,348.47 L436.50,348.45 L437.00,348.43 L437.50,348.41 L438.00,348.39 L438.50,348.37 L439.00,348.35 L439.50,348.33 L440.00,348.31 L440.50,348.29 L441.00,348.27 L441.50,348.25 L442.00,348.23 L442.50,348.21 L443.00,348.18 L443.50,348.16 L444.00,348.14 L444.50,348.12 L445.00,348.10 L445.50,348.08 L446.00,348.06 L446.50,348.04 L447.00,348.02 L447.50,348.00 L448.00,347.98 L448.50,347.96 L449.00,347.94 L449.50,347.92 L450.00,347.90 L450.50,347.88 L451.00,347.85 L451.50,347.83 L452.00,347.81 L452.50,347.79 L453.00,347.77 L453.50,347.75 L454.00,347.73 L454.50,347.71 L455.00,347.69 L455.50,347.67 L456.00,347.65 L456.50,347.63 L457.00,347.61 L457.50,347.59 L458.00,347.57 L458.50,347.55 L459.00,347.53 L459.50,347.50 L460.00,347.48 L460.50,347.46 L461.00,347.44 L461.50,347.42 L462.00,347.40 L462.50,347.38 L463.00,347.36 L463.50,347.34 L464.00,347.32 L464.50,347.30 L465.00,347.28 L465.50,347.26 L466.00,347.24 L466.50,347.22 L467.00,347.20 L467.50,347.18 L468.00,347.15 L468.50,347.13 L469.00,347.11 L469.50,347.09 L470.00,347.07 L470.50,347.05 L471.00,347.03 L471.50,347.01 L472.00,346.99 L472.50,346.97 L473.00,346.95 L473.50,346.93 L474.00,346.91 L474.50,346.89 L475.00,346.87 L475.50,346.85 L476.00,346.82 L476.50,346.80 L477.00,346.78 L477.50,346.76 L478.00,346.74 L478.50,346.72 L479.00,346.70 L479.50,346.68 L480.00,346.66 L480.50,346.64 L481.00,346.62 L481.50,346.60 L482.00,346.58 L482.50,346.56 L483.00,346.54 L483.50,346.52 L484.00,346.50 L484.50,346.47 L485.00,346.45 L485.50,346.43 L486.00,346.41 L486.50,346.39 L487.00,346.37 L487.50,346.35 L488.00,346.33 L488.50,346.31 L489.00,346.29 L489.50,346.27 L490.00,346.25 L490.50,346.23 L491.00,346.21 L491.50,346.19 L492.00,346.17 L492.50,346.15 L493.00,346.12 L493.50,346.10 L494.00,346.08 L494.50,346.06 L495.00,346.04 L495.50,346.02 L496.00,346.00 L496.50,345.98 L497.00,345.96 L497.50,345.94 L498.00,345.92 L498.50,345.90 L499.00,345.88 L499.50,345.86 L500.00,345.84 L500.50,345.82 L501.00,345.79 L501.50,345.77 L502.00,345.75 L502.50,345.73 L503.00,345.71 L503.50,345.69 L504.00,345.67 L504.50,345.65 L505.00,345.63 L505.50,345.61 L506.00,345.59 L506.50,345.57 L507.00,345.55 L507.50,345.53 L508.00,345.51 L508.50,345.49 L509.00,345.47 L509.50,345.44 L510.00,345.42 L510.50,345.40 L511.00,345.38 L511.50,345.36 L512.00,345.34 L512.50,345.32 L513.00,345.30 L513.50,345.28 L514.00,345.26 L514.50,345.24 L515.00,345.22 L515.50,345.20 L516.00,345.18 L516.50,345.16 L517.00,345.14 L517.50,345.12 L518.00,345.09 L518.50,345.07 L519.00,345.05 L519.50,345.03 L520.00,345.01 L520.50,344.99 L521.00,344.97 L521.50,344.95 L522.00,344.93 L522.50,344.91 L523.00,344.89 L523.50,344.87 L524.00,344.85 L524.50,344.83 L525.00,344.81 L525.50,344.79 L526.00,344.76 L526.50,344.74 L527.00,344.72 L527.50,344.70 L528.00,344.68 L528.50,344.66 L529.00,344.64 L529.50,344.62" fill="none" stroke="#60b060" stroke-width="1.0" stroke-linejoin="round" />
<path d="M335.50,342.24 L336.00,341.03 L336.50,339.69 L337.00,338.21 L337.50,336.58 L338.00,334.80 L338.50,332.86 L339.00,330.75 L339.50,328.46 L340.00,326.00 L340.50,323.36 L341.00,320.54 L341.50,317.54 L342.00,314.37 L342.50,311.03 L343.00,307.54 L343.50,303.90 L344.00,300.13 L344.50,296.24 L345.00,292.26 L345.50,288.21 L346.00,284.12 L346.50,280.01 L347.00,275.91 L347.50,271.86 L348.00,267.89 L348.50,264.03 L349.00,260.33 L349.50,256.83 L350.00,253.55 L350.50,250.55 L351.00,247.86 L351.50,245.50 L352.00,243.53 L352.50,241.95 L353.00,240.81 L353.50,240.10 L354.00,239.85 L354.50,240.06 L355.00,240.72 L355.50,241.83 L356.00,243.36 L356.50,245.30 L357.00,247.61 L357.50,250.26 L358.00,253.22 L358.50,256.46 L359.00,259.92 L359.50,263.58 L360.00,267.39 L360.50,271.32 L361.00,275.33 L361.50,279.39 L362.00,283.46 L362.50,287.51 L363.00,291.52 L363.50,295.46 L364.00,299.30 L364.50,303.03 L365.00,306.63 L365.50,310.09 L366.00,313.38 L366.50,316.51 L367.00,319.47 L367.50,322.25 L368.00,324.85 L368.50,327.27 L369.00,329.51 L369.50,331.58 L370.00,333.49 L370.50,335.22 L371.00,336.81 L371.50,338.25 L372.00,339.54 L372.50,340.71 L373.00,341.76 L373.50,342.69 L374.00,343.52 L374.50,344.26 L375.00,344.91 L375.50,345.49 L376.00,345.99 L376.50,346.43 L377.00,346.82 L377.50,347.15 L378.00,347.45 L378.50,347.70 L379.00,347.92 L379.50,348.11 L380.00,348.27 L380.50,348.41 L381.00,348.54 L381.50,348.64 L382.00,348.73 L382.50,348.81 L383.00,348.88 L383.50,348.94 L384.00,348.99 L384.50,349.03" fill="none" stroke="#22dd22" stroke-width="1.0" stroke-linejoin="round" />
<path d="M335.50,352.51 L336.00,352.46 L336.50,352.41 L337.00,352.35 L337.50,352.29 L338.00,352.21 L338.50,352.13 L339.00,352.03 L339.50,351.92 L340.00,351.80 L340.50,351.67 L341.00,351.51 L341.50,351.35 L342.00,351.16 L342.50,350.95 L343.00,350.73 L343.50,350.48 L344.00,350.22 L344.50,349.94 L345.00,349.64 L345.50,349.33 L346.00,349.00 L346.50,348.66 L347.00,348.31 L347.50,347.96 L348.00,347.61 L348.50,347.26 L349.00,346.91 L349.50,346.58 L350.00,346.27 L350.50,345.98 L351.00,345.71 L351.50,345.47 L352.00,345.27 L352.50,345.10 L353.00,344.98 L353.50,344.89 L354.00,344.85 L354.50,344.85 L355.00,344.90 L355.50,344.98 L356.00,345.11 L356.50,345.27 L357.00,345.46 L357.50,345.69 L358.00,345.94 L358.50,346.21 L359.00,346.50 L359.50,346.80 L360.00,347.11 L360.50,347.42 L361.00,347.74 L361.50,348.04 L362.00,348.34 L362.50,348.63 L363.00,348.90 L363.50,349.16 L364.00,349.40 L364.50,349.62 L365.00,349.82 L365.50,350.01 L366.00,350.17 L366.50,350.32 L367.00,350.44 L367.50,350.55 L368.00,350.65 L368.50,350.73 L369.00,350.80 L369.50,350.85 L370.00,350.89 L370.50,350.93 L371.00,350.95 L371.50,350.97 L372.00,350.98 L372.50,350.99 L373.00,350.99 L373.50,350.98 L374.00,350.98 L374.50,350.97" fill="none" stroke="#ff44cc" stroke-width="0.9" stroke-linejoin="round" />
<path d="M350.50,351.86 L351.00,351.82 L351.50,351.77 L352.00,351.71 L352.50,351.65 L353.00,351.58 L353.50,351.51 L354.00,351.42 L354.50,351.33 L355.00,351.23 L355.50,351.12 L356.00,351.00 L356.50,350.87 L357.00,350.72 L357.50,350.56 L358.00,350.39 L358.50,350.20 L359.00,350.00 L359.50,349.78 L360.00,349.54 L360.50,349.29 L361.00,349.02 L361.50,348.74 L362.00,348.44 L362.50,348.12 L363.00,347.79 L363.50,347.45 L364.00,347.10 L364.50,346.74 L365.00,346.37 L365.50,345.99 L366.00,345.62 L366.50,345.24 L367.00,344.87 L367.50,344.50 L368.00,344.14 L368.50,343.79 L369.00,343.45 L369.50,343.14 L370.00,342.84 L370.50,342.57 L371.00,342.33 L371.50,342.11 L372.00,341.93 L372.50,341.77 L373.00,341.66 L373.50,341.57 L374.00,341.53 L374.50,341.52 L375.00,341.55 L375.50,341.61 L376.00,341.70 L376.50,341.84 L377.00,342.00 L377.50,342.19 L378.00,342.41 L378.50,342.65 L379.00,342.92 L379.50,343.21 L380.00,343.51 L380.50,343.82 L381.00,344.15 L381.50,344.48 L382.00,344.82 L382.50,345.15 L383.00,345.49 L383.50,345.82 L384.00,346.14 L384.50,346.46 L385.00,346.76 L385.50,347.05 L386.00,347.33 L386.50,347.60 L387.00,347.85 L387.50,348.08 L388.00,348.30 L388.50,348.50 L389.00,348.68 L389.50,348.85 L390.00,349.01 L390.50,349.14 L391.00,349.27 L391.50,349.38 L392.00,349.47 L392.50,349.56 L393.00,349.63 L393.50,349.70 L394.00,349.75 L394.50,349.79 L395.00,349.83 L395.50,349.86 L396.00,349.88 L396.50,349.90 L397.00,349.91 L397.50,349.92 L398.00,349.92 L398.50,349.92 L399.00,349.92 L399.50,349.91" fill="none" stroke="#a0522d" stroke-width="0.9" stroke-linejoin="round" />
<path d="M430.50,346.29 L431.00,346.15 L431.50,346.01 L432.00,345.84 L432.50,345.66 L433.00,345.46 L433.50,345.23 L434.00,344.98 L434.50,344.70 L435.00,344.39 L435.50,344.05 L436.00,343.68 L436.50,343.27 L437.00,342.82 L437.50,342.33 L438.00,341.81 L438.50,341.24 L439.00,340.64 L439.50,339.99 L440.00,339.31 L440.50,338.59 L441.00,337.82 L441.50,337.03 L442.00,336.19 L442.50,335.31 L443.00,334.39 L443.50,333.44 L444.00,332.43 L444.50,331.38 L445.00,330.27 L445.50,329.10 L446.00,327.87 L446.50,326.57 L447.00,325.20 L447.50,323.74 L448.00,322.20 L448.50,320.58 L449.00,318.85 L449.50,317.04 L450.00,315.13 L450.50,313.13 L451.00,311.04 L451.50,308.86 L452.00,306.61 L452.50,304.29 L453.00,301.90 L453.50,299.48 L454.00,297.02 L454.50,294.55 L455.00,292.08 L455.50,289.64 L456.00,287.24 L456.50,284.91 L457.00,282.67 L457.50,280.54 L458.00,278.55 L458.50,276.73 L459.00,275.10 L459.50,273.68 L460.00,272.49 L460.50,271.56 L461.00,270.89 L461.50,270.50 L462.00,270.40 L462.50,270.58 L463.00,271.05 L463.50,271.79 L464.00,272.79 L464.50,274.05 L465.00,275.52 L465.50,277.21 L466.00,279.08 L466.50,281.11 L467.00,283.28 L467.50,285.56 L468.00,287.93 L468.50,290.37 L469.00,292.85 L469.50,295.37 L470.00,297.89 L470.50,300.41 L471.00,302.90 L471.50,305.36 L472.00,307.77 L472.50,310.12 L473.00,312.41 L473.50,314.62 L474.00,316.74 L474.50,318.78 L475.00,320.72 L475.50,322.57 L476.00,324.32 L476.50,325.97 L477.00,327.52 L477.50,328.98 L478.00,330.33 L478.50,331.59 L479.00,332.77 L479.50,333.85 L480.00,334.84 L480.50,335.76 L481.00,336.60 L481.50,337.36 L482.00,338.06 L482.50,338.69 L483.00,339.27 L483.50,339.79 L484.00,340.26 L484.50,340.68 L485.00,341.06 L485.50,341.40 L486.00,341.71 L486.50,341.98 L487.00,342.23 L487.50,342.45 L488.00,342.64 L488.50,342.82 L489.00,342.97 L489.50,343.11 L490.00,343.24 L490.50,343.35 L491.00,343.46 L491.50,343.55 L492.00,343.63 L492.50,343.70 L493.00,343.77 L493.50,343.83 L494.00,343.89 L494.50,343.94" fill="none" stroke="#2222dd" stroke-width="0.9" stroke-linejoin="round" />
<path d="M455.50,347.36 L456.00,347.31 L456.50,347.25 L457.00,347.18 L457.50,347.12 L458.00,347.04 L458.50,346.96 L459.00,346.88 L459.50,346.78 L460.00,346.68 L460.50,346.57 L461.00,346.46 L461.50,346.33 L462.00,346.20 L462.50,346.05 L463.00,345.90 L463.50,345.73 L464.00,345.56 L464.50,345.38 L465.00,345.18 L465.50,344.98 L466.00,344.77 L466.50,344.55 L467.00,344.32 L467.50,344.08 L468.00,343.83 L468.50,343.57 L469.00,343.32 L469.50,343.05 L470.00,342.78 L470.50,342.51 L471.00,342.24 L471.50,341.97 L472.00,341.70 L472.50,341.44 L473.00,341.18 L473.50,340.93 L474.00,340.69 L474.50,340.47 L475.00,340.25 L475.50,340.05 L476.00,339.87 L476.50,339.71 L477.00,339.56 L477.50,339.44 L478.00,339.34 L478.50,339.26 L479.00,339.21 L479.50,339.18 L480.00,339.18 L480.50,339.20 L481.00,339.24 L481.50,339.31 L482.00,339.40 L482.50,339.51 L483.00,339.64 L483.50,339.79 L484.00,339.96 L484.50,340.14 L485.00,340.33 L485.50,340.53 L486.00,340.74 L486.50,340.96 L487.00,341.18 L487.50,341.41 L488.00,341.64 L488.50,341.87 L489.00,342.10 L489.50,342.32 L490.00,342.55 L490.50,342.76 L491.00,342.97 L491.50,343.18 L492.00,343.37 L492.50,343.56 L493.00,343.73 L493.50,343.90 L494.00,344.06 L494.50,344.21 L495.00,344.35 L495.50,344.47 L496.00,344.59 L496.50,344.70 L497.00,344.80 L497.50,344.89 L498.00,344.97 L498.50,345.04 L499.00,345.11 L499.50,345.16 L500.00,345.21 L500.50,345.26 L501.00,345.29 L501.50,345.32 L502.00,345.35 L502.50,345.37 L503.00,345.39 L503.50,345.40 L504.00,345.41 L504.50,345.41" fill="none" stroke="#b0a020" stroke-width="0.9" stroke-linejoin="round" />
<path d="M297.50,352.27 L298.00,352.12 L298.50,351.97 L299.00,351.80 L299.50,351.64 L300.00,351.46 L300.50,351.29 L301.00,351.10 L301.50,350.92 L302.00,350.73 L302.50,350.54 L303.00,350.34 L303.50,350.15 L304.00,349.95 L304.50,349.76 L305.00,349.57 L305.50,349.38 L306.00,349.20 L306.50,349.02 L307.00,348.85 L307.50,348.68 L308.00,348.53 L308.50,348.38 L309.00,348.24 L309.50,348.11 L310.00,348.00 L310.50,347.90 L311.00,347.81 L311.50,347.73 L312.00,347.66 L312.50,347.61 L313.00,347.58 L313.50,347.55 L314.00,347.54 L314.50,347.55 L315.00,347.56 L315.50,347.59 L316.00,347.63 L316.50,347.68 L317.00,347.74 L317.50,347.81 L318.00,347.89 L318.50,347.97 L319.00,348.06 L319.50,348.15 L320.00,348.25 L320.50,348.34 L321.00,348.44 L321.50,348.54 L322.00,348.63 L322.50,348.72 L323.00,348.81 L323.50,348.89 L324.00,348.96 L324.50,349.02 L325.00,349.06 L325.50,349.10 L326.00,349.12 L326.50,349.12 L327.00,349.10 L327.50,349.06 L328.00,348.99 L328.50,348.89 L329.00,348.76 L329.50,348.60 L330.00,348.39 L330.50,348.14 L331.00,347.84 L331.50,347.48 L332.00,347.06 L332.50,346.57 L333.00,346.00 L333.50,345.35 L334.00,344.61 L334.50,343.76 L335.00,342.81 L335.50,341.73 L336.00,340.52 L336.50,339.18 L337.00,337.69 L337.50,336.04 L338.00,334.22 L338.50,332.23 L339.00,330.06 L339.50,327.69 L340.00,325.14 L340.50,322.39 L341.00,319.45 L341.50,316.31 L342.00,312.97 L342.50,309.45 L343.00,305.76 L343.50,301.90 L344.00,297.88 L344.50,293.73 L345.00,289.48 L345.50,285.13 L346.00,280.72 L346.50,276.29 L347.00,271.85 L347.50,267.46 L348.00,263.15 L348.50,258.95 L349.00,254.92 L349.50,251.08 L350.00,247.50 L350.50,244.20 L351.00,241.23 L351.50,238.63 L352.00,236.44 L352.50,234.67 L353.00,233.37 L353.50,232.55 L354.00,232.21 L354.50,232.37 L355.00,233.02 L355.50,234.14 L356.00,235.71 L356.50,237.72 L357.00,240.11 L357.50,242.87 L358.00,245.95 L358.50,249.31 L359.00,252.90 L359.50,256.67 L360.00,260.60 L360.50,264.63 L361.00,268.72 L361.50,272.84 L362.00,276.95 L362.50,281.01 L363.00,285.00 L363.50,288.90 L364.00,292.67 L364.50,296.29 L365.00,299.77 L365.50,303.07 L366.00,306.19 L366.50,309.13 L367.00,311.87 L367.50,314.43 L368.00,316.81 L368.50,319.00 L369.00,321.01 L369.50,322.86 L370.00,324.55 L370.50,326.09 L371.00,327.49 L371.50,328.77 L372.00,329.93 L372.50,330.99 L373.00,331.95 L373.50,332.84 L374.00,333.66 L374.50,334.41 L375.00,335.12 L375.50,335.78 L376.00,336.40 L376.50,336.99 L377.00,337.56 L377.50,338.11 L378.00,338.64 L378.50,339.16 L379.00,339.66 L379.50,340.15 L380.00,340.63 L380.50,341.11 L381.00,341.57 L381.50,342.02 L382.00,342.47 L382.50,342.90 L383.00,343.32 L383.50,343.72 L384.00,344.11 L384.50,344.49 L385.00,344.85 L385.50,345.19 L386.00,345.51 L386.50,345.82 L387.00,346.10 L387.50,346.37 L388.00,346.62 L388.50,346.85 L389.00,347.06 L389.50,347.26 L390.00,347.44 L390.50,347.60 L391.00,347.74 L391.50,347.87 L392.00,347.99 L392.50,348.09 L393.00,348.18 L393.50,348.26 L394.00,348.33 L394.50,348.38 L395.00,348.43 L395.50,348.47 L396.00,348.51 L396.50,348.53 L397.00,348.55 L397.50,348.57 L398.00,348.58 L398.50,348.59 L399.00,348.59 L399.50,348.59 L400.00,348.58 L400.50,348.58 L401.00,348.57 L401.50,348.56 L402.00,348.55 L402.50,348.53 L403.00,348.52 L403.50,348.50 L404.00,348.48 L404.50,348.46 L405.00,348.44 L405.50,348.42 L406.00,348.40 L406.50,348.37 L407.00,348.35 L407.50,348.32 L408.00,348.30 L408.50,348.27 L409.00,348.25 L409.50,348.22 L410.00,348.19 L410.50,348.16 L411.00,348.13 L411.50,348.10 L412.00,348.07 L412.50,348.04 L413.00,348.01 L413.50,347.97 L414.00,347.94 L414.50,347.90 L415.00,347.87 L415.50,347.83 L416.00,347.79 L416.50,347.76 L417.00,347.72 L417.50,347.68 L418.00,347.64 L418.50,347.59 L419.00,347.55 L419.50,347.51 L420.00,347.46 L420.50,347.42 L421.00,347.37 L421.50,347.32 L422.00,347.27 L422.50,347.22 L423.00,347.17 L423.50,347.11 L424.00,347.06 L424.50,347.00 L425.00,346.94 L425.50,346.88 L426.00,346.81 L426.50,346.74 L427.00,346.67 L427.50,346.59 L428.00,346.51 L428.50,346.43 L429.00,346.33 L429.50,346.23 L430.00,346.12 L430.50,346.00 L431.00,345.87 L431.50,345.72 L432.00,345.56 L432.50,345.38 L433.00,345.18 L433.50,344.96 L434.00,344.71 L434.50,344.43 L435.00,344.13 L435.50,343.79 L436.00,343.42 L436.50,343.01 L437.00,342.56 L437.50,342.07 L438.00,341.55 L438.50,340.99 L439.00,340.38 L439.50,339.74 L440.00,339.06 L440.50,338.33 L441.00,337.57 L441.50,336.78 L442.00,335.94 L442.50,335.06 L443.00,334.15 L443.50,333.19 L444.00,332.18 L444.50,331.13 L445.00,330.02 L445.50,328.85 L446.00,327.62 L446.50,326.32 L447.00,324.94 L447.50,323.49 L448.00,321.94 L448.50,320.31 L449.00,318.59 L449.50,316.77 L450.00,314.85 L450.50,312.85 L451.00,310.75 L451.50,308.56 L452.00,306.30 L452.50,303.96 L453.00,301.56 L453.50,299.12 L454.00,296.64 L454.50,294.15 L455.00,291.66 L455.50,289.18 L456.00,286.75 L456.50,284.38 L457.00,282.10 L457.50,279.93 L458.00,277.89 L458.50,276.01 L459.00,274.31 L459.50,272.82 L460.00,271.56 L460.50,270.54 L461.00,269.77 L461.50,269.28 L462.00,269.07 L462.50,269.13 L463.00,269.46 L463.50,270.06 L464.00,270.91 L464.50,272.00 L465.00,273.31 L465.50,274.81 L466.00,276.49 L466.50,278.32 L467.00,280.28 L467.50,282.34 L468.00,284.49 L468.50,286.69 L469.00,288.94 L469.50,291.21 L470.00,293.49 L470.50,295.76 L471.00,298.00 L471.50,300.21 L472.00,302.38 L472.50,304.49 L473.00,306.54 L473.50,308.52 L474.00,310.42 L474.50,312.25 L475.00,314.00 L475.50,315.67 L476.00,317.26 L476.50,318.77 L477.00,320.20 L477.50,321.55 L478.00,322.83 L478.50,324.04 L479.00,325.18 L479.50,326.25 L480.00,327.27 L480.50,328.22 L481.00,329.13 L481.50,329.98 L482.00,330.79 L482.50,331.56 L483.00,332.29 L483.50,332.97 L484.00,333.63 L484.50,334.25 L485.00,334.85 L485.50,335.41 L486.00,335.95 L486.50,336.46 L487.00,336.95 L487.50,337.42 L488.00,337.87 L488.50,338.29 L489.00,338.70 L489.50,339.09 L490.00,339.46 L490.50,339.81 L491.00,340.14 L491.50,340.46 L492.00,340.75 L492.50,341.04 L493.00,341.30 L493.50,341.55 L494.00,341.79 L494.50,342.01 L495.00,342.21 L495.50,342.40 L496.00,342.58 L496.50,342.74 L497.00,342.90 L497.50,343.04 L498.00,343.16 L498.50,343.28 L499.00,343.39 L499.50,343.49 L500.00,343.58 L500.50,343.66 L501.00,343.73 L501.50,343.80 L502.00,343.86 L502.50,343.92 L503.00,343.96 L503.50,344.01 L504.00,344.05 L504.50,344.08 L505.00,344.11 L505.50,344.14 L506.00,344.16 L506.50,344.18 L507.00,344.20 L507.50,344.21 L508.00,344.23 L508.50,344.24 L509.00,344.25 L509.50,344.25 L510.00,344.26 L510.50,344.27 L511.00,344.27 L511.50,344.27 L512.00,344.27 L512.50,344.27 L513.00,344.27 L513.50,344.27 L514.00,344.27 L514.50,344.27 L515.00,344.27 L515.50,344.26 L516.00,344.26 L516.50,344.26 L517.00,344.25 L517.50,344.25 L518.00,344.24 L518.50,344.23 L519.00,344.23 L519.50,344.22 L520.00,344.21 L520.50,344.21 L521.00,344.20 L521.50,344.19 L522.00,344.18 L522.50,344.17 L523.00,344.16 L523.50,344.15 L524.00,344.14 L524.50,344.13 L525.00,344.12 L525.50,344.11 L526.00,344.10 L526.50,344.09 L527.00,344.08 L527.50,344.07 L528.00,344.06 L528.50,344.04 L529.00,344.03 L529.50,344.02" fill="none" stroke="#ff1a1a" stroke-width="1.25" stroke-linejoin="round" />
<polygon points="83.40,20.90 80.00,26.90 86.80,26.90" fill="#0ca44a"/>
<polygon points="90.00,63.60 86.60,69.60 93.40,69.60" fill="#0ca44a"/>
<polygon points="133.20,63.40 129.80,69.40 136.60,69.40" fill="#0ca44a"/>
<polygon points="83.40,87.10 80.00,93.10 86.80,93.10" fill="#0ca44a"/>
<polygon points="89.90,104.30 86.50,110.30 93.30,110.30" fill="#0ca44a"/>
<polygon points="133.20,103.40 129.80,109.40 136.60,109.40" fill="#0ca44a"/>
<polygon points="83.40,130.80 80.00,136.80 86.80,136.80" fill="#0ca44a"/>
<polygon points="89.90,145.60 86.50,151.60 93.30,151.60" fill="#0ca44a"/>
<polygon points="133.70,141.70 130.30,147.70 137.10,147.70" fill="#0ca44a"/>
<polygon points="128.40,13.30 125.00,19.30 131.80,19.30" fill="#0ca44a"/>
<circle cx="51.7" cy="64" r="2.8" fill="#ffb400"/>
<circle cx="96.3" cy="61.3" r="2.8" fill="#ffb400"/>
<circle cx="149.3" cy="66.6" r="2.8" fill="#ffb400"/>
<circle cx="192" cy="63.5" r="2.8" fill="#ffb400"/>
<circle cx="203.5" cy="65.6" r="2.8" fill="#ffb400"/>
<circle cx="51.7" cy="105.5" r="2.8" fill="#ffb400"/>
<circle cx="96.3" cy="102.9" r="2.8" fill="#ffb400"/>
<circle cx="149.2" cy="108.1" r="2.8" fill="#ffb400"/>
<circle cx="192" cy="103.7" r="2.8" fill="#ffb400"/>
<circle cx="203.3" cy="105.5" r="2.8" fill="#ffb400"/>
<circle cx="51.7" cy="147.3" r="2.8" fill="#ffb400"/>
<circle cx="96.3" cy="142.3" r="2.8" fill="#ffb400"/>
<circle cx="149.3" cy="149.5" r="2.8" fill="#ffb400"/>
<circle cx="192" cy="145" r="2.8" fill="#ffb400"/>
<circle cx="203.5" cy="146.9" r="2.8" fill="#ffb400"/>
<circle cx="128.4" cy="30.0" r="2.8" fill="#ffb400"/>
<rect x="27.2" y="6.2" width="230.3" height="156.0" fill="none" stroke="#111" stroke-width="1.4"/>
<rect x="297.1" y="6.4" width="233.0" height="155.7" fill="none" stroke="#111" stroke-width="1.4"/>
<rect x="26.8" y="204.9" width="232.5" height="155.29999999999998" fill="none" stroke="#111" stroke-width="1.4"/>
<rect x="297.0" y="203.8" width="233.10000000000002" height="156.39999999999998" fill="none" stroke="#111" stroke-width="1.4"/>
<line x1="27.20" y1="162.2" x2="27.20" y2="158.2" stroke="#111" stroke-width="1"/>
<line x1="65.58" y1="162.2" x2="65.58" y2="158.2" stroke="#111" stroke-width="1"/>
<line x1="103.97" y1="162.2" x2="103.97" y2="158.2" stroke="#111" stroke-width="1"/>
<line x1="142.35" y1="162.2" x2="142.35" y2="158.2" stroke="#111" stroke-width="1"/>
<line x1="180.73" y1="162.2" x2="180.73" y2="158.2" stroke="#111" stroke-width="1"/>
<line x1="219.12" y1="162.2" x2="219.12" y2="158.2" stroke="#111" stroke-width="1"/>
<line x1="257.50" y1="162.2" x2="257.50" y2="158.2" stroke="#111" stroke-width="1"/>
<line x1="46.39" y1="162.2" x2="46.39" y2="159.7" stroke="#111" stroke-width="1"/>
<line x1="84.78" y1="162.2" x2="84.78" y2="159.7" stroke="#111" stroke-width="1"/>
<line x1="123.16" y1="162.2" x2="123.16" y2="159.7" stroke="#111" stroke-width="1"/>
<line x1="161.54" y1="162.2" x2="161.54" y2="159.7" stroke="#111" stroke-width="1"/>
<line x1="199.92" y1="162.2" x2="199.92" y2="159.7" stroke="#111" stroke-width="1"/>
<line x1="238.31" y1="162.2" x2="238.31" y2="159.7" stroke="#111" stroke-width="1"/>
<line x1="297.10" y1="162.1" x2="297.10" y2="158.1" stroke="#111" stroke-width="1"/>
<line x1="343.70" y1="162.1" x2="343.70" y2="158.1" stroke="#111" stroke-width="1"/>
<line x1="390.30" y1="162.1" x2="390.30" y2="158.1" stroke="#111" stroke-width="1"/>
<line x1="436.90" y1="162.1" x2="436.90" y2="158.1" stroke="#111" stroke-width="1"/>
<line x1="483.50" y1="162.1" x2="483.50" y2="158.1" stroke="#111" stroke-width="1"/>
<line x1="530.10" y1="162.1" x2="530.10" y2="158.1" stroke="#111" stroke-width="1"/>
<line x1="320.40" y1="162.1" x2="320.40" y2="159.6" stroke="#111" stroke-width="1"/>
<line x1="367.00" y1="162.1" x2="367.00" y2="159.6" stroke="#111" stroke-width="1"/>
<line x1="413.60" y1="162.1" x2="413.60" y2="159.6" stroke="#111" stroke-width="1"/>
<line x1="460.20" y1="162.1" x2="460.20" y2="159.6" stroke="#111" stroke-width="1"/>
<line x1="506.80" y1="162.1" x2="506.80" y2="159.6" stroke="#111" stroke-width="1"/>
<line x1="26.80" y1="360.2" x2="26.80" y2="356.2" stroke="#111" stroke-width="1"/>
<line x1="116.22" y1="360.2" x2="116.22" y2="356.2" stroke="#111" stroke-width="1"/>
<line x1="205.65" y1="360.2" x2="205.65" y2="356.2" stroke="#111" stroke-width="1"/>
<line x1="71.51" y1="360.2" x2="71.51" y2="357.7" stroke="#111" stroke-width="1"/>
<line x1="160.93" y1="360.2" x2="160.93" y2="357.7" stroke="#111" stroke-width="1"/>
<line x1="250.36" y1="360.2" x2="250.36" y2="357.7" stroke="#111" stroke-width="1"/>
<line x1="297.00" y1="360.2" x2="297.00" y2="356.2" stroke="#111" stroke-width="1"/>
<line x1="386.65" y1="360.2" x2="386.65" y2="356.2" stroke="#111" stroke-width="1"/>
<line x1="476.31" y1="360.2" x2="476.31" y2="356.2" stroke="#111" stroke-width="1"/>
<line x1="341.83" y1="360.2" x2="341.83" y2="357.7" stroke="#111" stroke-width="1"/>
<line x1="431.48" y1="360.2" x2="431.48" y2="357.7" stroke="#111" stroke-width="1"/>
<line x1="521.13" y1="360.2" x2="521.13" y2="357.7" stroke="#111" stroke-width="1"/>
<line x1="27.2" y1="33.40" x2="29.7" y2="33.40" stroke="#111" stroke-width="1"/>
<line x1="27.2" y1="54.00" x2="29.7" y2="54.00" stroke="#111" stroke-width="1"/>
<line x1="27.2" y1="74.60" x2="29.7" y2="74.60" stroke="#111" stroke-width="1"/>
<line x1="27.2" y1="95.20" x2="29.7" y2="95.20" stroke="#111" stroke-width="1"/>
<line x1="27.2" y1="115.80" x2="29.7" y2="115.80" stroke="#111" stroke-width="1"/>
<line x1="27.2" y1="136.40" x2="29.7" y2="136.40" stroke="#111" stroke-width="1"/>
<line x1="297.1" y1="15.00" x2="299.6" y2="15.00" stroke="#111" stroke-width="1"/>
<line x1="297.1" y1="33.40" x2="299.6" y2="33.40" stroke="#111" stroke-width="1"/>
<line x1="297.1" y1="51.80" x2="299.6" y2="51.80" stroke="#111" stroke-width="1"/>
<line x1="297.1" y1="70.20" x2="299.6" y2="70.20" stroke="#111" stroke-width="1"/>
<line x1="297.1" y1="88.60" x2="299.6" y2="88.60" stroke="#111" stroke-width="1"/>
<line x1="297.1" y1="107.00" x2="299.6" y2="107.00" stroke="#111" stroke-width="1"/>
<line x1="297.1" y1="125.40" x2="299.6" y2="125.40" stroke="#111" stroke-width="1"/>
<line x1="297.1" y1="143.80" x2="299.6" y2="143.80" stroke="#111" stroke-width="1"/>
<line x1="26.8" y1="224.00" x2="29.3" y2="224.00" stroke="#111" stroke-width="1"/>
<line x1="26.8" y1="243.40" x2="29.3" y2="243.40" stroke="#111" stroke-width="1"/>
<line x1="26.8" y1="262.80" x2="29.3" y2="262.80" stroke="#111" stroke-width="1"/>
<line x1="26.8" y1="282.20" x2="29.3" y2="282.20" stroke="#111" stroke-width="1"/>
<line x1="26.8" y1="301.60" x2="29.3" y2="301.60" stroke="#111" stroke-width="1"/>
<line x1="26.8" y1="321.00" x2="29.3" y2="321.00" stroke="#111" stroke-width="1"/>
<line x1="26.8" y1="340.40" x2="29.3" y2="340.40" stroke="#111" stroke-width="1"/>
<line x1="297.0" y1="232.00" x2="299.5" y2="232.00" stroke="#111" stroke-width="1"/>
<line x1="297.0" y1="260.50" x2="299.5" y2="260.50" stroke="#111" stroke-width="1"/>
<line x1="297.0" y1="289.00" x2="299.5" y2="289.00" stroke="#111" stroke-width="1"/>
<line x1="297.0" y1="317.50" x2="299.5" y2="317.50" stroke="#111" stroke-width="1"/>
<line x1="297.0" y1="346.00" x2="299.5" y2="346.00" stroke="#111" stroke-width="1"/>
<text x="27.20" y="175.50" font-size="12.2" font-weight="bold" font-style="normal" text-anchor="middle" fill="#000" textLength="14.0" lengthAdjust="spacingAndGlyphs">20</text>
<text x="65.58" y="175.50" font-size="12.2" font-weight="bold" font-style="normal" text-anchor="middle" fill="#000" textLength="14.0" lengthAdjust="spacingAndGlyphs">30</text>
<text x="103.97" y="175.50" font-size="12.2" font-weight="bold" font-style="normal" text-anchor="middle" fill="#000" textLength="14.0" lengthAdjust="spacingAndGlyphs">40</text>
<text x="142.35" y="175.50" font-size="12.2" font-weight="bold" font-style="normal" text-anchor="middle" fill="#000" textLength="14.0" lengthAdjust="spacingAndGlyphs">50</text>
<text x="180.73" y="175.50" font-size="12.2" font-weight="bold" font-style="normal" text-anchor="middle" fill="#000" textLength="14.0" lengthAdjust="spacingAndGlyphs">60</text>
<text x="219.12" y="175.50" font-size="12.2" font-weight="bold" font-style="normal" text-anchor="middle" fill="#000" textLength="14.0" lengthAdjust="spacingAndGlyphs">70</text>
<text x="257.50" y="175.50" font-size="12.2" font-weight="bold" font-style="normal" text-anchor="middle" fill="#000" textLength="14.0" lengthAdjust="spacingAndGlyphs">80</text>
<text x="297.10" y="175.50" font-size="12.2" font-weight="bold" font-style="normal" text-anchor="middle" fill="#000" textLength="28.0" lengthAdjust="spacingAndGlyphs">1010</text>
<text x="343.70" y="175.50" font-size="12.2" font-weight="bold" font-style="normal" text-anchor="middle" fill="#000" textLength="28.0" lengthAdjust="spacingAndGlyphs">1020</text>
<text x="390.30" y="175.50" font-size="12.2" font-weight="bold" font-style="normal" text-anchor="middle" fill="#000" textLength="28.0" lengthAdjust="spacingAndGlyphs">1030</text>
<text x="436.90" y="175.50" font-size="12.2" font-weight="bold" font-style="normal" text-anchor="middle" fill="#000" textLength="28.0" lengthAdjust="spacingAndGlyphs">1040</text>
<text x="483.50" y="175.50" font-size="12.2" font-weight="bold" font-style="normal" text-anchor="middle" fill="#000" textLength="28.0" lengthAdjust="spacingAndGlyphs">1050</text>
<text x="530.10" y="175.50" font-size="12.2" font-weight="bold" font-style="normal" text-anchor="middle" fill="#000" textLength="28.0" lengthAdjust="spacingAndGlyphs">1060</text>
<text x="26.80" y="373.60" font-size="12.4" font-weight="bold" font-style="normal" text-anchor="middle" fill="#000" textLength="22.3" lengthAdjust="spacingAndGlyphs">455</text>
<text x="116.22" y="373.60" font-size="12.4" font-weight="bold" font-style="normal" text-anchor="middle" fill="#000" textLength="22.3" lengthAdjust="spacingAndGlyphs">460</text>
<text x="205.65" y="373.60" font-size="12.4" font-weight="bold" font-style="normal" text-anchor="middle" fill="#000" textLength="22.3" lengthAdjust="spacingAndGlyphs">465</text>
<text x="297.00" y="373.60" font-size="12.4" font-weight="bold" font-style="normal" text-anchor="middle" fill="#000" textLength="22.3" lengthAdjust="spacingAndGlyphs">365</text>
<text x="386.65" y="373.60" font-size="12.4" font-weight="bold" font-style="normal" text-anchor="middle" fill="#000" textLength="22.3" lengthAdjust="spacingAndGlyphs">370</text>
<text x="476.31" y="373.60" font-size="12.4" font-weight="bold" font-style="normal" text-anchor="middle" fill="#000" textLength="22.3" lengthAdjust="spacingAndGlyphs">375</text>
<text x="142.20" y="196.90" font-size="12.2" font-weight="bold" font-style="normal" text-anchor="middle" fill="#000" textLength="102.6" lengthAdjust="spacingAndGlyphs">2 Theta (degree)</text>
<text x="413.50" y="195.80" font-size="12.0" font-weight="bold" font-style="normal" text-anchor="middle" fill="#000" textLength="126.0" lengthAdjust="spacingAndGlyphs">Binding Energy (eV)</text>
<text x="143.20" y="393.90" font-size="11.8" font-weight="bold" font-style="normal" text-anchor="middle" fill="#000" textLength="125.5" lengthAdjust="spacingAndGlyphs">Binding Energy (eV)</text>
<text x="413.50" y="393.90" font-size="11.8" font-weight="bold" font-style="normal" text-anchor="middle" fill="#000" textLength="125.5" lengthAdjust="spacingAndGlyphs">Binding Energy (eV)</text>
<text x="0.00" y="0.00" font-size="13.0" font-weight="bold" font-style="normal" text-anchor="middle" fill="#000" textLength="87.0" lengthAdjust="spacingAndGlyphs" transform="translate(16.8,91.6) rotate(-90)">Intensity (a.u.)</text>
<text x="0.00" y="0.00" font-size="13.0" font-weight="bold" font-style="normal" text-anchor="middle" fill="#000" textLength="87.0" lengthAdjust="spacingAndGlyphs" transform="translate(285.3,90.9) rotate(-90)">Intensity (a.u.)</text>
<text x="0.00" y="0.00" font-size="13.0" font-weight="bold" font-style="normal" text-anchor="middle" fill="#000" textLength="87.0" lengthAdjust="spacingAndGlyphs" transform="translate(17.3,290.2) rotate(-90)">Intensity (a.u.)</text>
<text x="0.00" y="0.00" font-size="13.0" font-weight="bold" font-style="normal" text-anchor="middle" fill="#000" textLength="87.0" lengthAdjust="spacingAndGlyphs" transform="translate(285.3,289.9) rotate(-90)">Intensity (a.u.)</text>
<text x="33.80" y="22.70" font-size="12.8" font-weight="bold" font-style="normal" text-anchor="start" fill="#000" textLength="15.3" lengthAdjust="spacingAndGlyphs">(a)</text>
<text x="304.70" y="24.50" font-size="12.8" font-weight="bold" font-style="normal" text-anchor="start" fill="#000" textLength="15.9" lengthAdjust="spacingAndGlyphs">(b)</text>
<text x="35.80" y="222.60" font-size="13.4" font-weight="bold" font-style="normal" text-anchor="start" fill="#000" textLength="13.9" lengthAdjust="spacingAndGlyphs">(c)</text>
<text x="304.70" y="221.20" font-size="13.0" font-weight="bold" font-style="normal" text-anchor="start" fill="#000" textLength="15.9" lengthAdjust="spacingAndGlyphs">(d)</text>
<text x="32.50" y="57.40" font-size="10.5" font-weight="bold" font-style="italic" text-anchor="start" fill="#000" textLength="19.7" lengthAdjust="spacingAndGlyphs">ZAT</text>
<text x="31.50" y="97.90" font-size="10.5" font-weight="bold" font-style="italic" text-anchor="start" fill="#000" textLength="12.4" lengthAdjust="spacingAndGlyphs">ZT</text>
<text x="31.50" y="140.70" font-size="10.3" font-weight="bold" font-style="normal" text-anchor="start" fill="#000" textLength="20.2" lengthAdjust="spacingAndGlyphs">ZnO</text>
<text x="135.80" y="20.80" font-size="9.8" font-weight="bold" font-style="normal" text-anchor="start" fill="#000" textLength="103.8" lengthAdjust="spacingAndGlyphs">Wurztite phase of ZnO</text>
<text x="135.8" y="32.7" font-size="9.8" font-weight="bold" textLength="116.5" lengthAdjust="spacingAndGlyphs">SnO<tspan font-size="6.5" dy="2">2</tspan><tspan dy="-2"> from FTO substrate</tspan></text>
<text x="339.60" y="17.50" font-size="9.3" font-weight="bold" font-style="normal" text-anchor="start" fill="#000" textLength="41.5" lengthAdjust="spacingAndGlyphs">Zn 2p3/2</text>
<text x="440.50" y="66.10" font-size="9.3" font-weight="bold" font-style="normal" text-anchor="start" fill="#000" textLength="41.5" lengthAdjust="spacingAndGlyphs">Zn 2p1/2</text>
<line x1="472" y1="17.5" x2="491.8" y2="17.5" stroke="#ff9933" stroke-width="1.2"/>
<text x="494.00" y="20.40" font-size="9.3" font-weight="bold" font-style="italic" text-anchor="start" fill="#000" textLength="13.1" lengthAdjust="spacingAndGlyphs">ZA</text>
<line x1="472" y1="29.5" x2="491.8" y2="29.5" stroke="#3333ff" stroke-width="1.2"/>
<text x="494.00" y="32.40" font-size="9.3" font-weight="bold" font-style="italic" text-anchor="start" fill="#000" textLength="12.5" lengthAdjust="spacingAndGlyphs">ZT</text>
<line x1="472" y1="41.5" x2="491.8" y2="41.5" stroke="#33a033" stroke-width="1.2"/>
<text x="494.00" y="44.40" font-size="9.3" font-weight="bold" font-style="normal" text-anchor="start" fill="#000" textLength="20.3" lengthAdjust="spacingAndGlyphs">ZnO</text>
<line x1="472" y1="53.4" x2="491.8" y2="53.4" stroke="#ff3333" stroke-width="1.2"/>
<text x="494.00" y="56.30" font-size="9.3" font-weight="bold" font-style="italic" text-anchor="start" fill="#000" textLength="21.2" lengthAdjust="spacingAndGlyphs">ZAT</text>
<text x="313.00" y="92.70" font-size="12.0" font-weight="bold" font-style="italic" text-anchor="start" fill="#000" textLength="14.4" lengthAdjust="spacingAndGlyphs">ZA</text>
<text x="374.00" y="90.10" font-size="11.5" font-weight="bold" font-style="normal" text-anchor="start" fill="#000" textLength="22.9" lengthAdjust="spacingAndGlyphs">ZnO</text>
<text x="431.50" y="99.30" font-size="12.0" font-weight="bold" font-style="italic" text-anchor="start" fill="#000" textLength="13.9" lengthAdjust="spacingAndGlyphs">ZT</text>
<text x="495.50" y="100.20" font-size="12.0" font-weight="bold" font-style="italic" text-anchor="start" fill="#000" textLength="22.3" lengthAdjust="spacingAndGlyphs">ZAT</text>
<line x1="320.50" y1="96.60" x2="328.32" y2="120.59" stroke="#000" stroke-width="1.7"/>
<polygon points="330.80,128.20 325.37,121.55 331.27,119.63" fill="#000"/>
<line x1="383.80" y1="95.00" x2="377.26" y2="115.19" stroke="#000" stroke-width="1.7"/>
<polygon points="374.80,122.80 374.31,114.23 380.21,116.14" fill="#000"/>
<line x1="438.60" y1="101.00" x2="438.60" y2="127.90" stroke="#000" stroke-width="1.7"/>
<polygon points="438.60,135.90 435.50,127.90 441.70,127.90" fill="#000"/>
<line x1="503.90" y1="104.50" x2="499.86" y2="138.06" stroke="#000" stroke-width="1.7"/>
<polygon points="498.90,146.00 496.78,137.69 502.93,138.43" fill="#000"/>
<text x="75.70" y="218.20" font-size="9.3" font-weight="bold" font-style="normal" text-anchor="start" fill="#000" textLength="37.6" lengthAdjust="spacingAndGlyphs">Ti 2p3/2</text>
<text x="179.30" y="281.30" font-size="9.3" font-weight="bold" font-style="normal" text-anchor="start" fill="#000" textLength="37.1" lengthAdjust="spacingAndGlyphs">Ti 2p1/2</text>
<circle cx="179.6" cy="221.0" r="1.3" fill="#fff" stroke="#222" stroke-width="0.7"/>
<text x="191.60" y="223.30" font-size="8.8" font-weight="normal" font-style="normal" text-anchor="start" fill="#111" textLength="48.2" lengthAdjust="spacingAndGlyphs">Expt. Data</text>
<line x1="171.5" y1="233.5" x2="188.5" y2="233.5" stroke="#ff3030" stroke-width="1.2"/>
<text x="191.90" y="235.00" font-size="8.8" font-weight="normal" font-style="normal" text-anchor="start" fill="#111" textLength="57.6" lengthAdjust="spacingAndGlyphs">Fitted Curve</text>
<text x="337.00" y="226.00" font-size="9.6" font-weight="bold" font-style="normal" text-anchor="start" fill="#000" textLength="41.9" lengthAdjust="spacingAndGlyphs">Ag 3d5/2</text>
<text x="441.60" y="260.20" font-size="9.6" font-weight="bold" font-style="normal" text-anchor="start" fill="#000" textLength="42.6" lengthAdjust="spacingAndGlyphs">Ag 3d3/2</text>
<circle cx="446" cy="217.5" r="1.4" fill="#fff" stroke="#222" stroke-width="0.8"/>
<text x="458.00" y="220.20" font-size="9.4" font-weight="bold" font-style="normal" text-anchor="start" fill="#000" textLength="49.8" lengthAdjust="spacingAndGlyphs">Expt. Data</text>
<line x1="436.2" y1="229.5" x2="455.8" y2="229.5" stroke="#ff3030" stroke-width="1.2"/>
<text x="458.40" y="231.90" font-size="9.4" font-weight="bold" font-style="normal" text-anchor="start" fill="#000" textLength="60.0" lengthAdjust="spacingAndGlyphs">Fitted Curve</text>
</svg>
</body></html>
